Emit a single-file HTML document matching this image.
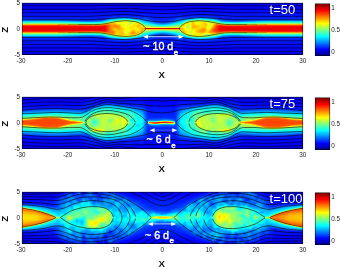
<!DOCTYPE html>
<html><head><meta charset="utf-8"><title>Current sheet evolution</title>
<style>
html,body{margin:0;padding:0;background:#fff}
body{width:340px;height:267px;position:relative;overflow:hidden;font-family:"Liberation Sans",sans-serif}
.r{position:absolute;left:22px;width:281px;height:1px}
.cb{position:absolute;left:315px;width:15px;height:52px;background:linear-gradient(180deg,#800000 0%,#ff0000 12.5%,#ffff00 37.5%,#00ffff 62.5%,#0000ff 87.5%,#000080 100%)}
svg{position:absolute;left:0;top:0}
.fl{fill:none;stroke:#000;stroke-width:1;stroke-opacity:.6}
.fl2{stroke-opacity:.4}
.fl3{stroke-opacity:.2}
.tk{font-size:6.3px;fill:#222}
.ax{font-size:9.6px;font-weight:bold;fill:#111}
.tl{font-size:13px;fill:#fff}
.an{font-size:10.7px;fill:#fff;stroke:#fff;stroke-width:.4}
.sub{font-size:8px}
.fr{fill:none;stroke:#000;stroke-width:.8;stroke-opacity:.65}
.ar{stroke:#fff;stroke-width:.8;fill:none}
.ah{fill:#fff}
</style></head><body>

<div class="r" style="top:3px;background:linear-gradient(90deg,#0000e6 0.5px,#0000e6 280.5px)"></div>
<div class="r" style="top:4px;background:linear-gradient(90deg,#0000eb 0.5px,#0000eb 280.5px)"></div>
<div class="r" style="top:5px;background:linear-gradient(90deg,#0000f0 0.5px,#0000f0 280.5px)"></div>
<div class="r" style="top:6px;background:linear-gradient(90deg,#0000f4 0.5px,#0000f4 280.5px)"></div>
<div class="r" style="top:7px;background:linear-gradient(90deg,#0000f8 0.5px,#0000f8 280.5px)"></div>
<div class="r" style="top:8px;background:linear-gradient(90deg,#0000fd 0.5px,#0000fd 280.5px)"></div>
<div class="r" style="top:9px;background:linear-gradient(90deg,#0002ff 0.5px,#0002ff 280.5px)"></div>
<div class="r" style="top:10px;background:linear-gradient(90deg,#0005ff 0.5px,#0005ff 280.5px)"></div>
<div class="r" style="top:11px;background:linear-gradient(90deg,#0009ff 0.5px,#0009ff 280.5px)"></div>
<div class="r" style="top:12px;background:linear-gradient(90deg,#000cff 0.5px,#000cff 280.5px)"></div>
<div class="r" style="top:13px;background:linear-gradient(90deg,#000fff 0.5px,#000fff 280.5px)"></div>
<div class="r" style="top:14px;background:linear-gradient(90deg,#0012ff 0.5px,#0012ff 118.5px,#001aff 122.5px,#0012ff 131.5px,#0013ff 151.5px,#001aff 158.5px,#0012ff 162.5px,#0012ff 280.5px)"></div>
<div class="r" style="top:15px;background:linear-gradient(90deg,#0015ff 0.5px,#0015ff 118.5px,#0021ff 122.5px,#0015ff 132.5px,#0016ff 151.5px,#0021ff 158.5px,#0015ff 162.5px,#0015ff 280.5px)"></div>
<div class="r" style="top:16px;background:linear-gradient(90deg,#0018ff 0.5px,#0018ff 86.5px,#002fff 101.5px,#0019ff 118.5px,#002aff 122.5px,#001aff 129.5px,#0018ff 140.5px,#001aff 151.5px,#002aff 158.5px,#0019ff 162.5px,#002fff 179.5px,#0018ff 194.5px,#0018ff 280.5px)"></div>
<div class="r" style="top:17px;background:linear-gradient(90deg,#001aff 0.5px,#001aff 84.5px,#004cff 93.5px,#005fff 101.5px,#0057ff 106.5px,#002bff 117.5px,#0038ff 123.5px,#0021ff 128.5px,#001bff 133.5px,#001dff 150.5px,#0038ff 157.5px,#0028ff 162.5px,#0057ff 174.5px,#005fff 179.5px,#004cff 187.5px,#001aff 196.5px,#001aff 280.5px)"></div>
<div class="r" style="top:18px;background:linear-gradient(90deg,#0026ff 0.5px,#001dff 80.5px,#0022ff 82.5px,#0037ff 85.5px,#006fff 89.5px,#00a3ff 95.5px,#00baff 99.5px,#00c1ff 102.5px,#00b5ff 106.5px,#006aff 113.5px,#004aff 118.5px,#004cff 123.5px,#002aff 128.5px,#001eff 133.5px,#001fff 148.5px,#002aff 152.5px,#004cff 157.5px,#004aff 162.5px,#006aff 167.5px,#00b5ff 174.5px,#00c1ff 178.5px,#00baff 181.5px,#00a3ff 185.5px,#006fff 191.5px,#0037ff 195.5px,#0022ff 198.5px,#001dff 200.5px,#0026ff 280.5px)"></div>
<div class="r" style="top:19px;background:linear-gradient(90deg,#0042ff 0.5px,#0041ff 35.5px,#0022ff 66.5px,#0030ff 79.5px,#0036ff 81.5px,#004aff 83.5px,#0070ff 85.5px,#00b7ff 88.5px,#00c6ff 89.5px,#00feff 97.5px,#07fff8 98.5px,#22ffdd 103.5px,#1bffe4 105.5px,#00feff 108.5px,#00cbff 113.5px,#0078ff 119.5px,#0069ff 123.5px,#0033ff 129.5px,#0022ff 135.5px,#0022ff 145.5px,#0033ff 151.5px,#0069ff 157.5px,#0078ff 161.5px,#00d6ff 168.5px,#00feff 172.5px,#09fff6 173.5px,#22ffdd 177.5px,#1cffe3 179.5px,#00feff 183.5px,#00cfff 190.5px,#00b7ff 192.5px,#005cff 196.5px,#003eff 198.5px,#002cff 203.5px,#0022ff 214.5px,#0041ff 245.5px,#0042ff 280.5px)"></div>
<div class="r" style="top:20px;background:linear-gradient(90deg,#007eff 0.5px,#007dff 36.5px,#0044ff 60.5px,#003dff 70.5px,#0052ff 77.5px,#006cff 81.5px,#008fff 83.5px,#00e6ff 86.5px,#00f8ff 87.5px,#04fffb 88.5px,#22ffdd 91.5px,#90ff6f 96.5px,#afff50 98.5px,#cbff34 101.5px,#d3ff2c 103.5px,#c9ff36 106.5px,#a2ff5d 109.5px,#4fffb0 112.5px,#0ffff0 114.5px,#00f7ff 115.5px,#00abff 120.5px,#0046ff 129.5px,#002cff 134.5px,#0025ff 140.5px,#002cff 146.5px,#0046ff 151.5px,#00abff 160.5px,#00f7ff 165.5px,#0ffff0 166.5px,#4fffb0 168.5px,#a2ff5d 171.5px,#c9ff36 174.5px,#d3ff2c 177.5px,#cbff34 179.5px,#afff50 182.5px,#90ff6f 184.5px,#22ffdd 189.5px,#04fffb 192.5px,#00f8ff 193.5px,#00e6ff 194.5px,#008fff 197.5px,#006cff 199.5px,#0052ff 203.5px,#003dff 210.5px,#0044ff 220.5px,#007dff 244.5px,#007eff 280.5px)"></div>
<div class="r" style="top:21px;background:linear-gradient(90deg,#00dbff 0.5px,#00d9ff 36.5px,#00c7ff 43.5px,#008bff 59.5px,#007bff 68.5px,#0086ff 73.5px,#00a1ff 78.5px,#00b4ff 80.5px,#00f7ff 83.5px,#0efff1 84.5px,#47ffb8 87.5px,#beff41 91.5px,#dbff24 93.5px,#ddff22 94.5px,#89ff76 95.5px,#92ff6d 96.5px,#bdff42 98.5px,#fbff04 102.5px,#f5ff0a 103.5px,#afff50 106.5px,#94ff6b 108.5px,#93ff6c 109.5px,#aaff55 111.5px,#afff50 112.5px,#d5ff2a 113.5px,#b6ff49 114.5px,#4dffb2 116.5px,#21ffde 117.5px,#04fffb 118.5px,#00ecff 119.5px,#0071ff 128.5px,#0051ff 131.5px,#0039ff 135.5px,#0031ff 141.5px,#003dff 146.5px,#005aff 150.5px,#00dcff 160.5px,#04fffb 162.5px,#21ffde 163.5px,#4dffb2 164.5px,#b6ff49 166.5px,#d5ff2a 167.5px,#c1ff3e 168.5px,#e1ff1e 169.5px,#f6ff09 170.5px,#f6ff09 171.5px,#caff35 173.5px,#bbff44 174.5px,#beff41 175.5px,#daff25 177.5px,#deff21 178.5px,#d1ff2e 181.5px,#b8ff47 183.5px,#8fff70 185.5px,#c9ff36 186.5px,#dbff24 187.5px,#beff41 189.5px,#47ffb8 193.5px,#0efff1 196.5px,#00f7ff 197.5px,#00b4ff 200.5px,#00a1ff 202.5px,#0086ff 207.5px,#007bff 212.5px,#008bff 221.5px,#00c7ff 237.5px,#00d9ff 244.5px,#00dbff 280.5px)"></div>
<div class="r" style="top:22px;background:linear-gradient(90deg,#33ffcc 0.5px,#31ffce 36.5px,#22ffdd 45.5px,#00ffff 57.5px,#00e4ff 68.5px,#00e9ff 71.5px,#01fffe 76.5px,#1cffe3 80.5px,#49ffb6 83.5px,#60ff9f 84.5px,#84ff7b 85.5px,#edff12 87.5px,#fff600 88.5px,#ffd200 89.5px,#f7ff08 90.5px,#fffb00 92.5px,#d5ff2a 95.5px,#fdff02 98.5px,#f8ff07 100.5px,#fff700 103.5px,#f6ff09 104.5px,#c9ff36 106.5px,#bcff43 107.5px,#bcff43 108.5px,#f2ff0d 111.5px,#f4ff0b 112.5px,#d5ff2a 115.5px,#d6ff29 116.5px,#b0ff4f 117.5px,#37ffc8 119.5px,#0efff1 120.5px,#00fbff 121.5px,#00dbff 124.5px,#0090ff 129.5px,#006cff 132.5px,#0050ff 136.5px,#0047ff 140.5px,#0050ff 144.5px,#006cff 148.5px,#0090ff 151.5px,#00dbff 156.5px,#00fbff 159.5px,#0efff1 160.5px,#37ffc8 161.5px,#b0ff4f 163.5px,#d6ff29 164.5px,#c2ff3d 165.5px,#c9ff36 166.5px,#d8ff27 167.5px,#f9ff06 168.5px,#ffdf00 169.5px,#ffc600 170.5px,#ffc800 171.5px,#fffa00 173.5px,#f1ff0e 174.5px,#edff12 175.5px,#fffb00 178.5px,#ffdc00 182.5px,#ffe200 183.5px,#fff700 184.5px,#cfff30 186.5px,#c0ff3f 187.5px,#a4ff5b 190.5px,#e2ff1d 191.5px,#fff600 192.5px,#edff12 193.5px,#84ff7b 195.5px,#60ff9f 196.5px,#49ffb6 197.5px,#1cffe3 200.5px,#01fffe 204.5px,#00e9ff 209.5px,#00e4ff 212.5px,#00ffff 223.5px,#22ffdd 235.5px,#31ffce 244.5px,#33ffcc 280.5px)"></div>
<div class="r" style="top:23px;background:linear-gradient(90deg,#8dff72 0.5px,#8cff73 35.5px,#4fffb0 60.5px,#44ffbb 70.5px,#58ffa7 77.5px,#71ff8e 80.5px,#85ff7a 81.5px,#a5ff5a 82.5px,#fffa00 84.5px,#ffea00 85.5px,#ffcf00 86.5px,#ffc500 87.5px,#ffc500 89.5px,#ffb500 91.5px,#ffb700 92.5px,#fffc00 95.5px,#fff100 98.5px,#ffff00 99.5px,#f0ff0f 100.5px,#ebff14 101.5px,#f9ff06 103.5px,#f3ff0c 104.5px,#bfff40 107.5px,#c3ff3c 108.5px,#f5ff0a 110.5px,#fff700 111.5px,#ffe800 115.5px,#fff500 116.5px,#e9ff16 117.5px,#f7ff08 118.5px,#62ff9d 120.5px,#33ffcc 121.5px,#1effe1 122.5px,#04fffb 125.5px,#00acff 131.5px,#008bff 134.5px,#0077ff 137.5px,#0070ff 140.5px,#0077ff 143.5px,#008bff 146.5px,#00acff 149.5px,#04fffb 155.5px,#1effe1 158.5px,#33ffcc 159.5px,#62ff9d 160.5px,#adff52 161.5px,#ffde00 162.5px,#e5ff1a 163.5px,#f0ff0f 167.5px,#fff600 168.5px,#ffd700 169.5px,#ffc400 170.5px,#ffc600 171.5px,#ffff00 174.5px,#feff01 176.5px,#ffeb00 179.5px,#ffc800 182.5px,#ffc600 183.5px,#ffd500 184.5px,#ffef00 185.5px,#f5ff0a 186.5px,#e5ff1a 187.5px,#e2ff1d 188.5px,#ebff14 190.5px,#f9ff06 191.5px,#ffdb00 193.5px,#ffd800 194.5px,#ffff00 196.5px,#a5ff5a 198.5px,#85ff7a 199.5px,#71ff8e 200.5px,#58ffa7 203.5px,#44ffbb 210.5px,#4fffb0 220.5px,#8cff73 245.5px,#8dff72 280.5px)"></div>
<div class="r" style="top:24px;background:linear-gradient(90deg,#ffba00 0.5px,#ffbb00 35.5px,#ffce00 42.5px,#fffd00 52.5px,#d4ff2b 63.5px,#c5ff3a 70.5px,#d2ff2d 74.5px,#f2ff0d 78.5px,#fffb00 79.5px,#ff9f00 82.5px,#ff8500 84.5px,#ff7700 86.5px,#ffa500 89.5px,#ffa800 90.5px,#ff9b00 92.5px,#ffa400 93.5px,#ffce00 95.5px,#ffd500 97.5px,#ffdf00 98.5px,#fff600 99.5px,#efff10 100.5px,#e0ff1f 101.5px,#f0ff0f 104.5px,#d4ff2b 107.5px,#daff25 108.5px,#fff600 110.5px,#ffea00 111.5px,#ffef00 113.5px,#ffe700 114.5px,#ffc800 116.5px,#ffd100 117.5px,#feff01 118.5px,#bcff43 119.5px,#b9ff46 120.5px,#83ff7c 121.5px,#57ffa8 122.5px,#48ffb7 123.5px,#3effc1 125.5px,#00fdff 130.5px,#00c6ff 135.5px,#00b4ff 138.5px,#00b1ff 140.5px,#00b4ff 142.5px,#00c6ff 145.5px,#00fdff 150.5px,#3effc1 155.5px,#48ffb7 157.5px,#57ffa8 158.5px,#83ff7c 159.5px,#b9ff46 160.5px,#fcff03 161.5px,#ffed00 162.5px,#ffed00 163.5px,#fcff03 164.5px,#e5ff1a 165.5px,#d8ff27 166.5px,#e1ff1e 167.5px,#feff01 168.5px,#ffdd00 169.5px,#ffc700 170.5px,#ffc400 171.5px,#ffed00 174.5px,#fff100 175.5px,#ffe100 180.5px,#ffc200 183.5px,#ffca00 184.5px,#feff01 186.5px,#e9ff16 187.5px,#e6ff19 188.5px,#f1ff0e 189.5px,#fff600 190.5px,#ff8b00 193.5px,#ff7700 194.5px,#ff7c00 195.5px,#ffa000 198.5px,#fffb00 201.5px,#f2ff0d 202.5px,#d2ff2d 206.5px,#c5ff3a 210.5px,#d4ff2b 217.5px,#fffd00 228.5px,#ffce00 238.5px,#ffbb00 245.5px,#ffba00 280.5px)"></div>
<div class="r" style="top:25px;background:linear-gradient(90deg,#ff3a00 0.5px,#ff3c00 36.5px,#ff7100 70.5px,#ff5c00 78.5px,#ff2700 82.5px,#ff2a00 83.5px,#ff3900 84.5px,#ff9900 89.5px,#ff9e00 90.5px,#ff8b00 92.5px,#ff8a00 93.5px,#ff9400 94.5px,#ffb900 97.5px,#f8ff07 100.5px,#e4ff1b 101.5px,#dfff20 102.5px,#efff10 104.5px,#f1ff0e 107.5px,#f9ff06 108.5px,#ffe100 111.5px,#ffea00 113.5px,#ffe100 114.5px,#ffbe00 116.5px,#ffc000 117.5px,#ffd200 118.5px,#fff500 119.5px,#ccff33 120.5px,#beff41 121.5px,#97ff68 122.5px,#7dff82 123.5px,#75ff8a 125.5px,#1affe5 135.5px,#07fff8 140.5px,#1affe5 145.5px,#75ff8a 155.5px,#7dff82 157.5px,#97ff68 158.5px,#beff41 159.5px,#f4ff0b 160.5px,#ffde00 161.5px,#ffe500 162.5px,#ffff00 163.5px,#c9ff36 165.5px,#bdff42 166.5px,#ccff33 167.5px,#f1ff0e 168.5px,#ffe400 169.5px,#ffc600 170.5px,#ffba00 171.5px,#ffbd00 172.5px,#ffd500 174.5px,#ffe400 179.5px,#ffdd00 181.5px,#ffcb00 183.5px,#ffd200 184.5px,#ffe900 185.5px,#f7ff08 186.5px,#e4ff1b 187.5px,#e8ff17 188.5px,#fffe00 189.5px,#ff7500 193.5px,#ff5a00 194.5px,#ff2a00 197.5px,#ff2700 198.5px,#ff5c00 202.5px,#ff7100 210.5px,#ff3c00 244.5px,#ff3a00 280.5px)"></div>
<div class="r" style="top:26px;background:linear-gradient(90deg,#ff0200 0.5px,#ff0a00 70.5px,#ff0100 81.5px,#ff1400 83.5px,#ff7e00 88.5px,#ff9b00 90.5px,#ff8700 94.5px,#ff9500 96.5px,#ffa600 97.5px,#fff600 100.5px,#f5ff0a 101.5px,#edff12 103.5px,#fcff03 105.5px,#ffe000 110.5px,#ffe900 113.5px,#ffbe00 116.5px,#ffc000 117.5px,#ffd900 119.5px,#ffee00 120.5px,#d8ff27 121.5px,#d2ff2d 122.5px,#acff53 123.5px,#70ff8f 135.5px,#64ff9b 140.5px,#70ff8f 145.5px,#acff53 157.5px,#d1ff2e 158.5px,#e1ff1e 159.5px,#ffe400 160.5px,#ffe400 161.5px,#fffb00 162.5px,#baff45 165.5px,#afff50 166.5px,#c1ff3e 167.5px,#ebff14 168.5px,#ffe400 169.5px,#ffc300 170.5px,#ffb300 171.5px,#ffb200 172.5px,#ffdd00 178.5px,#ffdf00 179.5px,#ffce00 182.5px,#ffcf00 183.5px,#ffe000 184.5px,#fffd00 185.5px,#e5ff1a 186.5px,#d9ff26 187.5px,#ebff14 188.5px,#ffed00 189.5px,#ffa300 191.5px,#ff4700 194.5px,#ff1100 197.5px,#ff0000 199.5px,#ff0a00 210.5px,#ff0200 280.5px)"></div>
<div class="r" style="top:27px;background:linear-gradient(90deg,#f10000 0.5px,#f00000 81.5px,#f80000 82.5px,#ff0800 83.5px,#ff7900 88.5px,#ff9e00 90.5px,#ffa500 92.5px,#ff8e00 95.5px,#ff9100 96.5px,#ffa000 97.5px,#ffe300 100.5px,#fffd00 102.5px,#fcff03 103.5px,#ffe500 109.5px,#ffee00 113.5px,#ffd000 116.5px,#ffd700 118.5px,#ffcd00 120.5px,#ffe500 121.5px,#ebff14 122.5px,#e7ff18 158.5px,#ffea00 159.5px,#ffd600 160.5px,#ffea00 161.5px,#fdff02 162.5px,#c3ff3c 165.5px,#bcff43 166.5px,#ceff31 167.5px,#f5ff0a 168.5px,#ffdf00 169.5px,#ffc200 170.5px,#ffb800 171.5px,#ffd900 178.5px,#ffbd00 182.5px,#ffca00 183.5px,#ffe800 184.5px,#f2ff0d 185.5px,#d9ff26 186.5px,#d9ff26 187.5px,#f8ff07 188.5px,#ffab00 190.5px,#ff5300 193.5px,#ff1400 196.5px,#ff0400 197.5px,#f70000 198.5px,#f00000 199.5px,#f10000 280.5px)"></div>
<div class="r" style="top:28px;background:linear-gradient(90deg,#ec0000 0.5px,#ec0000 80.5px,#f50000 82.5px,#ff0600 83.5px,#ff7900 88.5px,#ffb100 91.5px,#ffb900 92.5px,#ffb600 93.5px,#ffa000 95.5px,#ff9d00 96.5px,#ffa500 97.5px,#ffed00 102.5px,#fffa00 104.5px,#ffe800 110.5px,#fff200 113.5px,#ffe200 118.5px,#ffb700 120.5px,#ffa900 121.5px,#ff6d00 122.5px,#ff1d00 123.5px,#ec0000 124.5px,#d80000 125.5px,#d80000 129.5px,#d80000 155.5px,#ec0000 156.5px,#ff1f00 157.5px,#ff7500 158.5px,#ffb900 159.5px,#ffc700 160.5px,#fff800 162.5px,#f5ff0a 163.5px,#d9ff26 166.5px,#e4ff1b 167.5px,#ffff00 168.5px,#ffe000 169.5px,#ffcd00 170.5px,#ffca00 171.5px,#ffd500 173.5px,#ffd000 177.5px,#ffa600 181.5px,#ffa700 182.5px,#ffbd00 183.5px,#ffe500 184.5px,#f3ff0c 185.5px,#e1ff1e 186.5px,#ecff13 187.5px,#ffeb00 188.5px,#ff8d00 190.5px,#ff6f00 191.5px,#ff2100 195.5px,#ff0200 197.5px,#f40000 198.5px,#ec0000 200.5px,#ec0000 280.5px)"></div>
<div class="r" style="top:29px;background:linear-gradient(90deg,#ef0000 0.5px,#ef0000 81.5px,#f60000 82.5px,#ff0600 83.5px,#ff6500 87.5px,#ffc200 92.5px,#ffc600 93.5px,#ffaf00 96.5px,#ffb100 97.5px,#ffcd00 100.5px,#fffa00 103.5px,#ffff00 104.5px,#fff400 108.5px,#ffdd00 111.5px,#fff300 114.5px,#ffef00 117.5px,#ffdc00 118.5px,#ffa600 120.5px,#ffad00 121.5px,#ffd000 122.5px,#ffd300 123.5px,#ffbe00 125.5px,#ffbe00 155.5px,#ffd200 157.5px,#ffd400 158.5px,#ffbb00 159.5px,#ffb900 160.5px,#fffa00 163.5px,#eeff11 166.5px,#efff10 167.5px,#faff05 168.5px,#ffe600 170.5px,#ffe400 173.5px,#ff9000 181.5px,#ff9400 182.5px,#ffae00 183.5px,#fff800 185.5px,#feff01 186.5px,#ffed00 187.5px,#ff7300 190.5px,#ff5b00 191.5px,#ff0400 197.5px,#f60000 198.5px,#ef0000 199.5px,#ef0000 280.5px)"></div>
<div class="r" style="top:30px;background:linear-gradient(90deg,#fd0000 0.5px,#ff0100 82.5px,#ff0e00 83.5px,#ff6500 87.5px,#ff9100 90.5px,#ffc900 93.5px,#ffcb00 94.5px,#ffbe00 97.5px,#ffc200 99.5px,#ffcc00 100.5px,#fff800 102.5px,#f5ff0a 103.5px,#f1ff0e 104.5px,#fff800 107.5px,#ffc500 111.5px,#ffcb00 112.5px,#ffe900 114.5px,#ffeb00 116.5px,#ffe000 117.5px,#ffae00 119.5px,#ffa800 120.5px,#fff200 121.5px,#d3ff2c 122.5px,#b3ff4c 123.5px,#adff52 124.5px,#7fff80 135.5px,#75ff8a 140.5px,#7fff80 145.5px,#adff52 156.5px,#b3ff4c 157.5px,#d4ff2b 158.5px,#fff700 159.5px,#ffb600 160.5px,#ffbd00 161.5px,#ffea00 163.5px,#fffe00 165.5px,#e9ff16 167.5px,#e7ff18 168.5px,#faff05 170.5px,#ffe900 173.5px,#ffc000 175.5px,#ff9900 178.5px,#ff8800 181.5px,#ff8f00 182.5px,#ffa800 183.5px,#ffcc00 184.5px,#ffe200 185.5px,#ffdd00 186.5px,#ff6700 190.5px,#ff0200 198.5px,#fd0000 280.5px)"></div>
<div class="r" style="top:31px;background:linear-gradient(90deg,#ff2300 0.5px,#ff2500 37.5px,#ff5800 70.5px,#ff4400 78.5px,#ff1c00 81.5px,#ff1700 82.5px,#ff2200 83.5px,#ff6600 87.5px,#ff7b00 90.5px,#ff8b00 91.5px,#ffc100 93.5px,#ffcf00 94.5px,#ffc200 99.5px,#ffc800 100.5px,#fffa00 102.5px,#edff12 103.5px,#e7ff18 104.5px,#fffe00 106.5px,#ffdc00 108.5px,#ffb000 110.5px,#ffa600 111.5px,#ffb100 112.5px,#ffd600 114.5px,#ffda00 115.5px,#ffcd00 117.5px,#ffb200 119.5px,#ffe600 120.5px,#fff500 121.5px,#a1ff5e 122.5px,#87ff78 123.5px,#7fff80 125.5px,#2cffd3 135.5px,#1affe5 140.5px,#2cffd3 145.5px,#7fff80 155.5px,#87ff78 157.5px,#a1ff5e 158.5px,#ffef00 159.5px,#ffe700 160.5px,#ffb800 161.5px,#fff500 165.5px,#f5ff0a 166.5px,#d7ff28 168.5px,#daff25 169.5px,#fffc00 172.5px,#ffbe00 175.5px,#ff9900 178.5px,#ff9400 179.5px,#ff9600 181.5px,#ff9f00 182.5px,#ffd100 184.5px,#ffd900 185.5px,#ffc800 186.5px,#ff8000 189.5px,#ff1800 198.5px,#ff1c00 199.5px,#ff4400 202.5px,#ff5800 210.5px,#ff2500 243.5px,#ff2300 280.5px)"></div>
<div class="r" style="top:32px;background:linear-gradient(90deg,#ff9900 0.5px,#ff9c00 37.5px,#ffb300 46.5px,#fffd00 62.5px,#efff10 70.5px,#fcff03 74.5px,#ffe100 78.5px,#ff8100 82.5px,#ff6600 85.5px,#ff6600 86.5px,#ff7000 88.5px,#ff6f00 90.5px,#ff7b00 91.5px,#ffba00 93.5px,#ffd000 94.5px,#ffd300 95.5px,#ffbf00 99.5px,#ffc200 100.5px,#ffd400 101.5px,#fff000 102.5px,#f4ff0b 103.5px,#ecff13 104.5px,#f6ff09 105.5px,#fff300 106.5px,#ff9700 110.5px,#ff9200 111.5px,#ffc300 114.5px,#ffc600 117.5px,#ffd500 118.5px,#fffa00 119.5px,#c5ff3a 120.5px,#64ff9b 122.5px,#53ffac 123.5px,#49ffb6 125.5px,#00ffff 131.5px,#00f4ff 132.5px,#00ceff 136.5px,#00c1ff 140.5px,#00ceff 144.5px,#00ffff 149.5px,#49ffb6 155.5px,#53ffac 157.5px,#64ff9b 158.5px,#c5ff3a 160.5px,#ffec00 161.5px,#ffcd00 162.5px,#ffcb00 163.5px,#ffef00 165.5px,#f6ff09 166.5px,#dfff20 167.5px,#d4ff2b 168.5px,#d9ff26 169.5px,#f7ff08 171.5px,#fffa00 172.5px,#ffd000 175.5px,#ffac00 179.5px,#ffb400 181.5px,#ffed00 184.5px,#ffea00 185.5px,#ffb700 187.5px,#ffa600 188.5px,#ff8500 192.5px,#ff6900 194.5px,#ff6600 195.5px,#ff8400 198.5px,#ffe100 202.5px,#fcff03 206.5px,#efff10 210.5px,#fffd00 218.5px,#ffb300 234.5px,#ff9c00 243.5px,#ff9900 280.5px)"></div>
<div class="r" style="top:33px;background:linear-gradient(90deg,#abff54 0.5px,#a9ff56 35.5px,#65ff9a 59.5px,#56ffa9 70.5px,#62ff9d 75.5px,#7aff85 79.5px,#89ff76 80.5px,#a3ff5c 81.5px,#f6ff09 83.5px,#ffee00 84.5px,#ffcc00 85.5px,#ffb900 86.5px,#ff8800 89.5px,#ff7f00 90.5px,#ff8600 91.5px,#ffbe00 93.5px,#ffd200 94.5px,#ffd400 95.5px,#ffbf00 98.5px,#ffc200 100.5px,#ffce00 101.5px,#fffa00 103.5px,#faff05 104.5px,#fffc00 105.5px,#ffa700 109.5px,#ff9a00 110.5px,#ff9800 111.5px,#ffb100 113.5px,#ffbe00 115.5px,#ffd700 116.5px,#fffc00 117.5px,#d8ff27 118.5px,#bdff42 119.5px,#78ff87 120.5px,#41ffbe 121.5px,#29ffd6 122.5px,#1bffe4 124.5px,#01fffe 126.5px,#00f2ff 127.5px,#00b9ff 131.5px,#0097ff 134.5px,#0082ff 137.5px,#007bff 140.5px,#0082ff 143.5px,#0097ff 146.5px,#00b9ff 149.5px,#01fffe 154.5px,#1bffe4 156.5px,#29ffd6 158.5px,#41ffbe 159.5px,#78ff87 160.5px,#bdff42 161.5px,#eaff15 162.5px,#ffff00 163.5px,#fff500 164.5px,#fff500 165.5px,#dfff20 167.5px,#daff25 168.5px,#fffa00 171.5px,#ffe500 176.5px,#ffcd00 179.5px,#ffdb00 181.5px,#ffef00 182.5px,#f5ff0a 183.5px,#e4ff1b 184.5px,#ebff14 185.5px,#fff900 186.5px,#ffe100 187.5px,#ffd300 188.5px,#ffc500 191.5px,#ffc800 194.5px,#ffd300 195.5px,#fff500 196.5px,#f0ff0f 197.5px,#a3ff5c 199.5px,#89ff76 200.5px,#7aff85 201.5px,#62ff9d 205.5px,#56ffa9 210.5px,#65ff9a 221.5px,#a9ff56 245.5px,#abff54 280.5px)"></div>
<div class="r" style="top:34px;background:linear-gradient(90deg,#41ffbe 0.5px,#40ffbf 36.5px,#32ffcd 45.5px,#02fffd 64.5px,#00ffff 71.5px,#1cffe3 78.5px,#2cffd3 80.5px,#48ffb7 82.5px,#77ff88 84.5px,#dcff23 86.5px,#fff200 87.5px,#fffd00 88.5px,#ffdd00 90.5px,#ffd700 91.5px,#ffde00 94.5px,#ffc000 97.5px,#ffbd00 98.5px,#ffd200 101.5px,#fff800 104.5px,#fff400 105.5px,#ffc900 108.5px,#ffbf00 110.5px,#ffc600 112.5px,#fff300 115.5px,#ffcf00 116.5px,#c3ff3c 117.5px,#95ff6a 118.5px,#4effb1 119.5px,#1bffe4 120.5px,#05fffa 121.5px,#00f9ff 122.5px,#00e5ff 124.5px,#009aff 129.5px,#006bff 133.5px,#0057ff 136.5px,#004eff 140.5px,#0057ff 144.5px,#006bff 147.5px,#009aff 151.5px,#00e5ff 156.5px,#05fffa 159.5px,#1bffe4 160.5px,#4effb1 161.5px,#95ff6a 162.5px,#c3ff3c 163.5px,#fffd00 164.5px,#c5ff3a 165.5px,#c4ff3b 166.5px,#c6ff39 167.5px,#fffa00 170.5px,#ffea00 171.5px,#ffe500 172.5px,#fff400 176.5px,#ffe700 179.5px,#fffb00 181.5px,#b8ff47 184.5px,#bbff44 185.5px,#d7ff28 187.5px,#cfff30 192.5px,#fff200 193.5px,#dcff23 194.5px,#77ff88 196.5px,#48ffb7 198.5px,#2cffd3 200.5px,#1cffe3 202.5px,#00ffff 209.5px,#02fffd 216.5px,#32ffcd 235.5px,#40ffbf 244.5px,#41ffbe 280.5px)"></div>
<div class="r" style="top:35px;background:linear-gradient(90deg,#00f0ff 0.5px,#00eeff 36.5px,#00d9ff 44.5px,#009bff 60.5px,#008bff 68.5px,#0093ff 72.5px,#00b6ff 78.5px,#00cbff 80.5px,#00f3ff 82.5px,#0afff5 83.5px,#43ffbc 86.5px,#c7ff38 90.5px,#e0ff1f 92.5px,#d6ff29 93.5px,#fff900 96.5px,#ffe300 98.5px,#fffd00 103.5px,#f4ff0b 105.5px,#faff05 107.5px,#d6ff29 112.5px,#ffe400 113.5px,#cdff32 114.5px,#a7ff58 115.5px,#3affc5 117.5px,#13ffec 118.5px,#00f7ff 119.5px,#0079ff 128.5px,#0057ff 131.5px,#003dff 135.5px,#0034ff 140.5px,#003dff 145.5px,#0057ff 149.5px,#0079ff 152.5px,#00f7ff 161.5px,#13ffec 162.5px,#3affc5 163.5px,#a7ff58 165.5px,#cdff32 166.5px,#c7ff38 167.5px,#95ff6a 168.5px,#deff21 170.5px,#f9ff06 171.5px,#fff700 172.5px,#fff400 174.5px,#fffe00 176.5px,#f4ff0b 179.5px,#d3ff2c 181.5px,#74ff8b 184.5px,#6cff93 185.5px,#73ff8c 187.5px,#e0ff1f 188.5px,#c7ff38 190.5px,#43ffbc 194.5px,#0afff5 197.5px,#00f3ff 198.5px,#00cbff 200.5px,#00b6ff 202.5px,#0093ff 208.5px,#008bff 212.5px,#009bff 220.5px,#00d9ff 236.5px,#00eeff 244.5px,#00f0ff 280.5px)"></div>
<div class="r" style="top:36px;background:linear-gradient(90deg,#008dff 0.5px,#008bff 36.5px,#004fff 60.5px,#0046ff 69.5px,#0052ff 74.5px,#006fff 80.5px,#008bff 82.5px,#00f6ff 86.5px,#06fff9 87.5px,#29ffd6 90.5px,#a1ff5e 95.5px,#daff25 100.5px,#fff300 101.5px,#ffff00 103.5px,#e9ff16 106.5px,#aeff51 110.5px,#98ff67 111.5px,#78ff87 112.5px,#0afff5 115.5px,#00f3ff 116.5px,#00b6ff 120.5px,#004cff 129.5px,#002eff 134.5px,#0027ff 140.5px,#002eff 146.5px,#004cff 151.5px,#00b6ff 160.5px,#00f3ff 164.5px,#0afff5 165.5px,#98ff67 169.5px,#bfff40 171.5px,#d8ff27 173.5px,#ffe500 174.5px,#fcff03 178.5px,#f2ff0d 179.5px,#daff25 180.5px,#a1ff5e 185.5px,#29ffd6 190.5px,#06fff9 193.5px,#00f6ff 194.5px,#008bff 198.5px,#006fff 200.5px,#0052ff 206.5px,#0046ff 211.5px,#004fff 220.5px,#008bff 244.5px,#008dff 280.5px)"></div>
<div class="r" style="top:37px;background:linear-gradient(90deg,#004cff 0.5px,#004bff 35.5px,#0026ff 66.5px,#0031ff 77.5px,#0038ff 80.5px,#0047ff 82.5px,#007eff 85.5px,#00c9ff 88.5px,#00d6ff 89.5px,#02fffd 95.5px,#3effc1 101.5px,#47ffb8 103.5px,#3effc1 105.5px,#00fdff 110.5px,#00cdff 114.5px,#0085ff 119.5px,#006fff 123.5px,#0036ff 129.5px,#0023ff 135.5px,#0023ff 145.5px,#0036ff 151.5px,#006fff 157.5px,#0085ff 161.5px,#00e6ff 168.5px,#00fdff 170.5px,#0afff5 171.5px,#3effc1 175.5px,#47ffb8 177.5px,#3effc1 179.5px,#02fffd 185.5px,#00d6ff 191.5px,#00c9ff 192.5px,#007eff 195.5px,#0047ff 198.5px,#0038ff 200.5px,#002cff 206.5px,#0028ff 218.5px,#004cff 246.5px,#004cff 280.5px)"></div>
<div class="r" style="top:38px;background:linear-gradient(90deg,#002aff 0.5px,#002aff 35.5px,#001dff 56.5px,#0020ff 80.5px,#0034ff 84.5px,#007eff 89.5px,#00aeff 94.5px,#00c6ff 98.5px,#00d1ff 102.5px,#00ccff 105.5px,#00b9ff 108.5px,#0070ff 114.5px,#0053ff 118.5px,#0051ff 123.5px,#002dff 128.5px,#001fff 133.5px,#0022ff 149.5px,#002dff 152.5px,#0051ff 157.5px,#0053ff 162.5px,#0070ff 166.5px,#00b9ff 172.5px,#00ccff 175.5px,#00d1ff 178.5px,#00c6ff 182.5px,#00aeff 186.5px,#007eff 191.5px,#0034ff 196.5px,#0020ff 200.5px,#001dff 224.5px,#002aff 245.5px,#002aff 280.5px)"></div>
<div class="r" style="top:39px;background:linear-gradient(90deg,#001aff 0.5px,#001aff 83.5px,#0052ff 92.5px,#006eff 102.5px,#002dff 118.5px,#003bff 123.5px,#0023ff 128.5px,#001bff 133.5px,#001eff 150.5px,#003bff 157.5px,#002dff 162.5px,#006eff 178.5px,#0052ff 188.5px,#001aff 197.5px,#001aff 280.5px)"></div>
<div class="r" style="top:40px;background:linear-gradient(90deg,#0018ff 0.5px,#0018ff 86.5px,#0027ff 91.5px,#0037ff 101.5px,#001bff 118.5px,#002cff 123.5px,#001cff 128.5px,#0018ff 133.5px,#0019ff 150.5px,#002cff 157.5px,#001bff 162.5px,#0037ff 179.5px,#0027ff 189.5px,#0018ff 194.5px,#0018ff 280.5px)"></div>
<div class="r" style="top:41px;background:linear-gradient(90deg,#0016ff 0.5px,#0016ff 89.5px,#001dff 101.5px,#0016ff 118.5px,#0023ff 122.5px,#0016ff 132.5px,#0016ff 151.5px,#0023ff 158.5px,#0016ff 162.5px,#001dff 179.5px,#0016ff 191.5px,#0016ff 280.5px)"></div>
<div class="r" style="top:42px;background:linear-gradient(90deg,#0013ff 0.5px,#0013ff 118.5px,#001bff 122.5px,#0013ff 131.5px,#0013ff 151.5px,#001bff 158.5px,#0013ff 162.5px,#0013ff 280.5px)"></div>
<div class="r" style="top:43px;background:linear-gradient(90deg,#0010ff 0.5px,#0010ff 280.5px)"></div>
<div class="r" style="top:44px;background:linear-gradient(90deg,#000dff 0.5px,#000dff 280.5px)"></div>
<div class="r" style="top:45px;background:linear-gradient(90deg,#000aff 0.5px,#000aff 280.5px)"></div>
<div class="r" style="top:46px;background:linear-gradient(90deg,#0006ff 0.5px,#0006ff 280.5px)"></div>
<div class="r" style="top:47px;background:linear-gradient(90deg,#0002ff 0.5px,#0002ff 280.5px)"></div>
<div class="r" style="top:48px;background:linear-gradient(90deg,#0000fd 0.5px,#0000fd 280.5px)"></div>
<div class="r" style="top:49px;background:linear-gradient(90deg,#0000f9 0.5px,#0000f9 280.5px)"></div>
<div class="r" style="top:50px;background:linear-gradient(90deg,#0000f5 0.5px,#0000f5 280.5px)"></div>
<div class="r" style="top:51px;background:linear-gradient(90deg,#0000f0 0.5px,#0000f0 280.5px)"></div>
<div class="r" style="top:52px;background:linear-gradient(90deg,#0000ec 0.5px,#0000ec 280.5px)"></div>
<div class="r" style="top:53px;background:linear-gradient(90deg,#0000e7 0.5px,#0000e7 280.5px)"></div>
<div class="r" style="top:54px;background:linear-gradient(90deg,#0000e2 0.5px,#0000e2 280.5px)"></div>
<div class="r" style="top:97px;background:linear-gradient(90deg,#0000e6 0.5px,#0000e6 56.5px,#0000ff 65.5px,#0000ff 103.5px,#0000fb 119.5px,#0000e6 126.5px,#0000e6 151.5px,#0000fb 159.5px,#0000ff 212.5px,#0000e6 222.5px,#0000e6 280.5px)"></div>
<div class="r" style="top:98px;background:linear-gradient(90deg,#0000eb 0.5px,#0000eb 56.5px,#0001ff 63.5px,#0001ff 119.5px,#0000eb 127.5px,#0000eb 152.5px,#0001ff 159.5px,#0001ff 215.5px,#0000eb 222.5px,#0000eb 280.5px)"></div>
<div class="r" style="top:99px;background:linear-gradient(90deg,#0000f0 0.5px,#0000f0 56.5px,#0002ff 62.5px,#0009ff 66.5px,#0009ff 104.5px,#0001ff 121.5px,#0000f0 127.5px,#0000f0 152.5px,#0001ff 157.5px,#0009ff 174.5px,#0009ff 212.5px,#0002ff 216.5px,#0000f0 222.5px,#0000f0 280.5px)"></div>
<div class="r" style="top:100px;background:linear-gradient(90deg,#0000f4 0.5px,#0000f4 55.5px,#0000ff 60.5px,#000dff 65.5px,#000eff 102.5px,#000aff 119.5px,#0000fd 123.5px,#0000f4 126.5px,#0000f4 151.5px,#0002ff 156.5px,#000aff 159.5px,#000eff 176.5px,#000dff 213.5px,#0000ff 218.5px,#0000f4 223.5px,#0000f4 280.5px)"></div>
<div class="r" style="top:101px;background:linear-gradient(90deg,#0000f8 0.5px,#0000fc 58.5px,#0012ff 65.5px,#0012ff 102.5px,#000eff 119.5px,#0000fd 124.5px,#0000fd 154.5px,#000eff 159.5px,#0012ff 176.5px,#0012ff 213.5px,#0000fc 220.5px,#0000f8 280.5px)"></div>
<div class="r" style="top:102px;background:linear-gradient(90deg,#0000fd 0.5px,#0000fe 57.5px,#0016ff 65.5px,#0016ff 102.5px,#0012ff 119.5px,#0000ff 125.5px,#0000ff 153.5px,#0012ff 159.5px,#0016ff 176.5px,#0016ff 213.5px,#0000fe 221.5px,#0000fd 280.5px)"></div>
<div class="r" style="top:103px;background:linear-gradient(90deg,#0002ff 0.5px,#0002ff 56.5px,#001aff 65.5px,#001aff 81.5px,#002cff 84.5px,#002fff 86.5px,#001aff 91.5px,#0016ff 119.5px,#0002ff 126.5px,#0002ff 152.5px,#0016ff 159.5px,#001aff 187.5px,#002fff 192.5px,#002cff 194.5px,#001aff 197.5px,#001aff 213.5px,#0002ff 222.5px,#0002ff 280.5px)"></div>
<div class="r" style="top:104px;background:linear-gradient(90deg,#0005ff 0.5px,#0005ff 56.5px,#001dff 65.5px,#001dff 77.5px,#005aff 82.5px,#0068ff 86.5px,#005dff 89.5px,#0031ff 95.5px,#001dff 99.5px,#001aff 119.5px,#0006ff 126.5px,#0006ff 152.5px,#001aff 159.5px,#001dff 179.5px,#0031ff 183.5px,#005dff 189.5px,#0068ff 192.5px,#005aff 196.5px,#001dff 201.5px,#001dff 213.5px,#0005ff 222.5px,#0005ff 280.5px)"></div>
<div class="r" style="top:105px;background:linear-gradient(90deg,#0009ff 0.5px,#0009ff 56.5px,#001fff 64.5px,#0021ff 74.5px,#0077ff 79.5px,#0096ff 83.5px,#009cff 86.5px,#008dff 90.5px,#003eff 102.5px,#0020ff 109.5px,#001dff 119.5px,#0009ff 126.5px,#0009ff 152.5px,#001dff 159.5px,#0022ff 170.5px,#0049ff 178.5px,#0092ff 189.5px,#009cff 192.5px,#0096ff 195.5px,#0077ff 199.5px,#0021ff 204.5px,#001fff 214.5px,#0009ff 222.5px,#0009ff 280.5px)"></div>
<div class="r" style="top:106px;background:linear-gradient(90deg,#000cff 0.5px,#000cff 56.5px,#0023ff 64.5px,#0024ff 71.5px,#0033ff 72.5px,#007aff 75.5px,#00a3ff 78.5px,#00c4ff 82.5px,#00ceff 86.5px,#00baff 91.5px,#004dff 107.5px,#0028ff 116.5px,#000cff 126.5px,#000cff 152.5px,#0043ff 169.5px,#0065ff 175.5px,#00c0ff 188.5px,#00ceff 192.5px,#00c4ff 196.5px,#00a3ff 200.5px,#007aff 203.5px,#0033ff 206.5px,#0024ff 207.5px,#0023ff 214.5px,#000cff 222.5px,#000cff 280.5px)"></div>
<div class="r" style="top:107px;background:linear-gradient(90deg,#000fff 0.5px,#000fff 56.5px,#0026ff 64.5px,#0027ff 69.5px,#0083ff 72.5px,#00c3ff 76.5px,#00e3ff 79.5px,#02fffd 86.5px,#01fffe 88.5px,#00f2ff 91.5px,#00e6ff 92.5px,#00b1ff 100.5px,#006dff 108.5px,#003aff 119.5px,#0015ff 124.5px,#0010ff 152.5px,#001aff 155.5px,#003aff 159.5px,#006dff 170.5px,#00b1ff 178.5px,#00feff 189.5px,#0cfff3 192.5px,#00ffff 195.5px,#00daff 200.5px,#00b4ff 203.5px,#0083ff 206.5px,#0027ff 209.5px,#0026ff 214.5px,#000fff 222.5px,#000fff 280.5px)"></div>
<div class="r" style="top:108px;background:linear-gradient(90deg,#0012ff 0.5px,#0012ff 13.5px,#0027ff 24.5px,#002dff 34.5px,#0012ff 56.5px,#0029ff 62.5px,#002aff 66.5px,#0035ff 67.5px,#004bff 68.5px,#00a4ff 71.5px,#00ddff 74.5px,#00e1ff 75.5px,#00f0ff 76.5px,#00eeff 77.5px,#00fbff 78.5px,#0bfff4 79.5px,#21ffde 84.5px,#17ffe8 87.5px,#02fffd 89.5px,#00ffff 90.5px,#1affe5 92.5px,#1cffe3 93.5px,#18ffe7 94.5px,#00feff 96.5px,#00e2ff 99.5px,#00e6ff 100.5px,#00ceff 103.5px,#0076ff 112.5px,#0053ff 119.5px,#0016ff 125.5px,#0013ff 152.5px,#001cff 154.5px,#0053ff 159.5px,#007eff 167.5px,#00fbff 180.5px,#13ffec 184.5px,#0bfff4 188.5px,#1cffe3 190.5px,#08fff7 193.5px,#18ffe7 196.5px,#00feff 199.5px,#06fff9 201.5px,#00ffff 202.5px,#00f3ff 203.5px,#00b9ff 206.5px,#008aff 208.5px,#004bff 210.5px,#0035ff 211.5px,#002aff 212.5px,#0029ff 216.5px,#0012ff 222.5px,#002dff 244.5px,#0027ff 254.5px,#0012ff 265.5px,#0012ff 280.5px)"></div>
<div class="r" style="top:109px;background:linear-gradient(90deg,#0015ff 0.5px,#003dff 14.5px,#0052ff 31.5px,#0051ff 38.5px,#0038ff 54.5px,#0036ff 64.5px,#0069ff 67.5px,#00daff 71.5px,#00f6ff 73.5px,#0afff5 74.5px,#00f8ff 76.5px,#00fcff 77.5px,#2cffd3 79.5px,#2affd5 81.5px,#37ffc8 83.5px,#29ffd6 87.5px,#05fffa 90.5px,#21ffde 93.5px,#1fffe0 95.5px,#0afff5 98.5px,#1cffe3 100.5px,#1bffe4 101.5px,#00ffff 103.5px,#00e5ff 106.5px,#008fff 113.5px,#006dff 119.5px,#001aff 125.5px,#0016ff 152.5px,#0024ff 154.5px,#006dff 159.5px,#0080ff 163.5px,#0099ff 166.5px,#02fffd 174.5px,#0dfff2 175.5px,#0afff5 176.5px,#28ffd7 178.5px,#2dffd2 179.5px,#1affe5 182.5px,#0efff1 187.5px,#2effd1 190.5px,#17ffe8 193.5px,#24ffdb 196.5px,#12ffed 199.5px,#1fffe0 203.5px,#08fff7 205.5px,#00f1ff 206.5px,#00c2ff 208.5px,#0069ff 211.5px,#0036ff 214.5px,#0038ff 224.5px,#0051ff 240.5px,#0052ff 247.5px,#003fff 263.5px,#0017ff 277.5px,#0015ff 280.5px)"></div>
<div class="r" style="top:110px;background:linear-gradient(90deg,#003cff 0.5px,#0061ff 14.5px,#0077ff 33.5px,#005aff 56.5px,#004cff 61.5px,#0057ff 63.5px,#0071ff 65.5px,#009eff 67.5px,#00ddff 69.5px,#08fff7 71.5px,#00ffff 72.5px,#1affe5 74.5px,#19ffe6 75.5px,#0efff1 76.5px,#19ffe6 77.5px,#3affc5 78.5px,#4effb1 79.5px,#40ffbf 81.5px,#4cffb3 83.5px,#3bffc4 85.5px,#3effc1 87.5px,#24ffdb 89.5px,#21ffde 90.5px,#28ffd7 92.5px,#24ffdb 94.5px,#31ffce 96.5px,#26ffd9 98.5px,#2dffd2 100.5px,#23ffdc 101.5px,#0afff5 102.5px,#00f8ff 103.5px,#02fffd 104.5px,#13ffec 105.5px,#16ffe9 106.5px,#0efff1 107.5px,#00fdff 108.5px,#00caff 111.5px,#00a4ff 114.5px,#0080ff 119.5px,#002bff 124.5px,#0018ff 126.5px,#0018ff 152.5px,#002bff 154.5px,#0080ff 159.5px,#00aeff 165.5px,#00f7ff 170.5px,#17ffe8 171.5px,#1effe1 175.5px,#3fffc0 178.5px,#3dffc2 179.5px,#13ffec 182.5px,#1bffe4 184.5px,#15ffea 187.5px,#3fffc0 190.5px,#21ffde 194.5px,#33ffcc 197.5px,#21ffde 200.5px,#2dffd2 203.5px,#1bffe4 207.5px,#00f5ff 208.5px,#009eff 211.5px,#0071ff 213.5px,#0057ff 215.5px,#004cff 217.5px,#005aff 222.5px,#0077ff 245.5px,#0061ff 264.5px,#003aff 280.5px)"></div>
<div class="r" style="top:111px;background:linear-gradient(90deg,#0064ff 0.5px,#0088ff 15.5px,#00a2ff 34.5px,#0071ff 60.5px,#0078ff 62.5px,#008eff 64.5px,#00b6ff 66.5px,#00f2ff 68.5px,#19ffe6 69.5px,#21ffde 70.5px,#1dffe2 72.5px,#2bffd4 74.5px,#28ffd7 76.5px,#5effa1 79.5px,#55ffaa 81.5px,#5effa1 83.5px,#44ffbb 85.5px,#4dffb2 87.5px,#44ffbb 89.5px,#4affb5 91.5px,#32ffcd 93.5px,#31ffce 94.5px,#49ffb6 96.5px,#3affc5 100.5px,#13ffec 102.5px,#08fff7 103.5px,#24ffdb 105.5px,#28ffd7 106.5px,#0cfff3 110.5px,#00faff 111.5px,#00eaff 112.5px,#00cdff 113.5px,#00c0ff 114.5px,#0092ff 119.5px,#0030ff 124.5px,#001bff 126.5px,#001aff 151.5px,#0022ff 153.5px,#0092ff 159.5px,#00c0ff 164.5px,#03fffc 168.5px,#34ffcb 172.5px,#36ffc9 176.5px,#4cffb3 178.5px,#49ffb6 179.5px,#22ffdd 181.5px,#19ffe6 182.5px,#28ffd7 184.5px,#20ffdf 186.5px,#23ffdc 187.5px,#4dffb2 190.5px,#30ffcf 194.5px,#41ffbe 198.5px,#31ffce 200.5px,#35ffca 203.5px,#24ffdb 209.5px,#00f2ff 210.5px,#009fff 213.5px,#0081ff 215.5px,#0073ff 217.5px,#0072ff 219.5px,#007eff 222.5px,#009dff 239.5px,#00a2ff 245.5px,#0088ff 263.5px,#0063ff 280.5px)"></div>
<div class="r" style="top:112px;background:linear-gradient(90deg,#008fff 0.5px,#00adff 13.5px,#00cbff 34.5px,#00a5ff 56.5px,#0098ff 60.5px,#00acff 63.5px,#00cfff 65.5px,#00eaff 66.5px,#0afff5 67.5px,#3dffc2 72.5px,#47ffb8 74.5px,#46ffb9 76.5px,#61ff9e 78.5px,#65ff9a 81.5px,#72ff8d 83.5px,#4effb1 85.5px,#6aff95 90.5px,#66ff99 91.5px,#4bffb4 93.5px,#59ffa6 96.5px,#4fffb0 100.5px,#30ffcf 102.5px,#29ffd6 103.5px,#37ffc8 106.5px,#33ffcc 107.5px,#05fffa 112.5px,#00fdff 113.5px,#00eeff 114.5px,#00ceff 115.5px,#00a5ff 119.5px,#0093ff 120.5px,#004aff 123.5px,#0025ff 125.5px,#001cff 127.5px,#001dff 152.5px,#0035ff 154.5px,#00a5ff 159.5px,#00ceff 163.5px,#00f2ff 165.5px,#0cfff3 166.5px,#0afff5 168.5px,#13ffec 169.5px,#53ffac 173.5px,#51ffae 174.5px,#3effc1 176.5px,#52ffad 179.5px,#31ffce 181.5px,#2bffd4 182.5px,#3affc5 184.5px,#38ffc7 187.5px,#55ffaa 190.5px,#40ffbf 194.5px,#50ffaf 197.5px,#45ffba 200.5px,#47ffb8 207.5px,#4fffb0 209.5px,#44ffbb 210.5px,#0cfff3 211.5px,#00eaff 212.5px,#00bbff 214.5px,#00a2ff 216.5px,#0098ff 218.5px,#00a5ff 222.5px,#00cbff 244.5px,#00afff 264.5px,#008eff 280.5px)"></div>
<div class="r" style="top:113px;background:linear-gradient(90deg,#00bdff 0.5px,#00edff 25.5px,#00f5ff 33.5px,#00efff 39.5px,#00c1ff 60.5px,#00ceff 62.5px,#00eaff 64.5px,#04fffb 65.5px,#2cffd3 69.5px,#77ff88 73.5px,#7cff83 74.5px,#6fff90 76.5px,#7fff80 78.5px,#7dff82 80.5px,#a9ff56 83.5px,#87ff78 85.5px,#80ff7f 86.5px,#89ff76 88.5px,#6bff94 92.5px,#58ffa7 97.5px,#66ff99 99.5px,#64ff9b 100.5px,#3affc5 104.5px,#34ffcb 105.5px,#41ffbe 107.5px,#16ffe9 111.5px,#00f9ff 114.5px,#00fbff 115.5px,#00ebff 116.5px,#00cdff 117.5px,#00b7ff 119.5px,#00a3ff 120.5px,#0039ff 124.5px,#001fff 126.5px,#001eff 127.5px,#001fff 152.5px,#0039ff 154.5px,#00a3ff 158.5px,#00b7ff 159.5px,#00ecff 163.5px,#0ffff0 164.5px,#1bffe4 165.5px,#11ffee 168.5px,#15ffea 169.5px,#23ffdc 170.5px,#67ff98 173.5px,#65ff9a 174.5px,#47ffb8 176.5px,#47ffb8 177.5px,#57ffa8 179.5px,#44ffbb 182.5px,#5bffa4 186.5px,#50ffaf 188.5px,#56ffa9 189.5px,#6aff95 190.5px,#71ff8e 191.5px,#7eff81 197.5px,#70ff8f 200.5px,#78ff87 202.5px,#70ff8f 207.5px,#75ff8a 209.5px,#67ff98 210.5px,#05fffa 213.5px,#00eaff 214.5px,#00ceff 216.5px,#00c1ff 218.5px,#00efff 239.5px,#00f5ff 245.5px,#00efff 252.5px,#00bcff 280.5px)"></div>
<div class="r" style="top:114px;background:linear-gradient(90deg,#00e8ff 0.5px,#00feff 11.5px,#1affe5 25.5px,#1fffe0 32.5px,#1bffe4 38.5px,#01fffe 51.5px,#00ecff 60.5px,#00f9ff 62.5px,#06fff9 63.5px,#1cffe3 64.5px,#1effe1 67.5px,#2bffd4 68.5px,#90ff6f 72.5px,#b3ff4c 74.5px,#ceff31 75.5px,#d0ff2f 76.5px,#b9ff46 81.5px,#bfff40 91.5px,#b1ff4e 93.5px,#97ff68 94.5px,#61ff9e 95.5px,#56ffa9 96.5px,#74ff8b 99.5px,#54ffab 103.5px,#2fffd0 105.5px,#44ffbb 107.5px,#41ffbe 108.5px,#20ffdf 111.5px,#1bffe4 113.5px,#0bfff4 114.5px,#00f2ff 115.5px,#00e5ff 116.5px,#00f2ff 117.5px,#00d6ff 118.5px,#00b2ff 120.5px,#003eff 124.5px,#0021ff 126.5px,#0020ff 151.5px,#0021ff 152.5px,#003eff 154.5px,#00b2ff 158.5px,#00f9ff 162.5px,#00fdff 163.5px,#1dffe2 165.5px,#1effe1 169.5px,#2bffd4 170.5px,#64ff9b 172.5px,#76ff89 173.5px,#72ff8d 174.5px,#59ffa6 176.5px,#63ff9c 180.5px,#60ff9f 183.5px,#71ff8e 184.5px,#9fff60 185.5px,#9cff63 191.5px,#bfff40 196.5px,#c3ff3c 200.5px,#deff21 203.5px,#dfff20 204.5px,#d9ff26 205.5px,#a1ff5e 206.5px,#72ff8d 210.5px,#3dffc2 212.5px,#06fff9 215.5px,#00f9ff 216.5px,#00ecff 218.5px,#01fffe 227.5px,#1bffe4 240.5px,#1fffe0 246.5px,#1affe5 253.5px,#00feff 267.5px,#00e7ff 280.5px)"></div>
<div class="r" style="top:115px;background:linear-gradient(90deg,#12ffed 0.5px,#41ffbe 22.5px,#48ffb7 29.5px,#43ffbc 38.5px,#2fffd0 46.5px,#25ffda 56.5px,#16ffe9 60.5px,#1bffe4 61.5px,#39ffc6 63.5px,#1fffe0 67.5px,#2effd1 68.5px,#61ff9e 70.5px,#c0ff3f 72.5px,#d1ff2e 73.5px,#d3ff2c 74.5px,#beff41 80.5px,#beff41 95.5px,#b6ff49 96.5px,#8bff74 98.5px,#77ff88 100.5px,#71ff8e 102.5px,#65ff9a 103.5px,#35ffca 105.5px,#46ffb9 107.5px,#43ffbc 109.5px,#2dffd2 111.5px,#28ffd7 113.5px,#07fff8 115.5px,#00f7ff 118.5px,#00e5ff 119.5px,#005dff 123.5px,#002eff 125.5px,#0023ff 126.5px,#0021ff 133.5px,#0023ff 152.5px,#0042ff 154.5px,#00e3ff 159.5px,#08fff7 161.5px,#04fffb 163.5px,#17ffe8 165.5px,#1dffe2 167.5px,#3cffc3 170.5px,#74ff8b 173.5px,#78ff87 174.5px,#6eff91 177.5px,#75ff8a 180.5px,#95ff6a 181.5px,#acff53 183.5px,#abff54 186.5px,#9aff65 191.5px,#c2ff3d 196.5px,#c0ff3f 200.5px,#e0ff1f 205.5px,#d4ff2b 207.5px,#bcff43 208.5px,#66ff99 210.5px,#39ffc6 212.5px,#2affd5 213.5px,#33ffcc 215.5px,#23ffdc 216.5px,#17ffe8 218.5px,#25ffda 222.5px,#2fffd0 232.5px,#43ffbc 240.5px,#48ffb7 248.5px,#42ffbd 255.5px,#11ffee 280.5px)"></div>
<div class="r" style="top:116px;background:linear-gradient(90deg,#3cffc3 0.5px,#60ff9f 16.5px,#75ff8a 17.5px,#77ff88 19.5px,#b3ff4c 23.5px,#c1ff3e 26.5px,#b9ff46 29.5px,#a6ff59 32.5px,#88ff77 35.5px,#75ff8a 36.5px,#6fff90 40.5px,#61ff9e 42.5px,#56ffa9 46.5px,#50ffaf 56.5px,#44ffbb 59.5px,#4dffb2 61.5px,#40ffbf 62.5px,#43ffbc 63.5px,#2effd1 67.5px,#33ffcc 68.5px,#87ff78 69.5px,#9dff62 70.5px,#aeff51 74.5px,#c2ff3d 82.5px,#bbff44 90.5px,#c0ff3f 95.5px,#b9ff46 98.5px,#a7ff58 100.5px,#84ff7b 101.5px,#83ff7c 102.5px,#48ffb7 105.5px,#4affb5 109.5px,#36ffc9 111.5px,#2cffd3 113.5px,#04fffb 116.5px,#09fff6 118.5px,#00f6ff 119.5px,#0063ff 123.5px,#0046ff 124.5px,#0030ff 125.5px,#0024ff 126.5px,#0024ff 151.5px,#0024ff 152.5px,#0030ff 153.5px,#0046ff 154.5px,#0087ff 156.5px,#00d8ff 158.5px,#00f3ff 159.5px,#00ffff 160.5px,#0ffff0 162.5px,#14ffeb 166.5px,#42ffbd 169.5px,#7bff84 175.5px,#7dff82 178.5px,#aaff55 179.5px,#b7ff48 180.5px,#acff53 186.5px,#96ff69 190.5px,#9dff62 192.5px,#bdff42 195.5px,#c4ff3b 197.5px,#b7ff48 200.5px,#c1ff3e 205.5px,#a1ff5e 210.5px,#8eff71 211.5px,#3affc5 212.5px,#2fffd0 213.5px,#2fffd0 214.5px,#3dffc2 216.5px,#3bffc4 218.5px,#50ffaf 222.5px,#5effa1 235.5px,#61ff9e 236.5px,#75ff8a 237.5px,#6cff93 241.5px,#70ff8f 242.5px,#88ff77 243.5px,#a6ff59 246.5px,#b9ff46 249.5px,#c1ff3e 252.5px,#b3ff4c 255.5px,#84ff7b 258.5px,#7aff85 259.5px,#77ff88 261.5px,#60ff9f 262.5px,#3affc5 280.5px)"></div>
<div class="r" style="top:117px;background:linear-gradient(90deg,#5cffa3 0.5px,#6eff91 5.5px,#75ff8a 10.5px,#80ff7f 12.5px,#c9ff36 15.5px,#fffc00 18.5px,#ffbe00 22.5px,#ffab00 25.5px,#ffae00 28.5px,#ffbf00 32.5px,#ffd600 35.5px,#ffea00 36.5px,#f4ff0b 37.5px,#9dff62 39.5px,#82ff7d 40.5px,#94ff6b 42.5px,#89ff76 43.5px,#6cff93 50.5px,#77ff88 58.5px,#74ff8b 59.5px,#4effb1 61.5px,#4dffb2 62.5px,#4fffb0 66.5px,#67ff98 67.5px,#92ff6d 68.5px,#92ff6d 73.5px,#c2ff3d 81.5px,#c2ff3d 84.5px,#b5ff4a 88.5px,#caff35 100.5px,#c7ff38 101.5px,#7eff81 103.5px,#65ff9a 104.5px,#5bffa4 107.5px,#4bffb4 108.5px,#28ffd7 113.5px,#0bfff4 115.5px,#0bfff4 119.5px,#00f2ff 120.5px,#00b9ff 121.5px,#0069ff 123.5px,#0049ff 124.5px,#0032ff 125.5px,#0029ff 126.5px,#0030ff 143.5px,#0027ff 152.5px,#0032ff 153.5px,#0049ff 154.5px,#008fff 156.5px,#00e5ff 158.5px,#00f3ff 159.5px,#00fcff 161.5px,#0afff5 162.5px,#14ffeb 163.5px,#19ffe6 166.5px,#3bffc4 168.5px,#54ffab 171.5px,#56ffa9 173.5px,#80ff7f 176.5px,#b5ff4a 177.5px,#c6ff39 178.5px,#b6ff49 181.5px,#afff50 186.5px,#92ff6d 190.5px,#9aff65 192.5px,#beff41 195.5px,#c9ff36 197.5px,#b7ff48 201.5px,#b4ff4b 204.5px,#99ff66 209.5px,#98ff67 212.5px,#89ff76 213.5px,#46ffb9 214.5px,#46ffb9 215.5px,#4fffb0 218.5px,#57ffa8 219.5px,#6eff91 220.5px,#8cff73 224.5px,#8fff70 226.5px,#84ff7b 230.5px,#abff54 237.5px,#9fff60 239.5px,#f4ff0b 241.5px,#ffea00 242.5px,#ffd600 243.5px,#ffcc00 244.5px,#ffb500 248.5px,#ffab00 252.5px,#ffaf00 254.5px,#ffbe00 256.5px,#fffc00 260.5px,#c9ff36 263.5px,#94ff6b 265.5px,#85ff7a 266.5px,#6dff92 273.5px,#74ff8b 280.5px)"></div>
<div class="r" style="top:118px;background:linear-gradient(90deg,#7dff82 0.5px,#9eff61 3.5px,#93ff6c 5.5px,#b9ff46 8.5px,#ffff00 11.5px,#ffb700 14.5px,#ff8300 18.5px,#ff6600 22.5px,#ff5e00 26.5px,#ff6900 33.5px,#ff7a00 36.5px,#ffa400 38.5px,#ffed00 40.5px,#e7ff18 41.5px,#bfff40 42.5px,#a8ff57 43.5px,#b6ff49 45.5px,#68ff97 51.5px,#60ff9f 54.5px,#7bff84 57.5px,#77ff88 58.5px,#50ffaf 61.5px,#5fffa0 64.5px,#70ff8f 65.5px,#92ff6d 66.5px,#98ff67 67.5px,#78ff87 72.5px,#82ff7d 74.5px,#b2ff4d 78.5px,#c2ff3d 80.5px,#c0ff3f 84.5px,#a3ff5c 87.5px,#a1ff5e 88.5px,#c9ff36 94.5px,#ceff31 99.5px,#e4ff1b 102.5px,#79ff86 104.5px,#73ff8c 106.5px,#5fffa0 107.5px,#39ffc6 108.5px,#21ffde 109.5px,#24ffdb 112.5px,#0afff5 115.5px,#16ffe9 119.5px,#03fffc 120.5px,#00ddff 121.5px,#0096ff 122.5px,#006cff 123.5px,#0034ff 125.5px,#003bff 127.5px,#0036ff 134.5px,#0048ff 143.5px,#002fff 152.5px,#0034ff 153.5px,#004dff 154.5px,#00c2ff 157.5px,#00e1ff 158.5px,#00ffff 162.5px,#2fffd0 167.5px,#26ffd9 169.5px,#50ffaf 171.5px,#52ffad 173.5px,#5fffa0 174.5px,#78ff87 175.5px,#c5ff3a 176.5px,#ceff31 177.5px,#b9ff46 181.5px,#b3ff4c 186.5px,#a2ff5d 188.5px,#85ff7a 190.5px,#84ff7b 191.5px,#beff41 195.5px,#ccff33 197.5px,#cbff34 198.5px,#8eff71 208.5px,#9bff64 213.5px,#8cff73 214.5px,#63ff9c 215.5px,#57ffa8 216.5px,#52ffad 218.5px,#55ffaa 219.5px,#78ff87 221.5px,#a9ff56 226.5px,#abff54 228.5px,#8bff74 230.5px,#87ff78 231.5px,#95ff6a 233.5px,#bfff40 236.5px,#e7ff18 237.5px,#ffed00 238.5px,#ffa400 240.5px,#ff7a00 242.5px,#ff6900 245.5px,#ff5e00 252.5px,#ff6600 256.5px,#ff8300 260.5px,#ffb700 264.5px,#ffff00 267.5px,#b9ff46 270.5px,#7fff80 275.5px,#72ff8d 277.5px,#8bff74 280.5px)"></div>
<div class="r" style="top:119px;background:linear-gradient(90deg,#ffec00 0.5px,#ffde00 3.5px,#ffbb00 7.5px,#ff7800 12.5px,#ff5d00 15.5px,#ff4c00 21.5px,#ff4a00 30.5px,#ff4d00 35.5px,#ff5c00 38.5px,#ff6900 39.5px,#ff9300 41.5px,#ffad00 42.5px,#fff500 44.5px,#deff21 45.5px,#beff41 46.5px,#68ff97 52.5px,#76ff89 56.5px,#4cffb3 62.5px,#69ff96 64.5px,#98ff67 65.5px,#9fff60 66.5px,#62ff9d 71.5px,#5dffa2 72.5px,#6cff93 74.5px,#b1ff4e 78.5px,#c4ff3b 80.5px,#c5ff3a 82.5px,#bcff43 84.5px,#b0ff4f 85.5px,#83ff7c 87.5px,#83ff7c 88.5px,#aeff51 90.5px,#c4ff3b 92.5px,#d4ff2b 95.5px,#d4ff2b 99.5px,#eeff11 102.5px,#e7ff18 103.5px,#88ff77 105.5px,#78ff87 106.5px,#52ffad 107.5px,#17ffe8 108.5px,#00f3ff 109.5px,#00ffff 110.5px,#14ffeb 111.5px,#18ffe7 112.5px,#0cfff3 116.5px,#19ffe6 119.5px,#0bfff4 120.5px,#00e5ff 121.5px,#00b3ff 122.5px,#0072ff 123.5px,#004eff 124.5px,#0035ff 125.5px,#004eff 126.5px,#005dff 127.5px,#0055ff 134.5px,#0077ff 143.5px,#006fff 146.5px,#0050ff 151.5px,#0035ff 153.5px,#0050ff 154.5px,#00c0ff 157.5px,#00deff 158.5px,#00f0ff 159.5px,#00fbff 162.5px,#09fff6 163.5px,#28ffd7 165.5px,#2dffd2 167.5px,#00fcff 169.5px,#14ffeb 170.5px,#43ffbc 171.5px,#58ffa7 172.5px,#5bffa4 173.5px,#6eff91 174.5px,#c7ff38 175.5px,#d6ff29 176.5px,#baff45 181.5px,#b9ff46 185.5px,#b1ff4e 187.5px,#a2ff5d 188.5px,#6eff91 190.5px,#6cff93 191.5px,#afff50 194.5px,#cbff34 197.5px,#bcff43 201.5px,#7bff84 207.5px,#7fff80 209.5px,#9cff63 213.5px,#8dff72 215.5px,#69ff96 216.5px,#55ffaa 217.5px,#4effb1 218.5px,#50ffaf 219.5px,#66ff99 220.5px,#9dff62 224.5px,#acff53 226.5px,#b1ff4e 227.5px,#adff52 228.5px,#94ff6b 230.5px,#99ff66 231.5px,#b4ff4b 232.5px,#fff500 234.5px,#ffad00 236.5px,#ff9300 237.5px,#ff6900 239.5px,#ff5c00 240.5px,#ff4d00 243.5px,#ff4a00 250.5px,#ff4d00 258.5px,#ff5d00 263.5px,#ff7800 266.5px,#ffb100 270.5px,#ffd600 274.5px,#ffe900 277.5px,#ffec00 280.5px)"></div>
<div class="r" style="top:120px;background:linear-gradient(90deg,#ff7b00 0.5px,#ff4a00 14.5px,#ff4500 28.5px,#ff4b00 39.5px,#ff5600 41.5px,#ff6d00 43.5px,#ff8000 44.5px,#feff01 49.5px,#84ff7b 55.5px,#83ff7c 56.5px,#69ff96 58.5px,#63ff9c 60.5px,#44ffbb 62.5px,#4cffb3 63.5px,#a3ff5c 65.5px,#95ff6a 67.5px,#4affb5 71.5px,#43ffbc 72.5px,#48ffb7 73.5px,#57ffa8 74.5px,#aeff51 78.5px,#c4ff3b 80.5px,#c4ff3b 82.5px,#b9ff46 84.5px,#aaff55 85.5px,#70ff8f 87.5px,#70ff8f 88.5px,#adff52 90.5px,#c9ff36 92.5px,#d9ff26 95.5px,#d7ff28 99.5px,#f2ff0d 102.5px,#eaff15 103.5px,#d0ff2f 104.5px,#97ff68 105.5px,#77ff88 106.5px,#4affb5 107.5px,#11ffee 108.5px,#00ecff 109.5px,#00f8ff 110.5px,#10ffef 111.5px,#18ffe7 112.5px,#19ffe6 114.5px,#0cfff3 117.5px,#13ffec 119.5px,#04fffb 120.5px,#00e1ff 121.5px,#0052ff 124.5px,#0042ff 125.5px,#0074ff 126.5px,#0090ff 127.5px,#0089ff 132.5px,#008fff 135.5px,#00a8ff 139.5px,#00cfff 141.5px,#00e1ff 143.5px,#00cfff 145.5px,#00a5ff 147.5px,#007fff 151.5px,#0061ff 152.5px,#0038ff 153.5px,#0053ff 154.5px,#00e7ff 158.5px,#00ffff 159.5px,#05fffa 160.5px,#00ffff 162.5px,#0afff5 163.5px,#36ffc9 165.5px,#39ffc6 166.5px,#30ffcf 167.5px,#10ffef 168.5px,#00f4ff 169.5px,#0bfff4 170.5px,#3effc1 171.5px,#5effa1 172.5px,#6aff95 173.5px,#baff45 174.5px,#d8ff27 175.5px,#e1ff1e 176.5px,#baff45 181.5px,#b6ff49 187.5px,#a5ff5a 188.5px,#63ff9c 190.5px,#5fffa0 191.5px,#9aff65 193.5px,#adff52 194.5px,#c2ff3d 196.5px,#c8ff37 198.5px,#baff45 201.5px,#6aff95 206.5px,#64ff9b 207.5px,#71ff8e 209.5px,#98ff67 212.5px,#a3ff5c 214.5px,#93ff6c 215.5px,#97ff68 216.5px,#5dffa2 217.5px,#5effa1 219.5px,#72ff8d 220.5px,#80ff7f 222.5px,#aaff55 224.5px,#c1ff3e 226.5px,#feff01 229.5px,#ff8000 234.5px,#ff6d00 235.5px,#ff5600 237.5px,#ff4900 240.5px,#ff4a00 264.5px,#ff7700 276.5px,#ff7b00 280.5px)"></div>
<div class="r" style="top:121px;background:linear-gradient(90deg,#ff4f00 0.5px,#ff4300 24.5px,#ff4c00 43.5px,#ff5800 45.5px,#ff9200 50.5px,#fff800 57.5px,#f1ff0e 58.5px,#d5ff2a 59.5px,#a9ff56 60.5px,#53ffac 61.5px,#41ffbe 62.5px,#4bffb4 63.5px,#9eff61 64.5px,#a1ff5e 65.5px,#92ff6d 67.5px,#38ffc7 71.5px,#30ffcf 72.5px,#37ffc8 73.5px,#4affb5 74.5px,#aaff55 78.5px,#c2ff3d 80.5px,#c3ff3c 82.5px,#b9ff46 84.5px,#acff53 85.5px,#7eff81 87.5px,#7fff80 88.5px,#b4ff4b 90.5px,#ceff31 92.5px,#dcff23 95.5px,#d6ff29 99.5px,#f3ff0c 102.5px,#e8ff17 103.5px,#bbff44 105.5px,#7aff85 106.5px,#30ffcf 108.5px,#16ffe9 109.5px,#19ffe6 115.5px,#09fff6 119.5px,#00f8ff 120.5px,#00dcff 121.5px,#0059ff 124.5px,#0086ff 125.5px,#42ffbd 126.5px,#9fff60 127.5px,#4dffb2 131.5px,#44ffbb 133.5px,#4fffb0 134.5px,#85ff7a 136.5px,#fffb00 139.5px,#ffb700 141.5px,#ffa500 142.5px,#ff9f00 143.5px,#ffa600 144.5px,#ffba00 145.5px,#f8ff07 147.5px,#60ff9f 150.5px,#34ffcb 151.5px,#00d2ff 152.5px,#005aff 153.5px,#0054ff 154.5px,#00f0ff 158.5px,#0bfff4 159.5px,#13ffec 160.5px,#15ffea 163.5px,#40ffbf 165.5px,#37ffc8 167.5px,#1dffe2 169.5px,#2affd5 170.5px,#66ff99 172.5px,#79ff86 173.5px,#d1ff2e 174.5px,#ecff13 176.5px,#e7ff18 177.5px,#c9ff36 179.5px,#baff45 181.5px,#bbff44 187.5px,#adff52 188.5px,#75ff8a 190.5px,#71ff8e 191.5px,#9dff62 193.5px,#b5ff4a 195.5px,#c0ff3f 197.5px,#bdff42 200.5px,#a9ff56 202.5px,#67ff98 205.5px,#57ffa8 206.5px,#51ffae 207.5px,#58ffa7 208.5px,#9bff64 212.5px,#aaff55 214.5px,#9bff64 215.5px,#a0ff5f 216.5px,#72ff8d 217.5px,#a9ff56 218.5px,#d5ff2a 219.5px,#f1ff0e 220.5px,#fff800 221.5px,#ff9200 228.5px,#ff5800 233.5px,#ff4c00 235.5px,#ff4300 254.5px,#ff4f00 280.5px)"></div>
<div class="r" style="top:122px;background:linear-gradient(90deg,#ff4700 0.5px,#ff4200 34.5px,#ff4a00 46.5px,#ff5f00 52.5px,#ff7900 56.5px,#ff8d00 58.5px,#ff9e00 59.5px,#ffbd00 60.5px,#f9ff06 61.5px,#83ff7c 62.5px,#53ffac 63.5px,#9eff61 64.5px,#9cff63 66.5px,#7dff82 68.5px,#33ffcc 71.5px,#2cffd3 72.5px,#34ffcb 73.5px,#49ffb6 74.5px,#7dff82 76.5px,#a8ff57 78.5px,#bfff40 80.5px,#c2ff3d 82.5px,#baff45 84.5px,#9cff63 87.5px,#9fff60 88.5px,#bfff40 90.5px,#d8ff27 93.5px,#dcff23 95.5px,#d3ff2c 99.5px,#ebff14 101.5px,#efff10 102.5px,#cfff30 104.5px,#81ff7e 106.5px,#3cffc3 109.5px,#1cffe3 112.5px,#13ffec 114.5px,#15ffea 117.5px,#00feff 119.5px,#00daff 121.5px,#005aff 124.5px,#00aaff 125.5px,#cbff34 126.5px,#ff7300 127.5px,#ff5600 128.5px,#ff4800 129.5px,#ff4100 133.5px,#ff0800 137.5px,#fd0000 138.5px,#ff0000 140.5px,#ff1100 143.5px,#ff1400 147.5px,#ff2300 148.5px,#ff3f00 149.5px,#ff9500 151.5px,#acff53 152.5px,#00a0ff 153.5px,#0054ff 154.5px,#00edff 158.5px,#07fff8 159.5px,#1bffe4 161.5px,#23ffdc 163.5px,#42ffbd 165.5px,#39ffc6 167.5px,#51ffae 171.5px,#65ff9a 172.5px,#a8ff57 173.5px,#d8ff27 174.5px,#f5ff0a 176.5px,#efff10 177.5px,#c1ff3e 180.5px,#b9ff46 182.5px,#c0ff3f 187.5px,#b7ff48 188.5px,#96ff69 190.5px,#91ff6e 191.5px,#b8ff47 196.5px,#b9ff46 200.5px,#a7ff58 202.5px,#61ff9e 205.5px,#4fffb0 206.5px,#4affb5 207.5px,#53ffac 208.5px,#92ff6d 211.5px,#adff52 213.5px,#b2ff4d 214.5px,#a2ff5d 215.5px,#a8ff57 216.5px,#f9ff06 217.5px,#ffbd00 218.5px,#ff9e00 219.5px,#ff8d00 220.5px,#ff7900 222.5px,#ff5f00 226.5px,#ff4a00 232.5px,#ff4200 245.5px,#ff4700 280.5px)"></div>
<div class="r" style="top:123px;background:linear-gradient(90deg,#ff4c00 0.5px,#ff4300 24.5px,#ff4a00 43.5px,#ff5a00 46.5px,#ff8b00 51.5px,#ffcc00 56.5px,#ffee00 58.5px,#f5ff0a 59.5px,#cbff34 60.5px,#74ff8b 61.5px,#43ffbc 62.5px,#54ffab 63.5px,#9bff64 64.5px,#9dff62 65.5px,#92ff6d 67.5px,#3bffc4 71.5px,#36ffc9 72.5px,#3effc1 73.5px,#95ff6a 77.5px,#baff45 80.5px,#beff41 82.5px,#aeff51 87.5px,#d6ff29 93.5px,#caff35 98.5px,#e8ff17 102.5px,#dcff23 103.5px,#b3ff4c 105.5px,#74ff8b 106.5px,#5fffa0 107.5px,#21ffde 111.5px,#00fcff 115.5px,#03fffc 118.5px,#00e7ff 120.5px,#00d5ff 121.5px,#00b2ff 122.5px,#005aff 124.5px,#0071ff 125.5px,#28ffd7 126.5px,#c0ff3f 127.5px,#feff01 128.5px,#ff9b00 130.5px,#ff7a00 131.5px,#ff6600 132.5px,#ff5f00 133.5px,#ff6400 134.5px,#ff7400 135.5px,#ff9000 136.5px,#ffdf00 138.5px,#f4ff0b 139.5px,#afff50 141.5px,#9bff64 142.5px,#93ff6c 143.5px,#98ff67 144.5px,#a8ff57 145.5px,#fffd00 148.5px,#ffe300 149.5px,#ffd500 150.5px,#ffd800 151.5px,#91ff6e 152.5px,#009aff 153.5px,#0054ff 154.5px,#00c5ff 157.5px,#00fbff 159.5px,#1effe1 163.5px,#39ffc6 165.5px,#35ffca 167.5px,#49ffb6 169.5px,#48ffb7 171.5px,#58ffa7 172.5px,#73ff8c 173.5px,#d9ff26 174.5px,#f8ff07 176.5px,#f2ff0d 177.5px,#cfff30 179.5px,#bbff44 181.5px,#c0ff3f 187.5px,#a3ff5c 191.5px,#b6ff49 197.5px,#b1ff4e 201.5px,#94ff6b 203.5px,#53ffac 206.5px,#4effb1 207.5px,#57ffa8 208.5px,#99ff66 211.5px,#b4ff4b 213.5px,#baff45 214.5px,#a9ff56 215.5px,#aeff51 216.5px,#87ff78 217.5px,#cbff34 218.5px,#f5ff0a 219.5px,#ffee00 220.5px,#ffcc00 222.5px,#ff8b00 227.5px,#ff5a00 232.5px,#ff4a00 235.5px,#ff4300 254.5px,#ff4c00 280.5px)"></div>
<div class="r" style="top:124px;background:linear-gradient(90deg,#ff6d00 0.5px,#ff4900 14.5px,#ff4900 39.5px,#ff5800 42.5px,#ff7100 44.5px,#fff600 50.5px,#f5ff0a 51.5px,#5affa5 59.5px,#45ffba 61.5px,#51ffae 63.5px,#89ff76 64.5px,#9eff61 65.5px,#96ff69 67.5px,#50ffaf 71.5px,#4cffb3 72.5px,#54ffab 73.5px,#9aff65 77.5px,#b7ff48 80.5px,#bbff44 82.5px,#b0ff4f 87.5px,#d1ff2e 93.5px,#c3ff3c 98.5px,#deff21 102.5px,#d3ff2c 103.5px,#bdff42 104.5px,#66ff99 105.5px,#47ffb8 107.5px,#2effd1 110.5px,#08fff7 113.5px,#00f7ff 114.5px,#00e5ff 115.5px,#00e2ff 116.5px,#00f9ff 118.5px,#00eaff 120.5px,#00d4ff 121.5px,#00b1ff 122.5px,#0053ff 124.5px,#003cff 125.5px,#006eff 126.5px,#0096ff 127.5px,#00f2ff 130.5px,#0bfff4 131.5px,#1bffe4 132.5px,#1fffe0 133.5px,#18ffe7 134.5px,#06fff9 135.5px,#00ecff 136.5px,#00b5ff 138.5px,#00a6ff 139.5px,#0098ff 142.5px,#00a1ff 147.5px,#00acff 148.5px,#00d3ff 150.5px,#00dfff 151.5px,#00b0ff 152.5px,#0053ff 153.5px,#0056ff 154.5px,#00c2ff 157.5px,#00f2ff 159.5px,#00feff 160.5px,#03fffc 162.5px,#33ffcc 165.5px,#32ffcd 166.5px,#45ffba 169.5px,#42ffbd 171.5px,#50ffaf 172.5px,#69ff96 173.5px,#cbff34 174.5px,#eaff15 175.5px,#f6ff09 176.5px,#f1ff0e 177.5px,#d0ff2f 179.5px,#bcff43 181.5px,#bfff40 187.5px,#a7ff58 192.5px,#b5ff4a 197.5px,#b1ff4e 201.5px,#9bff64 203.5px,#61ff9e 206.5px,#5dffa2 207.5px,#65ff9a 208.5px,#a3ff5c 211.5px,#bcff43 213.5px,#c0ff3f 214.5px,#afff50 215.5px,#b2ff4d 216.5px,#91ff6e 217.5px,#a1ff5e 218.5px,#a3ff5c 219.5px,#b1ff4e 220.5px,#a9ff56 223.5px,#f5ff0a 227.5px,#fff600 228.5px,#ff8600 233.5px,#ff6200 235.5px,#ff4900 239.5px,#ff4900 264.5px,#ff6a00 276.5px,#ff6e00 280.5px)"></div>
<div class="r" style="top:125px;background:linear-gradient(90deg,#ffcf00 0.5px,#ffb400 5.5px,#ff9b00 8.5px,#ff6b00 12.5px,#ff5600 15.5px,#ff4900 22.5px,#ff4b00 35.5px,#ff5500 38.5px,#ff6e00 40.5px,#ff9800 42.5px,#ffb500 43.5px,#feff01 45.5px,#b1ff4e 47.5px,#96ff69 48.5px,#8cff73 49.5px,#83ff7c 52.5px,#67ff98 54.5px,#76ff89 57.5px,#3affc5 61.5px,#43ffbc 63.5px,#3affc5 64.5px,#9bff64 65.5px,#a1ff5e 66.5px,#94ff6b 68.5px,#6bff94 71.5px,#68ff97 72.5px,#a2ff5d 77.5px,#b7ff48 80.5px,#b9ff46 82.5px,#abff54 86.5px,#ccff33 92.5px,#beff41 98.5px,#d4ff2b 102.5px,#c9ff36 103.5px,#a2ff5d 104.5px,#41ffbe 105.5px,#33ffcc 106.5px,#30ffcf 110.5px,#06fff9 113.5px,#00f1ff 114.5px,#00dbff 115.5px,#00d5ff 116.5px,#00f7ff 118.5px,#00feff 119.5px,#00f6ff 120.5px,#00dcff 121.5px,#00b2ff 122.5px,#0076ff 123.5px,#0050ff 124.5px,#0036ff 125.5px,#0061ff 127.5px,#0078ff 130.5px,#0082ff 133.5px,#005eff 142.5px,#0070ff 151.5px,#005aff 152.5px,#0036ff 153.5px,#0053ff 154.5px,#00beff 157.5px,#00eaff 159.5px,#00f3ff 160.5px,#00f4ff 162.5px,#06fff9 163.5px,#2affd5 165.5px,#45ffba 168.5px,#44ffbb 171.5px,#4cffb3 172.5px,#61ff9e 173.5px,#95ff6a 174.5px,#e1ff1e 175.5px,#efff10 176.5px,#ecff13 177.5px,#c4ff3b 180.5px,#bbff44 182.5px,#bfff40 186.5px,#a7ff58 192.5px,#b5ff4a 196.5px,#b3ff4c 201.5px,#a5ff5a 203.5px,#76ff89 206.5px,#71ff8e 207.5px,#77ff88 208.5px,#acff53 211.5px,#c2ff3d 213.5px,#b2ff4d 215.5px,#8dff72 217.5px,#8fff70 218.5px,#a9ff56 220.5px,#acff53 221.5px,#a6ff59 226.5px,#b8ff47 229.5px,#a4ff5b 230.5px,#b1ff4e 231.5px,#feff01 233.5px,#ffb500 235.5px,#ff9800 236.5px,#ff6e00 238.5px,#ff4f00 241.5px,#ff4900 245.5px,#ff4900 256.5px,#ff5600 263.5px,#ff6b00 266.5px,#ff9b00 270.5px,#ffbc00 274.5px,#ffcd00 277.5px,#ffd000 280.5px)"></div>
<div class="r" style="top:126px;background:linear-gradient(90deg,#90ff6f 0.5px,#99ff66 2.5px,#b5ff4a 5.5px,#daff25 8.5px,#fffa00 10.5px,#ffb300 13.5px,#ff8700 16.5px,#ff6100 21.5px,#ff5700 26.5px,#ff5f00 33.5px,#ff6d00 36.5px,#ff9000 38.5px,#ffad00 39.5px,#fff700 41.5px,#e0ff1f 42.5px,#b4ff4b 43.5px,#9cff63 44.5px,#84ff7b 49.5px,#8bff74 51.5px,#86ff79 52.5px,#67ff98 54.5px,#63ff9c 55.5px,#6fff90 57.5px,#68ff97 58.5px,#30ffcf 61.5px,#35ffca 63.5px,#26ffd9 64.5px,#34ffcb 65.5px,#a0ff5f 66.5px,#a3ff5c 67.5px,#84ff7b 71.5px,#84ff7b 72.5px,#a6ff59 76.5px,#baff45 80.5px,#b9ff46 82.5px,#a7ff58 86.5px,#c8ff37 92.5px,#b9ff46 97.5px,#cbff34 101.5px,#c9ff36 102.5px,#aaff55 103.5px,#49ffb6 104.5px,#26ffd9 105.5px,#1dffe2 106.5px,#2fffd0 108.5px,#36ffc9 110.5px,#2cffd3 111.5px,#07fff8 113.5px,#00e0ff 116.5px,#01fffe 119.5px,#00fbff 120.5px,#00e2ff 121.5px,#009bff 122.5px,#004dff 124.5px,#0034ff 125.5px,#0034ff 126.5px,#0046ff 129.5px,#004fff 133.5px,#003bff 142.5px,#0046ff 151.5px,#0034ff 153.5px,#004dff 154.5px,#009dff 156.5px,#00d3ff 158.5px,#00e5ff 159.5px,#00e7ff 161.5px,#01fffe 163.5px,#24ffdb 166.5px,#47ffb8 168.5px,#43ffbc 171.5px,#46ffb9 172.5px,#55ffaa 173.5px,#77ff88 174.5px,#e0ff1f 176.5px,#e3ff1c 177.5px,#beff41 181.5px,#bbff44 187.5px,#a7ff58 191.5px,#b6ff49 196.5px,#b4ff4b 202.5px,#85ff7a 207.5px,#89ff76 208.5px,#b4ff4b 211.5px,#c6ff39 213.5px,#b7ff48 214.5px,#92ff6d 215.5px,#7eff81 216.5px,#6cff93 217.5px,#68ff97 218.5px,#a5ff5a 221.5px,#b4ff4b 223.5px,#a5ff5a 225.5px,#a2ff5d 229.5px,#7fff80 231.5px,#83ff7c 232.5px,#95ff6a 233.5px,#9aff65 234.5px,#b4ff4b 235.5px,#e0ff1f 236.5px,#fff700 237.5px,#ffad00 239.5px,#ff9000 240.5px,#ff6d00 242.5px,#ff5f00 245.5px,#ff5700 252.5px,#ff6100 257.5px,#ff8700 262.5px,#ffb300 265.5px,#fffa00 268.5px,#daff25 270.5px,#aaff55 274.5px,#a6ff59 277.5px,#c2ff3d 280.5px)"></div>
<div class="r" style="top:127px;background:linear-gradient(90deg,#6dff92 0.5px,#7aff85 11.5px,#d2ff2d 14.5px,#fcff03 16.5px,#ffb100 21.5px,#ff9f00 23.5px,#ff9600 25.5px,#ff9b00 29.5px,#ffb300 34.5px,#ffce00 36.5px,#ffeb00 37.5px,#ecff13 38.5px,#8fff70 40.5px,#72ff8d 41.5px,#85ff7a 44.5px,#7eff81 45.5px,#88ff77 52.5px,#82ff7d 56.5px,#6dff92 58.5px,#32ffcd 61.5px,#2bffd4 62.5px,#30ffcf 65.5px,#53ffac 66.5px,#98ff67 67.5px,#a5ff5a 68.5px,#9bff64 72.5px,#b3ff4c 76.5px,#beff41 81.5px,#a4ff5b 87.5px,#c3ff3c 92.5px,#b5ff4a 97.5px,#bfff40 101.5px,#9dff62 102.5px,#63ff9c 103.5px,#16ffe9 105.5px,#0afff5 106.5px,#30ffcf 109.5px,#33ffcc 110.5px,#29ffd6 111.5px,#05fffa 113.5px,#00f6ff 116.5px,#00ffff 119.5px,#00f9ff 120.5px,#00beff 121.5px,#006aff 123.5px,#004aff 124.5px,#0032ff 125.5px,#0029ff 126.5px,#0033ff 133.5px,#002aff 142.5px,#002cff 152.5px,#0032ff 153.5px,#004aff 154.5px,#006aff 155.5px,#00bbff 157.5px,#00d4ff 158.5px,#00e0ff 159.5px,#00deff 161.5px,#00f0ff 162.5px,#05fffa 163.5px,#19ffe6 166.5px,#45ffba 168.5px,#45ffba 169.5px,#31ffce 171.5px,#33ffcc 172.5px,#42ffbd 173.5px,#85ff7a 175.5px,#95ff6a 176.5px,#c9ff36 177.5px,#d0ff2f 178.5px,#beff41 181.5px,#b6ff49 187.5px,#a5ff5a 191.5px,#b6ff49 196.5px,#b8ff47 202.5px,#95ff6a 207.5px,#a0ff5f 209.5px,#c1ff3e 212.5px,#b5ff4a 213.5px,#82ff7d 214.5px,#64ff9b 216.5px,#4cffb3 217.5px,#45ffba 218.5px,#58ffa7 219.5px,#9dff62 221.5px,#94ff6b 222.5px,#95ff6a 227.5px,#7dff82 232.5px,#7eff81 233.5px,#95ff6a 234.5px,#82ff7d 237.5px,#8fff70 238.5px,#ecff13 240.5px,#ffeb00 241.5px,#ffce00 242.5px,#ffb300 244.5px,#ff9b00 249.5px,#ff9600 253.5px,#ff9f00 255.5px,#ffb100 257.5px,#fcff03 262.5px,#d2ff2d 264.5px,#82ff7d 267.5px,#77ff88 268.5px,#72ff8d 271.5px,#85ff7a 280.5px)"></div>
<div class="r" style="top:128px;background:linear-gradient(90deg,#44ffbb 0.5px,#69ff96 17.5px,#c8ff37 22.5px,#ddff22 24.5px,#e2ff1d 26.5px,#d5ff2a 30.5px,#b6ff49 34.5px,#aaff55 35.5px,#92ff6d 36.5px,#6eff91 37.5px,#57ffa8 44.5px,#60ff9f 45.5px,#59ffa6 56.5px,#48ffb7 60.5px,#34ffcb 62.5px,#36ffc9 64.5px,#48ffb7 66.5px,#77ff88 68.5px,#a6ff59 69.5px,#c4ff3b 74.5px,#c9ff36 77.5px,#c4ff3b 81.5px,#a2ff5d 87.5px,#bdff42 92.5px,#b2ff4d 96.5px,#b8ff47 99.5px,#a7ff58 100.5px,#72ff8d 101.5px,#58ffa7 103.5px,#12ffed 105.5px,#00fdff 106.5px,#04fffb 107.5px,#20ffdf 109.5px,#19ffe6 111.5px,#00ffff 113.5px,#04fffb 119.5px,#0064ff 123.5px,#0030ff 125.5px,#0024ff 126.5px,#0024ff 143.5px,#0025ff 152.5px,#0030ff 153.5px,#0046ff 154.5px,#00cfff 158.5px,#00daff 159.5px,#00d4ff 160.5px,#00d9ff 161.5px,#08fff7 163.5px,#13ffec 164.5px,#18ffe7 166.5px,#40ffbf 168.5px,#3fffc0 169.5px,#19ffe6 171.5px,#19ffe6 172.5px,#2cffd3 173.5px,#72ff8d 175.5px,#7fff80 176.5px,#72ff8d 177.5px,#71ff8e 178.5px,#b8ff47 179.5px,#bfff40 180.5px,#a2ff5d 191.5px,#c6ff39 203.5px,#acff53 207.5px,#b5ff4a 210.5px,#b1ff4e 211.5px,#7bff84 212.5px,#6eff91 213.5px,#65ff9a 215.5px,#3cffc3 217.5px,#53ffac 218.5px,#5dffa2 220.5px,#56ffa9 221.5px,#60ff9f 233.5px,#5bffa4 234.5px,#69ff96 237.5px,#69ff96 240.5px,#6eff91 241.5px,#92ff6d 242.5px,#aaff55 243.5px,#b6ff49 244.5px,#daff25 249.5px,#e2ff1d 253.5px,#c8ff37 256.5px,#7eff81 260.5px,#6fff90 261.5px,#61ff9e 263.5px,#58ffa7 265.5px,#60ff9f 266.5px,#43ffbc 280.5px)"></div>
<div class="r" style="top:129px;background:linear-gradient(90deg,#1bffe4 0.5px,#49ffb6 22.5px,#51ffae 29.5px,#4bffb4 38.5px,#37ffc8 46.5px,#2effd1 56.5px,#1fffe0 60.5px,#2effd1 62.5px,#3effc1 63.5px,#37ffc8 65.5px,#42ffbd 66.5px,#54ffab 67.5px,#9cff63 69.5px,#f1ff0e 72.5px,#fcff03 73.5px,#fffe00 75.5px,#a2ff5d 86.5px,#a2ff5d 88.5px,#b6ff49 92.5px,#a9ff56 97.5px,#93ff6c 98.5px,#6cff93 99.5px,#50ffaf 103.5px,#1dffe2 105.5px,#0efff1 106.5px,#1bffe4 108.5px,#00fbff 113.5px,#0afff5 117.5px,#00f6ff 118.5px,#00e6ff 119.5px,#0042ff 124.5px,#0023ff 126.5px,#0022ff 143.5px,#0023ff 152.5px,#002eff 153.5px,#005eff 155.5px,#00c4ff 158.5px,#00e5ff 160.5px,#00dcff 161.5px,#01fffe 163.5px,#0efff1 164.5px,#14ffeb 166.5px,#36ffc9 168.5px,#38ffc7 169.5px,#1cffe3 171.5px,#19ffe6 172.5px,#25ffda 173.5px,#60ff9f 175.5px,#70ff8f 176.5px,#58ffa7 178.5px,#57ffa8 179.5px,#73ff8c 180.5px,#a6ff59 181.5px,#b4ff4b 182.5px,#9eff61 192.5px,#c2ff3d 198.5px,#f0ff0f 202.5px,#fbff04 204.5px,#d2ff2d 208.5px,#beff41 209.5px,#8bff74 210.5px,#5bffa4 212.5px,#4dffb2 213.5px,#4effb1 215.5px,#34ffcb 216.5px,#23ffdc 217.5px,#1fffe0 218.5px,#2effd1 222.5px,#37ffc8 232.5px,#4bffb4 240.5px,#51ffae 249.5px,#49ffb6 256.5px,#1affe5 280.5px)"></div>
<div class="r" style="top:130px;background:linear-gradient(90deg,#00f0ff 0.5px,#00ffff 7.5px,#21ffde 24.5px,#27ffd8 32.5px,#23ffdc 38.5px,#00feff 57.5px,#00f5ff 59.5px,#00f9ff 61.5px,#04fffb 62.5px,#29ffd6 64.5px,#23ffdc 65.5px,#34ffcb 66.5px,#50ffaf 67.5px,#ccff33 70.5px,#e1ff1e 71.5px,#f3ff0c 73.5px,#ffe200 74.5px,#ffda00 76.5px,#fff800 78.5px,#f6ff09 79.5px,#b2ff4d 84.5px,#9fff60 86.5px,#9dff62 88.5px,#afff50 92.5px,#aaff55 93.5px,#a0ff5f 94.5px,#70ff8f 95.5px,#55ffaa 96.5px,#5fffa0 99.5px,#50ffaf 102.5px,#24ffdb 105.5px,#1fffe0 106.5px,#26ffd9 108.5px,#01fffe 111.5px,#00ffff 116.5px,#00e4ff 118.5px,#00b5ff 120.5px,#003eff 124.5px,#0021ff 126.5px,#0020ff 127.5px,#0021ff 152.5px,#003eff 154.5px,#00b5ff 158.5px,#00ccff 159.5px,#01fffe 165.5px,#2effd1 169.5px,#23ffdc 172.5px,#28ffd7 173.5px,#64ff9b 176.5px,#65ff9a 179.5px,#7dff82 181.5px,#88ff77 183.5px,#a3ff5c 184.5px,#98ff67 191.5px,#9dff62 193.5px,#cdff32 198.5px,#fffb00 201.5px,#ffd800 203.5px,#ffd600 204.5px,#ffe300 205.5px,#f9ff06 206.5px,#ccff33 207.5px,#a8ff57 209.5px,#41ffbe 212.5px,#2cffd3 213.5px,#24ffdb 214.5px,#04fffb 216.5px,#00f9ff 217.5px,#00f5ff 219.5px,#00feff 221.5px,#23ffdc 240.5px,#27ffd8 246.5px,#21ffde 254.5px,#00ffff 271.5px,#00efff 280.5px)"></div>
<div class="r" style="top:131px;background:linear-gradient(90deg,#00c6ff 0.5px,#00f6ff 25.5px,#00fdff 33.5px,#00f8ff 39.5px,#00caff 60.5px,#00d7ff 62.5px,#00f6ff 64.5px,#1affe5 66.5px,#95ff6a 70.5px,#a5ff5a 71.5px,#c6ff39 75.5px,#c1ff3e 76.5px,#a5ff5a 78.5px,#a9ff56 79.5px,#c0ff3f 80.5px,#8bff74 86.5px,#84ff7b 88.5px,#73ff8c 89.5px,#6fff90 90.5px,#62ff9d 91.5px,#44ffbb 96.5px,#52ffad 101.5px,#4dffb2 102.5px,#29ffd6 104.5px,#20ffdf 105.5px,#23ffdc 108.5px,#01fffe 111.5px,#07fff8 114.5px,#00f7ff 115.5px,#00d1ff 117.5px,#00bbff 119.5px,#00a6ff 120.5px,#0052ff 123.5px,#0029ff 125.5px,#001eff 127.5px,#0020ff 152.5px,#003aff 154.5px,#00a6ff 158.5px,#00bbff 159.5px,#00d1ff 161.5px,#00d4ff 162.5px,#00e4ff 163.5px,#00e5ff 164.5px,#00feff 166.5px,#1cffe3 168.5px,#23ffdc 169.5px,#1effe1 172.5px,#25ffda 173.5px,#45ffba 175.5px,#76ff89 180.5px,#80ff7f 182.5px,#79ff86 183.5px,#38ffc7 186.5px,#2bffd4 187.5px,#35ffca 188.5px,#8bff74 190.5px,#7fff80 191.5px,#82ff7d 192.5px,#b9ff46 200.5px,#aaff55 202.5px,#b2ff4d 204.5px,#8dff72 208.5px,#61ff9e 210.5px,#1effe1 212.5px,#1bffe4 213.5px,#00f6ff 214.5px,#00d7ff 216.5px,#00caff 218.5px,#00f8ff 239.5px,#00fdff 245.5px,#00f6ff 253.5px,#00c5ff 280.5px)"></div>
<div class="r" style="top:132px;background:linear-gradient(90deg,#0098ff 0.5px,#00b5ff 13.5px,#00d4ff 34.5px,#00adff 56.5px,#00a0ff 60.5px,#00b6ff 63.5px,#00dbff 65.5px,#00f7ff 66.5px,#15ffea 67.5px,#4fffb0 70.5px,#51ffae 73.5px,#81ff7e 76.5px,#82ff7d 77.5px,#6eff91 79.5px,#7dff82 82.5px,#2dffd2 85.5px,#26ffd9 86.5px,#29ffd6 87.5px,#56ffa9 90.5px,#5affa5 91.5px,#59ffa6 94.5px,#3cffc3 97.5px,#3bffc4 98.5px,#3cffc3 99.5px,#4fffb0 101.5px,#4affb5 102.5px,#23ffdc 104.5px,#17ffe8 108.5px,#01fffe 111.5px,#00f6ff 113.5px,#00d3ff 115.5px,#00a8ff 119.5px,#0036ff 124.5px,#001eff 126.5px,#001cff 127.5px,#001eff 152.5px,#0036ff 154.5px,#00a8ff 159.5px,#00daff 164.5px,#00f8ff 166.5px,#0afff5 167.5px,#19ffe6 169.5px,#13ffec 172.5px,#18ffe7 173.5px,#31ffce 176.5px,#64ff9b 179.5px,#70ff8f 182.5px,#67ff98 183.5px,#24ffdb 186.5px,#1effe1 187.5px,#29ffd6 188.5px,#5cffa3 190.5px,#62ff9d 191.5px,#41ffbe 193.5px,#40ffbf 194.5px,#5affa5 196.5px,#69ff96 199.5px,#64ff9b 202.5px,#6dff92 204.5px,#45ffba 209.5px,#02fffd 212.5px,#00dbff 213.5px,#00b6ff 215.5px,#00a0ff 218.5px,#00adff 222.5px,#00d4ff 244.5px,#00cdff 251.5px,#0097ff 280.5px)"></div>
<div class="r" style="top:133px;background:linear-gradient(90deg,#006cff 0.5px,#0090ff 15.5px,#00aaff 34.5px,#0079ff 60.5px,#0081ff 62.5px,#0097ff 64.5px,#00c1ff 66.5px,#05fffa 68.5px,#1effe1 69.5px,#28ffd7 70.5px,#21ffde 73.5px,#5bffa4 76.5px,#66ff99 77.5px,#61ff9e 80.5px,#69ff96 82.5px,#5cffa3 83.5px,#2effd1 85.5px,#23ffdc 86.5px,#27ffd8 87.5px,#4bffb4 90.5px,#44ffbb 92.5px,#59ffa6 94.5px,#59ffa6 95.5px,#38ffc7 97.5px,#30ffcf 98.5px,#2dffd2 99.5px,#3effc1 101.5px,#3effc1 102.5px,#1bffe4 104.5px,#13ffec 105.5px,#07fff8 110.5px,#00f6ff 111.5px,#00baff 115.5px,#0096ff 119.5px,#0031ff 124.5px,#001bff 126.5px,#001aff 151.5px,#0023ff 153.5px,#0044ff 155.5px,#0096ff 159.5px,#00c6ff 164.5px,#00f6ff 167.5px,#0ffff0 168.5px,#0cfff3 173.5px,#23ffdc 176.5px,#4fffb0 179.5px,#54ffab 183.5px,#30ffcf 185.5px,#1fffe0 187.5px,#26ffd9 188.5px,#46ffb9 190.5px,#44ffbb 191.5px,#29ffd6 193.5px,#59ffa6 199.5px,#5affa5 200.5px,#3fffc0 202.5px,#45ffba 204.5px,#35ffca 207.5px,#0cfff3 210.5px,#00dfff 211.5px,#00c1ff 212.5px,#0097ff 214.5px,#0081ff 216.5px,#0079ff 218.5px,#00aaff 244.5px,#0090ff 263.5px,#006bff 280.5px)"></div>
<div class="r" style="top:134px;background:linear-gradient(90deg,#0044ff 0.5px,#0066ff 13.5px,#0080ff 33.5px,#007cff 39.5px,#0053ff 61.5px,#0060ff 63.5px,#007aff 65.5px,#00a9ff 67.5px,#00e8ff 69.5px,#0ffff0 70.5px,#19ffe6 71.5px,#13ffec 73.5px,#4affb5 77.5px,#51ffae 79.5px,#46ffb9 82.5px,#26ffd9 85.5px,#23ffdc 86.5px,#38ffc7 89.5px,#26ffd9 92.5px,#45ffba 94.5px,#4affb5 95.5px,#2affd5 97.5px,#23ffdc 98.5px,#20ffdf 100.5px,#30ffcf 102.5px,#06fff9 105.5px,#0bfff4 108.5px,#00f2ff 109.5px,#00b5ff 113.5px,#0083ff 119.5px,#002cff 124.5px,#0019ff 126.5px,#0019ff 152.5px,#002cff 154.5px,#0083ff 159.5px,#00b5ff 165.5px,#00f5ff 169.5px,#09fff6 170.5px,#04fffb 172.5px,#37ffc8 178.5px,#2effd1 181.5px,#43ffbc 183.5px,#27ffd8 187.5px,#29ffd6 190.5px,#1cffe3 192.5px,#1effe1 193.5px,#4cffb3 199.5px,#48ffb7 200.5px,#27ffd8 202.5px,#25ffda 206.5px,#21ffde 207.5px,#0efff1 208.5px,#00e8ff 209.5px,#00a9ff 211.5px,#007aff 213.5px,#0060ff 215.5px,#0053ff 217.5px,#007cff 239.5px,#0080ff 245.5px,#0068ff 264.5px,#0042ff 280.5px)"></div>
<div class="r" style="top:135px;background:linear-gradient(90deg,#001bff 0.5px,#0044ff 14.5px,#005aff 32.5px,#0058ff 38.5px,#0036ff 63.5px,#004cff 65.5px,#0073ff 67.5px,#00e5ff 71.5px,#08fff7 72.5px,#22ffdd 75.5px,#31ffce 79.5px,#16ffe9 85.5px,#23ffdc 89.5px,#09fff6 91.5px,#05fffa 92.5px,#25ffda 94.5px,#2cffd3 95.5px,#11ffee 98.5px,#15ffea 100.5px,#24ffdb 102.5px,#1cffe3 103.5px,#07fff8 104.5px,#00e2ff 107.5px,#0095ff 113.5px,#0066ff 120.5px,#0025ff 124.5px,#0016ff 126.5px,#0016ff 152.5px,#0025ff 154.5px,#0070ff 159.5px,#0095ff 165.5px,#00e2ff 171.5px,#00faff 174.5px,#17ffe8 175.5px,#27ffd8 177.5px,#26ffd9 178.5px,#0efff1 180.5px,#0ffff0 181.5px,#28ffd7 183.5px,#2dffd2 186.5px,#23ffdc 188.5px,#02fffd 191.5px,#1cffe3 194.5px,#20ffdf 196.5px,#35ffca 198.5px,#34ffcb 199.5px,#0bfff4 202.5px,#12ffed 205.5px,#00feff 206.5px,#005dff 212.5px,#0036ff 215.5px,#0058ff 240.5px,#0059ff 247.5px,#0044ff 264.5px,#0019ff 280.5px)"></div>
<div class="r" style="top:136px;background:linear-gradient(90deg,#0013ff 0.5px,#0013ff 10.5px,#002bff 21.5px,#0034ff 31.5px,#0032ff 39.5px,#0018ff 56.5px,#002cff 62.5px,#002dff 66.5px,#0057ff 68.5px,#00afff 71.5px,#03fffc 75.5px,#1bffe4 76.5px,#0efff1 79.5px,#16ffe9 82.5px,#00fcff 86.5px,#00f7ff 87.5px,#0bfff4 89.5px,#03fffc 90.5px,#00efff 92.5px,#00faff 93.5px,#0ffff0 95.5px,#00fcff 99.5px,#00c6ff 105.5px,#0085ff 111.5px,#0058ff 119.5px,#001eff 124.5px,#0013ff 126.5px,#0013ff 152.5px,#001eff 154.5px,#0058ff 159.5px,#007dff 166.5px,#00d0ff 174.5px,#00fbff 180.5px,#03fffc 182.5px,#21ffde 185.5px,#23ffdc 186.5px,#17ffe8 188.5px,#06fff9 189.5px,#00f0ff 190.5px,#00e6ff 191.5px,#00edff 192.5px,#00ffff 193.5px,#0bfff4 194.5px,#09fff6 196.5px,#16ffe9 198.5px,#06fff9 200.5px,#00eaff 202.5px,#00f1ff 203.5px,#00e9ff 204.5px,#00afff 207.5px,#0057ff 210.5px,#002dff 212.5px,#002cff 216.5px,#0018ff 222.5px,#0032ff 239.5px,#0034ff 247.5px,#002bff 257.5px,#0013ff 268.5px,#0013ff 280.5px)"></div>
<div class="r" style="top:137px;background:linear-gradient(90deg,#0010ff 0.5px,#0010ff 56.5px,#0027ff 64.5px,#0028ff 68.5px,#0034ff 69.5px,#0078ff 71.5px,#008eff 72.5px,#00cfff 76.5px,#00f0ff 79.5px,#00fbff 83.5px,#09fff6 84.5px,#00faff 85.5px,#00e7ff 86.5px,#00ddff 87.5px,#00e8ff 88.5px,#00ffff 89.5px,#00fbff 90.5px,#00e2ff 93.5px,#00e3ff 94.5px,#00bbff 100.5px,#006dff 109.5px,#003fff 119.5px,#0012ff 125.5px,#0010ff 152.5px,#001dff 155.5px,#003fff 159.5px,#006dff 169.5px,#00b4ff 177.5px,#00f6ff 186.5px,#01fffe 189.5px,#00e4ff 190.5px,#00d7ff 191.5px,#00d9ff 192.5px,#00ffff 195.5px,#00faff 197.5px,#00dbff 201.5px,#008eff 206.5px,#0078ff 207.5px,#0034ff 209.5px,#0028ff 210.5px,#0027ff 214.5px,#0010ff 222.5px,#0010ff 280.5px)"></div>
<div class="r" style="top:138px;background:linear-gradient(90deg,#000dff 0.5px,#000dff 56.5px,#0023ff 64.5px,#0025ff 71.5px,#0076ff 74.5px,#00a2ff 77.5px,#00ceff 82.5px,#00d8ff 86.5px,#00c4ff 91.5px,#004aff 109.5px,#0012ff 124.5px,#000dff 152.5px,#004aff 169.5px,#00c4ff 187.5px,#00d8ff 192.5px,#00ceff 196.5px,#00a2ff 201.5px,#0076ff 204.5px,#0025ff 207.5px,#0023ff 214.5px,#000dff 222.5px,#000dff 280.5px)"></div>
<div class="r" style="top:139px;background:linear-gradient(90deg,#000aff 0.5px,#000aff 56.5px,#0020ff 64.5px,#0021ff 73.5px,#0026ff 74.5px,#0067ff 77.5px,#0082ff 79.5px,#00a0ff 83.5px,#00a6ff 86.5px,#0097ff 90.5px,#0042ff 103.5px,#0020ff 111.5px,#001eff 119.5px,#000aff 126.5px,#000aff 152.5px,#001eff 159.5px,#0026ff 169.5px,#004dff 177.5px,#0097ff 188.5px,#00a6ff 192.5px,#00a0ff 195.5px,#0082ff 199.5px,#0067ff 201.5px,#0026ff 204.5px,#0021ff 205.5px,#0020ff 214.5px,#000aff 222.5px,#000aff 280.5px)"></div>
<div class="r" style="top:140px;background:linear-gradient(90deg,#0006ff 0.5px,#0006ff 56.5px,#001eff 65.5px,#001eff 76.5px,#0021ff 77.5px,#0044ff 79.5px,#0066ff 82.5px,#0073ff 86.5px,#0069ff 89.5px,#003cff 95.5px,#001eff 101.5px,#001aff 119.5px,#0006ff 126.5px,#0006ff 152.5px,#001aff 159.5px,#001eff 177.5px,#003cff 183.5px,#0069ff 189.5px,#0073ff 192.5px,#0066ff 196.5px,#0044ff 199.5px,#0021ff 201.5px,#001eff 202.5px,#001eff 213.5px,#0006ff 222.5px,#0006ff 280.5px)"></div>
<div class="r" style="top:141px;background:linear-gradient(90deg,#0002ff 0.5px,#0002ff 56.5px,#001aff 65.5px,#001aff 80.5px,#0033ff 83.5px,#003bff 86.5px,#001aff 92.5px,#0017ff 119.5px,#0003ff 126.5px,#0003ff 152.5px,#0017ff 159.5px,#001aff 186.5px,#003bff 192.5px,#0033ff 195.5px,#001aff 198.5px,#001aff 213.5px,#0002ff 222.5px,#0002ff 280.5px)"></div>
<div class="r" style="top:142px;background:linear-gradient(90deg,#0000fd 0.5px,#0000ff 57.5px,#0017ff 65.5px,#0017ff 102.5px,#0013ff 119.5px,#0000fe 126.5px,#0000ff 153.5px,#0013ff 159.5px,#0017ff 176.5px,#0017ff 213.5px,#0000ff 221.5px,#0000fd 280.5px)"></div>
<div class="r" style="top:143px;background:linear-gradient(90deg,#0000f9 0.5px,#0000fd 58.5px,#0013ff 65.5px,#0013ff 102.5px,#000fff 119.5px,#0000fe 124.5px,#0000fe 154.5px,#000fff 159.5px,#0013ff 176.5px,#0013ff 213.5px,#0000fd 220.5px,#0000f9 280.5px)"></div>
<div class="r" style="top:144px;background:linear-gradient(90deg,#0000f5 0.5px,#0000f5 55.5px,#0000fc 59.5px,#000eff 65.5px,#000fff 102.5px,#000bff 119.5px,#0000fe 123.5px,#0000f5 126.5px,#0000f5 151.5px,#0003ff 156.5px,#000bff 159.5px,#000fff 176.5px,#000eff 213.5px,#0000fc 219.5px,#0000f5 223.5px,#0000f5 280.5px)"></div>
<div class="r" style="top:145px;background:linear-gradient(90deg,#0000f0 0.5px,#0000f1 56.5px,#0003ff 62.5px,#000aff 66.5px,#000aff 104.5px,#0002ff 121.5px,#0000f0 127.5px,#0000f1 152.5px,#0002ff 157.5px,#000aff 174.5px,#000aff 212.5px,#0003ff 216.5px,#0000f1 222.5px,#0000f0 280.5px)"></div>
<div class="r" style="top:146px;background:linear-gradient(90deg,#0000ec 0.5px,#0000ec 56.5px,#0002ff 63.5px,#0000ff 120.5px,#0000ec 127.5px,#0000ec 152.5px,#0000ff 158.5px,#0002ff 215.5px,#0000ec 222.5px,#0000ec 280.5px)"></div>
<div class="r" style="top:147px;background:linear-gradient(90deg,#0000e7 0.5px,#0000e7 56.5px,#0001ff 65.5px,#0000ff 107.5px,#0000fc 119.5px,#0000e7 126.5px,#0000e7 151.5px,#0000fc 159.5px,#0001ff 213.5px,#0000e7 222.5px,#0000e7 280.5px)"></div>
<div class="r" style="top:148px;background:linear-gradient(90deg,#0000e2 0.5px,#0000e2 56.5px,#0000fb 65.5px,#0000fb 103.5px,#0000f7 119.5px,#0000e2 126.5px,#0000e2 151.5px,#0000f7 159.5px,#0000fb 212.5px,#0000e2 222.5px,#0000e2 280.5px)"></div>
<div class="r" style="top:192px;background:linear-gradient(90deg,#0000e6 0.5px,#0000e6 29.5px,#0000fc 44.5px,#001dff 48.5px,#0035ff 49.5px,#0015ff 50.5px,#0000fe 51.5px,#0015ff 54.5px,#0036ff 55.5px,#0068ff 56.5px,#006fff 57.5px,#003dff 58.5px,#0000fd 59.5px,#0000e6 60.5px,#0000ea 62.5px,#0007ff 63.5px,#001fff 64.5px,#002eff 65.5px,#0073ff 67.5px,#0083ff 68.5px,#006fff 69.5px,#0042ff 70.5px,#001eff 71.5px,#0001ff 73.5px,#0000f0 74.5px,#0002ff 75.5px,#002eff 76.5px,#0043ff 77.5px,#0021ff 79.5px,#0024ff 80.5px,#0035ff 81.5px,#003cff 82.5px,#005eff 84.5px,#0050ff 85.5px,#0027ff 86.5px,#0010ff 87.5px,#001eff 88.5px,#003aff 89.5px,#001eff 90.5px,#0000fd 98.5px,#0000f7 100.5px,#0000f7 180.5px,#0000ff 183.5px,#0024ff 192.5px,#0000fd 194.5px,#0007ff 195.5px,#0044ff 197.5px,#0049ff 198.5px,#003cff 199.5px,#003eff 202.5px,#005eff 204.5px,#0015ff 206.5px,#0005ff 208.5px,#001bff 211.5px,#000eff 215.5px,#0015ff 216.5px,#0055ff 219.5px,#0062ff 220.5px,#0059ff 222.5px,#0063ff 223.5px,#0064ff 225.5px,#007aff 226.5px,#0084ff 227.5px,#0049ff 230.5px,#0057ff 232.5px,#0019ff 233.5px,#0002ff 236.5px,#0000f5 238.5px,#0000e7 251.5px,#0000e6 280.5px)"></div>
<div class="r" style="top:193px;background:linear-gradient(90deg,#0000eb 0.5px,#0000eb 29.5px,#0000fe 41.5px,#001eff 45.5px,#0039ff 46.5px,#0052ff 48.5px,#0043ff 49.5px,#0021ff 50.5px,#0012ff 51.5px,#0036ff 53.5px,#0031ff 54.5px,#003fff 55.5px,#0064ff 56.5px,#0071ff 57.5px,#004eff 58.5px,#001bff 59.5px,#0003ff 60.5px,#001bff 62.5px,#0040ff 64.5px,#0042ff 65.5px,#0084ff 68.5px,#0073ff 69.5px,#004bff 70.5px,#002eff 71.5px,#0000fc 74.5px,#0006ff 75.5px,#0021ff 76.5px,#0029ff 77.5px,#0020ff 79.5px,#0039ff 82.5px,#005eff 84.5px,#005cff 85.5px,#0038ff 87.5px,#003eff 88.5px,#0063ff 90.5px,#006eff 91.5px,#005aff 92.5px,#0023ff 93.5px,#0000fe 102.5px,#0000ff 179.5px,#0025ff 188.5px,#0007ff 189.5px,#002fff 190.5px,#003cff 191.5px,#0014ff 194.5px,#0016ff 195.5px,#004bff 197.5px,#0054ff 198.5px,#0045ff 200.5px,#0046ff 202.5px,#005cff 204.5px,#003bff 206.5px,#002aff 208.5px,#002dff 210.5px,#001dff 212.5px,#0015ff 215.5px,#0020ff 216.5px,#004dff 218.5px,#005bff 219.5px,#0058ff 221.5px,#006bff 223.5px,#0067ff 225.5px,#007eff 227.5px,#005eff 230.5px,#0053ff 234.5px,#0023ff 235.5px,#0000fb 240.5px,#0000eb 252.5px,#0000eb 280.5px)"></div>
<div class="r" style="top:194px;background:linear-gradient(90deg,#0000f0 0.5px,#0000f0 29.5px,#0000fd 38.5px,#0026ff 43.5px,#0036ff 44.5px,#004fff 45.5px,#0063ff 47.5px,#0063ff 48.5px,#0051ff 49.5px,#0034ff 50.5px,#002bff 51.5px,#0051ff 53.5px,#0045ff 55.5px,#0068ff 57.5px,#0058ff 58.5px,#0030ff 59.5px,#0022ff 60.5px,#005fff 64.5px,#0060ff 66.5px,#007eff 68.5px,#006fff 69.5px,#0050ff 70.5px,#003cff 71.5px,#0039ff 72.5px,#0015ff 74.5px,#0013ff 75.5px,#0013ff 77.5px,#0044ff 80.5px,#0047ff 82.5px,#0056ff 84.5px,#0053ff 88.5px,#0074ff 91.5px,#0053ff 93.5px,#0042ff 95.5px,#0027ff 96.5px,#0002ff 105.5px,#0001ff 175.5px,#002aff 185.5px,#0003ff 187.5px,#0001ff 188.5px,#003aff 190.5px,#0037ff 193.5px,#0023ff 195.5px,#0057ff 197.5px,#0067ff 198.5px,#005bff 201.5px,#0047ff 203.5px,#0050ff 205.5px,#003eff 208.5px,#004bff 210.5px,#001bff 214.5px,#001cff 215.5px,#0054ff 218.5px,#0054ff 219.5px,#0047ff 220.5px,#004bff 221.5px,#0067ff 223.5px,#0075ff 227.5px,#006cff 228.5px,#0071ff 230.5px,#0060ff 232.5px,#0059ff 234.5px,#0023ff 236.5px,#0023ff 238.5px,#0002ff 242.5px,#0000f0 252.5px,#0000f0 280.5px)"></div>
<div class="r" style="top:195px;background:linear-gradient(90deg,#0000f4 0.5px,#0000f4 28.5px,#0000ff 35.5px,#0022ff 40.5px,#0017ff 41.5px,#0018ff 42.5px,#0028ff 43.5px,#005bff 45.5px,#0074ff 47.5px,#0070ff 48.5px,#0049ff 50.5px,#0040ff 51.5px,#0052ff 53.5px,#0043ff 55.5px,#0045ff 56.5px,#0055ff 57.5px,#0052ff 58.5px,#0031ff 59.5px,#0025ff 60.5px,#0050ff 63.5px,#0068ff 64.5px,#007eff 68.5px,#0075ff 69.5px,#005eff 70.5px,#0051ff 71.5px,#0052ff 72.5px,#002fff 74.5px,#0014ff 77.5px,#0023ff 78.5px,#0057ff 80.5px,#005bff 82.5px,#0048ff 85.5px,#007bff 91.5px,#0064ff 93.5px,#0061ff 95.5px,#0031ff 98.5px,#0029ff 99.5px,#0005ff 108.5px,#0005ff 173.5px,#0026ff 181.5px,#003dff 184.5px,#003dff 185.5px,#0024ff 187.5px,#0022ff 188.5px,#003fff 190.5px,#003dff 191.5px,#004bff 193.5px,#0046ff 195.5px,#0070ff 197.5px,#0085ff 199.5px,#0081ff 200.5px,#0040ff 203.5px,#004aff 205.5px,#0044ff 208.5px,#0064ff 210.5px,#0062ff 211.5px,#003aff 213.5px,#002fff 214.5px,#0032ff 215.5px,#0054ff 218.5px,#003bff 220.5px,#0041ff 221.5px,#0058ff 222.5px,#0062ff 223.5px,#0062ff 225.5px,#006bff 226.5px,#0065ff 228.5px,#0073ff 230.5px,#0052ff 234.5px,#001eff 236.5px,#002eff 238.5px,#002eff 239.5px,#001fff 240.5px,#0002ff 245.5px,#0000f4 252.5px,#0000f4 280.5px)"></div>
<div class="r" style="top:196px;background:linear-gradient(90deg,#0000f8 0.5px,#0000f9 28.5px,#0001ff 32.5px,#0012ff 36.5px,#0036ff 40.5px,#002aff 42.5px,#0032ff 43.5px,#006cff 46.5px,#0077ff 47.5px,#006eff 49.5px,#004bff 52.5px,#0054ff 54.5px,#0042ff 56.5px,#0052ff 58.5px,#003dff 59.5px,#0034ff 60.5px,#003fff 61.5px,#0041ff 63.5px,#0068ff 65.5px,#0068ff 67.5px,#0076ff 68.5px,#0077ff 69.5px,#006bff 70.5px,#0065ff 72.5px,#0040ff 74.5px,#0027ff 77.5px,#0027ff 78.5px,#005dff 81.5px,#005cff 82.5px,#0043ff 84.5px,#0040ff 85.5px,#006bff 87.5px,#0077ff 88.5px,#0080ff 90.5px,#0080ff 91.5px,#006dff 93.5px,#0069ff 96.5px,#0055ff 98.5px,#0041ff 99.5px,#002aff 102.5px,#000aff 110.5px,#000aff 171.5px,#002cff 179.5px,#0034ff 180.5px,#0056ff 181.5px,#004bff 182.5px,#0055ff 184.5px,#004dff 186.5px,#0058ff 189.5px,#004bff 191.5px,#006cff 193.5px,#0097ff 199.5px,#0091ff 200.5px,#0055ff 202.5px,#0042ff 203.5px,#0052ff 208.5px,#0070ff 210.5px,#0075ff 211.5px,#004eff 214.5px,#0053ff 218.5px,#003eff 220.5px,#0042ff 221.5px,#0057ff 222.5px,#0060ff 223.5px,#005aff 225.5px,#0076ff 231.5px,#006eff 232.5px,#0034ff 235.5px,#0028ff 236.5px,#0037ff 238.5px,#0035ff 239.5px,#0012ff 243.5px,#0016ff 244.5px,#0000ff 249.5px,#0000f8 253.5px,#0000f8 280.5px)"></div>
<div class="r" style="top:197px;background:linear-gradient(90deg,#0000fd 0.5px,#0001ff 30.5px,#0014ff 35.5px,#002aff 38.5px,#0049ff 40.5px,#0042ff 42.5px,#004bff 44.5px,#0077ff 47.5px,#0083ff 49.5px,#0082ff 50.5px,#005fff 52.5px,#0059ff 53.5px,#005fff 54.5px,#0053ff 56.5px,#0059ff 58.5px,#0054ff 60.5px,#005cff 61.5px,#004bff 63.5px,#0062ff 65.5px,#004aff 67.5px,#0073ff 72.5px,#0040ff 75.5px,#0033ff 79.5px,#0055ff 81.5px,#0049ff 85.5px,#007eff 88.5px,#0089ff 90.5px,#0073ff 93.5px,#0071ff 97.5px,#004aff 100.5px,#004aff 101.5px,#0059ff 102.5px,#0037ff 103.5px,#002eff 104.5px,#000fff 111.5px,#000eff 169.5px,#0031ff 177.5px,#003dff 178.5px,#0056ff 179.5px,#0066ff 180.5px,#006dff 181.5px,#005eff 182.5px,#005cff 185.5px,#0067ff 186.5px,#0081ff 187.5px,#008fff 188.5px,#007dff 189.5px,#0060ff 190.5px,#0059ff 191.5px,#006eff 192.5px,#008eff 193.5px,#009dff 194.5px,#0091ff 197.5px,#0099ff 199.5px,#008eff 200.5px,#0064ff 202.5px,#0051ff 204.5px,#0072ff 210.5px,#0065ff 213.5px,#0064ff 218.5px,#004bff 220.5px,#0046ff 221.5px,#005aff 223.5px,#005aff 226.5px,#007eff 231.5px,#0074ff 232.5px,#0058ff 233.5px,#0048ff 234.5px,#0047ff 238.5px,#0026ff 241.5px,#0007ff 248.5px,#0000ff 251.5px,#0000fd 280.5px)"></div>
<div class="r" style="top:198px;background:linear-gradient(90deg,#0002ff 0.5px,#0005ff 30.5px,#001cff 35.5px,#0050ff 40.5px,#0067ff 45.5px,#0084ff 47.5px,#0099ff 50.5px,#0063ff 53.5px,#005eff 54.5px,#0057ff 58.5px,#005dff 59.5px,#0081ff 61.5px,#007fff 62.5px,#0070ff 63.5px,#0076ff 65.5px,#0041ff 67.5px,#0038ff 68.5px,#003fff 69.5px,#0072ff 71.5px,#007cff 72.5px,#0072ff 73.5px,#0048ff 75.5px,#003fff 76.5px,#0044ff 77.5px,#003cff 79.5px,#0062ff 81.5px,#0069ff 84.5px,#0062ff 86.5px,#009bff 89.5px,#00a6ff 90.5px,#009eff 91.5px,#0078ff 93.5px,#0070ff 94.5px,#0077ff 97.5px,#0056ff 99.5px,#005bff 100.5px,#0088ff 102.5px,#0080ff 103.5px,#003dff 105.5px,#0033ff 106.5px,#0013ff 113.5px,#0012ff 167.5px,#0036ff 175.5px,#0043ff 176.5px,#007aff 178.5px,#008aff 179.5px,#0084ff 181.5px,#005dff 183.5px,#005eff 184.5px,#0063ff 185.5px,#0075ff 186.5px,#0094ff 187.5px,#00a2ff 188.5px,#006bff 190.5px,#0065ff 191.5px,#007bff 192.5px,#009dff 193.5px,#00abff 194.5px,#009bff 199.5px,#007eff 201.5px,#0065ff 204.5px,#0068ff 205.5px,#007eff 207.5px,#0068ff 210.5px,#0059ff 211.5px,#0058ff 212.5px,#0092ff 217.5px,#0090ff 218.5px,#004fff 221.5px,#0040ff 226.5px,#005eff 228.5px,#0074ff 231.5px,#0068ff 232.5px,#0050ff 233.5px,#0047ff 234.5px,#0065ff 236.5px,#006aff 237.5px,#002aff 242.5px,#000eff 247.5px,#0002ff 252.5px,#0002ff 280.5px)"></div>
<div class="r" style="top:199px;background:linear-gradient(90deg,#0005ff 0.5px,#000aff 30.5px,#002eff 36.5px,#0079ff 43.5px,#0079ff 45.5px,#0088ff 46.5px,#0098ff 50.5px,#0091ff 51.5px,#0059ff 54.5px,#004cff 57.5px,#0050ff 58.5px,#0063ff 59.5px,#00a1ff 61.5px,#00a3ff 62.5px,#0088ff 63.5px,#007cff 64.5px,#0086ff 65.5px,#0052ff 68.5px,#0051ff 69.5px,#0071ff 71.5px,#0064ff 74.5px,#004fff 75.5px,#0043ff 76.5px,#0057ff 78.5px,#004fff 79.5px,#005bff 80.5px,#0078ff 81.5px,#0090ff 83.5px,#008eff 84.5px,#007cff 85.5px,#0074ff 86.5px,#00b9ff 89.5px,#00c6ff 90.5px,#00baff 91.5px,#007bff 93.5px,#006dff 94.5px,#0073ff 97.5px,#0063ff 99.5px,#0093ff 102.5px,#0098ff 103.5px,#0086ff 104.5px,#002cff 106.5px,#0040ff 107.5px,#0035ff 108.5px,#0016ff 115.5px,#0015ff 165.5px,#0038ff 173.5px,#0047ff 174.5px,#00a0ff 178.5px,#00acff 179.5px,#00aaff 180.5px,#009bff 181.5px,#0058ff 183.5px,#0065ff 185.5px,#008aff 187.5px,#0094ff 188.5px,#007cff 190.5px,#007eff 191.5px,#00a4ff 194.5px,#00afff 196.5px,#00a6ff 198.5px,#0073ff 201.5px,#0066ff 203.5px,#0065ff 204.5px,#0097ff 207.5px,#008aff 208.5px,#004cff 211.5px,#0051ff 212.5px,#0082ff 214.5px,#00acff 217.5px,#00adff 218.5px,#0098ff 219.5px,#0041ff 222.5px,#002dff 223.5px,#0027ff 224.5px,#002cff 226.5px,#005cff 228.5px,#0070ff 231.5px,#004eff 233.5px,#0049ff 234.5px,#006eff 236.5px,#0074ff 237.5px,#0039ff 242.5px,#0015ff 247.5px,#0008ff 251.5px,#0005ff 280.5px)"></div>
<div class="r" style="top:200px;background:linear-gradient(90deg,#0009ff 0.5px,#000bff 29.5px,#001eff 33.5px,#0038ff 36.5px,#0053ff 38.5px,#0079ff 44.5px,#008dff 46.5px,#0074ff 48.5px,#0079ff 49.5px,#0091ff 50.5px,#009cff 51.5px,#0095ff 52.5px,#0049ff 56.5px,#004aff 57.5px,#0056ff 58.5px,#00bcff 61.5px,#00bbff 62.5px,#0097ff 63.5px,#0085ff 64.5px,#0099ff 65.5px,#00a2ff 66.5px,#0082ff 68.5px,#0071ff 70.5px,#0054ff 72.5px,#0061ff 74.5px,#004eff 76.5px,#0073ff 78.5px,#0065ff 79.5px,#0067ff 80.5px,#00a0ff 82.5px,#00aeff 83.5px,#00a8ff 84.5px,#008eff 85.5px,#0083ff 86.5px,#00a9ff 88.5px,#00b9ff 90.5px,#00b0ff 91.5px,#007fff 93.5px,#0079ff 94.5px,#0078ff 98.5px,#008fff 100.5px,#008fff 101.5px,#009fff 103.5px,#0094ff 104.5px,#006bff 106.5px,#0035ff 108.5px,#0040ff 109.5px,#0019ff 117.5px,#0019ff 163.5px,#003aff 171.5px,#0046ff 172.5px,#002fff 173.5px,#0091ff 175.5px,#009eff 177.5px,#00b5ff 178.5px,#00c2ff 179.5px,#00bcff 180.5px,#00a7ff 181.5px,#007eff 182.5px,#0060ff 183.5px,#007eff 187.5px,#0076ff 189.5px,#008bff 191.5px,#0096ff 194.5px,#00b1ff 197.5px,#00afff 198.5px,#0096ff 199.5px,#0071ff 200.5px,#005bff 201.5px,#004aff 203.5px,#004fff 204.5px,#0067ff 205.5px,#00a7ff 207.5px,#009eff 208.5px,#005bff 210.5px,#004dff 211.5px,#005aff 212.5px,#0095ff 214.5px,#00a0ff 217.5px,#009fff 218.5px,#0091ff 219.5px,#002bff 223.5px,#0036ff 226.5px,#0044ff 227.5px,#0074ff 229.5px,#0082ff 231.5px,#005eff 233.5px,#0058ff 234.5px,#006bff 236.5px,#005aff 239.5px,#005fff 241.5px,#003fff 243.5px,#002cff 245.5px,#000cff 251.5px,#0009ff 280.5px)"></div>
<div class="r" style="top:201px;background:linear-gradient(90deg,#000dff 0.5px,#0011ff 30.5px,#0021ff 33.5px,#005aff 38.5px,#0070ff 43.5px,#008fff 45.5px,#0092ff 46.5px,#006bff 48.5px,#006fff 49.5px,#00a1ff 51.5px,#00a9ff 52.5px,#00a8ff 53.5px,#009bff 54.5px,#006eff 56.5px,#006fff 57.5px,#0078ff 58.5px,#00d7ff 61.5px,#00d3ff 62.5px,#00b4ff 63.5px,#00a6ff 64.5px,#00d2ff 66.5px,#00c4ff 67.5px,#0060ff 71.5px,#0054ff 72.5px,#0068ff 74.5px,#005fff 76.5px,#0082ff 78.5px,#0070ff 79.5px,#006eff 80.5px,#00a6ff 82.5px,#00b6ff 83.5px,#00b8ff 84.5px,#008fff 86.5px,#009bff 88.5px,#0092ff 92.5px,#009fff 95.5px,#0097ff 97.5px,#00a7ff 99.5px,#00a7ff 100.5px,#0095ff 101.5px,#008fff 102.5px,#009bff 103.5px,#009bff 104.5px,#0086ff 107.5px,#006dff 108.5px,#0045ff 109.5px,#004eff 110.5px,#0039ff 112.5px,#001cff 119.5px,#001dff 162.5px,#0049ff 171.5px,#0042ff 172.5px,#0053ff 173.5px,#008fff 175.5px,#009aff 176.5px,#00c1ff 178.5px,#00c3ff 179.5px,#00aaff 181.5px,#0083ff 183.5px,#0087ff 186.5px,#0067ff 188.5px,#0062ff 189.5px,#0087ff 191.5px,#0095ff 195.5px,#00b4ff 197.5px,#00b3ff 198.5px,#0079ff 200.5px,#0065ff 201.5px,#004dff 203.5px,#004fff 204.5px,#0063ff 205.5px,#00a3ff 207.5px,#00a5ff 208.5px,#0063ff 210.5px,#005aff 211.5px,#00a4ff 214.5px,#0088ff 217.5px,#007fff 219.5px,#004eff 222.5px,#0044ff 223.5px,#005bff 225.5px,#0051ff 227.5px,#0079ff 229.5px,#0081ff 230.5px,#007fff 231.5px,#0069ff 233.5px,#0070ff 236.5px,#0062ff 239.5px,#0068ff 241.5px,#0030ff 245.5px,#000dff 252.5px,#000dff 280.5px)"></div>
<div class="r" style="top:202px;background:linear-gradient(90deg,#0011ff 0.5px,#0014ff 30.5px,#0025ff 33.5px,#0067ff 39.5px,#006dff 42.5px,#007bff 43.5px,#00a5ff 45.5px,#00a1ff 46.5px,#007eff 48.5px,#0078ff 49.5px,#00b3ff 53.5px,#00b4ff 54.5px,#009aff 56.5px,#00acff 58.5px,#00c0ff 59.5px,#00e0ff 60.5px,#00f1ff 61.5px,#00ccff 64.5px,#00eeff 66.5px,#00dfff 67.5px,#007dff 70.5px,#006cff 71.5px,#006dff 72.5px,#0081ff 74.5px,#007aff 76.5px,#0086ff 78.5px,#0077ff 79.5px,#007aff 80.5px,#00a8ff 82.5px,#00b5ff 84.5px,#008fff 86.5px,#0094ff 88.5px,#0080ff 90.5px,#0085ff 91.5px,#0094ff 92.5px,#00c6ff 94.5px,#00cdff 95.5px,#00b6ff 97.5px,#00afff 100.5px,#0089ff 102.5px,#0096ff 106.5px,#0091ff 107.5px,#0061ff 110.5px,#003fff 113.5px,#001fff 121.5px,#001fff 160.5px,#0043ff 168.5px,#0069ff 170.5px,#006dff 171.5px,#0067ff 173.5px,#008bff 176.5px,#00baff 178.5px,#00aaff 180.5px,#00b0ff 182.5px,#009fff 185.5px,#0096ff 186.5px,#005fff 188.5px,#0057ff 189.5px,#007aff 191.5px,#0094ff 195.5px,#00b3ff 197.5px,#009bff 201.5px,#0078ff 203.5px,#006fff 204.5px,#0075ff 205.5px,#0093ff 207.5px,#0092ff 208.5px,#006cff 210.5px,#006fff 211.5px,#009dff 213.5px,#00a5ff 214.5px,#007bff 217.5px,#0086ff 219.5px,#0068ff 221.5px,#0062ff 222.5px,#0061ff 223.5px,#007cff 225.5px,#0068ff 227.5px,#0071ff 229.5px,#0060ff 232.5px,#0083ff 237.5px,#005bff 242.5px,#0032ff 245.5px,#0010ff 252.5px,#0011ff 280.5px)"></div>
<div class="r" style="top:203px;background:linear-gradient(90deg,#0018ff 0.5px,#0012ff 21.5px,#0018ff 30.5px,#003eff 35.5px,#0075ff 39.5px,#007dff 40.5px,#0077ff 42.5px,#00abff 44.5px,#00b7ff 45.5px,#00a9ff 47.5px,#008cff 49.5px,#009eff 52.5px,#00b4ff 54.5px,#00b9ff 56.5px,#00cfff 58.5px,#00fbff 60.5px,#00faff 61.5px,#00e3ff 63.5px,#00f2ff 66.5px,#00e8ff 67.5px,#0090ff 70.5px,#0081ff 71.5px,#0084ff 72.5px,#009dff 74.5px,#0094ff 77.5px,#007dff 79.5px,#0083ff 80.5px,#00a7ff 82.5px,#00acff 83.5px,#0091ff 86.5px,#0097ff 88.5px,#008aff 91.5px,#0099ff 92.5px,#00d7ff 94.5px,#00ddff 95.5px,#008bff 102.5px,#0084ff 105.5px,#008dff 107.5px,#0082ff 109.5px,#008aff 111.5px,#0071ff 113.5px,#0048ff 114.5px,#0023ff 122.5px,#0024ff 159.5px,#0042ff 166.5px,#004eff 167.5px,#0083ff 168.5px,#009bff 169.5px,#009eff 170.5px,#0088ff 171.5px,#0089ff 173.5px,#0078ff 175.5px,#007dff 176.5px,#00afff 178.5px,#00b2ff 179.5px,#00a5ff 180.5px,#00a4ff 181.5px,#00cbff 183.5px,#00c3ff 184.5px,#0098ff 186.5px,#0058ff 188.5px,#004bff 189.5px,#0055ff 190.5px,#007dff 192.5px,#008aff 194.5px,#00b4ff 196.5px,#00b8ff 197.5px,#00aaff 198.5px,#00a7ff 199.5px,#00c7ff 201.5px,#00c1ff 202.5px,#0096ff 205.5px,#008dff 207.5px,#0076ff 209.5px,#0076ff 210.5px,#009fff 212.5px,#00a5ff 213.5px,#0081ff 216.5px,#007dff 217.5px,#009bff 219.5px,#0081ff 221.5px,#007cff 223.5px,#0095ff 225.5px,#008fff 226.5px,#0066ff 228.5px,#0061ff 230.5px,#0056ff 231.5px,#005aff 232.5px,#0081ff 234.5px,#009fff 237.5px,#008cff 239.5px,#0033ff 245.5px,#0013ff 252.5px,#0017ff 280.5px)"></div>
<div class="r" style="top:204px;background:linear-gradient(90deg,#0062ff 0.5px,#004eff 6.5px,#0017ff 16.5px,#0017ff 29.5px,#003eff 35.5px,#005cff 37.5px,#0084ff 39.5px,#008eff 40.5px,#0085ff 42.5px,#00baff 44.5px,#00bcff 45.5px,#0098ff 49.5px,#00a0ff 50.5px,#00b3ff 51.5px,#00b6ff 53.5px,#00d1ff 56.5px,#00d7ff 58.5px,#02fffd 60.5px,#00e4ff 62.5px,#00f0ff 64.5px,#00ecff 67.5px,#00ddff 68.5px,#00a4ff 70.5px,#0092ff 71.5px,#0090ff 72.5px,#00abff 74.5px,#00a1ff 77.5px,#0087ff 79.5px,#00a2ff 83.5px,#008dff 88.5px,#0090ff 90.5px,#00a4ff 92.5px,#00ccff 94.5px,#00d2ff 95.5px,#00c1ff 97.5px,#009aff 99.5px,#008fff 100.5px,#0093ff 102.5px,#0074ff 105.5px,#0088ff 108.5px,#0086ff 112.5px,#006fff 114.5px,#0054ff 115.5px,#0046ff 116.5px,#0025ff 124.5px,#0025ff 157.5px,#004aff 165.5px,#008fff 166.5px,#00bcff 168.5px,#00c9ff 169.5px,#00b8ff 170.5px,#009bff 171.5px,#0098ff 172.5px,#00a0ff 173.5px,#0082ff 176.5px,#00b7ff 178.5px,#00c2ff 179.5px,#0098ff 181.5px,#00aeff 182.5px,#00cfff 183.5px,#00d1ff 184.5px,#0054ff 188.5px,#0044ff 189.5px,#0050ff 190.5px,#0081ff 192.5px,#0098ff 194.5px,#00c6ff 196.5px,#00bdff 197.5px,#00a7ff 198.5px,#00a5ff 199.5px,#00ddff 202.5px,#00e5ff 203.5px,#00d4ff 204.5px,#00a3ff 206.5px,#007dff 209.5px,#008aff 210.5px,#00bcff 212.5px,#00b9ff 213.5px,#0094ff 215.5px,#008bff 216.5px,#008dff 217.5px,#00b2ff 219.5px,#009aff 221.5px,#0097ff 222.5px,#00a4ff 225.5px,#0096ff 226.5px,#0066ff 228.5px,#0063ff 230.5px,#0059ff 231.5px,#0064ff 232.5px,#009cff 234.5px,#00a8ff 235.5px,#00acff 237.5px,#009eff 239.5px,#003bff 244.5px,#0016ff 252.5px,#0015ff 264.5px,#004bff 274.5px,#0061ff 280.5px)"></div>
<div class="r" style="top:205px;background:linear-gradient(90deg,#00a4ff 0.5px,#007dff 11.5px,#0046ff 19.5px,#0018ff 24.5px,#0018ff 27.5px,#001dff 30.5px,#0042ff 35.5px,#0088ff 39.5px,#0091ff 40.5px,#0090ff 42.5px,#00c8ff 44.5px,#00c1ff 45.5px,#00a9ff 46.5px,#009eff 47.5px,#009eff 49.5px,#00ddff 52.5px,#00e9ff 56.5px,#00d1ff 58.5px,#00f0ff 60.5px,#00e4ff 62.5px,#00ffff 64.5px,#09fff6 67.5px,#00faff 68.5px,#00c1ff 70.5px,#00acff 72.5px,#00c2ff 74.5px,#00c8ff 76.5px,#00a0ff 79.5px,#0091ff 83.5px,#0096ff 86.5px,#0085ff 88.5px,#0091ff 90.5px,#00afff 92.5px,#00b4ff 93.5px,#00cdff 95.5px,#00cdff 96.5px,#00a0ff 98.5px,#008bff 100.5px,#009cff 102.5px,#0099ff 103.5px,#0075ff 105.5px,#0073ff 106.5px,#008fff 108.5px,#0083ff 110.5px,#0087ff 114.5px,#004eff 117.5px,#0027ff 125.5px,#0029ff 156.5px,#0048ff 163.5px,#0055ff 164.5px,#00adff 165.5px,#00c0ff 166.5px,#00c7ff 169.5px,#00c0ff 170.5px,#00aaff 171.5px,#00a3ff 172.5px,#00a9ff 173.5px,#0091ff 176.5px,#00a3ff 177.5px,#00c2ff 178.5px,#00d1ff 179.5px,#0096ff 181.5px,#009cff 182.5px,#00b6ff 183.5px,#00beff 184.5px,#0088ff 187.5px,#0067ff 188.5px,#0056ff 189.5px,#0084ff 192.5px,#00cbff 195.5px,#00d8ff 196.5px,#00b7ff 198.5px,#00baff 199.5px,#00dfff 201.5px,#00fdff 202.5px,#16ffe9 203.5px,#0cfff3 204.5px,#00e6ff 205.5px,#00c9ff 206.5px,#00b0ff 208.5px,#00adff 209.5px,#00bbff 210.5px,#00e7ff 212.5px,#00e2ff 213.5px,#00b7ff 215.5px,#00aeff 216.5px,#00b0ff 217.5px,#00ccff 219.5px,#00c7ff 220.5px,#00b9ff 221.5px,#00b7ff 222.5px,#00c2ff 223.5px,#00c3ff 224.5px,#00b3ff 225.5px,#007dff 227.5px,#0073ff 228.5px,#0078ff 230.5px,#006eff 231.5px,#0075ff 232.5px,#00a0ff 234.5px,#00adff 235.5px,#00a7ff 238.5px,#009dff 239.5px,#005cff 242.5px,#0040ff 244.5px,#0019ff 252.5px,#001bff 257.5px,#0049ff 262.5px,#0079ff 269.5px,#00a2ff 280.5px)"></div>
<div class="r" style="top:206px;background:linear-gradient(90deg,#00ebff 0.5px,#00d8ff 1.5px,#0083ff 19.5px,#003dff 26.5px,#0021ff 30.5px,#0049ff 35.5px,#0082ff 39.5px,#009aff 42.5px,#00ccff 44.5px,#00b0ff 47.5px,#00aaff 49.5px,#00bbff 50.5px,#00f9ff 52.5px,#07fff8 53.5px,#00ffff 55.5px,#05fffa 56.5px,#00e2ff 58.5px,#00e4ff 59.5px,#00f9ff 61.5px,#00fcff 63.5px,#33ffcc 67.5px,#2affd5 68.5px,#01fffe 70.5px,#00e6ff 72.5px,#00e5ff 73.5px,#00f7ff 75.5px,#009cff 83.5px,#0094ff 85.5px,#009aff 90.5px,#00b8ff 92.5px,#00c4ff 94.5px,#00d3ff 95.5px,#00d2ff 96.5px,#0089ff 98.5px,#00a0ff 103.5px,#00a1ff 104.5px,#0086ff 106.5px,#00a5ff 108.5px,#00a5ff 109.5px,#0090ff 112.5px,#0099ff 114.5px,#006fff 116.5px,#004aff 117.5px,#0058ff 118.5px,#004aff 119.5px,#0029ff 127.5px,#0029ff 153.5px,#0047ff 161.5px,#004eff 162.5px,#0060ff 163.5px,#00baff 164.5px,#00d9ff 165.5px,#00d9ff 166.5px,#00c0ff 168.5px,#00b3ff 173.5px,#009cff 176.5px,#00aaff 177.5px,#00d7ff 179.5px,#00c8ff 180.5px,#00a5ff 181.5px,#0094ff 182.5px,#00b1ff 186.5px,#00a7ff 187.5px,#007dff 189.5px,#0083ff 192.5px,#00e0ff 195.5px,#00ecff 196.5px,#00f2ff 198.5px,#00ffff 199.5px,#0ffff0 201.5px,#37ffc8 203.5px,#30ffcf 204.5px,#03fffc 207.5px,#00feff 208.5px,#0dfff2 210.5px,#26ffd9 212.5px,#1bffe4 213.5px,#00f9ff 214.5px,#00dbff 215.5px,#00d7ff 216.5px,#00eaff 219.5px,#00e7ff 221.5px,#00f3ff 223.5px,#00edff 224.5px,#00acff 226.5px,#0095ff 227.5px,#0091ff 228.5px,#0098ff 229.5px,#0088ff 231.5px,#0089ff 232.5px,#009dff 235.5px,#00a4ff 238.5px,#0098ff 239.5px,#006eff 241.5px,#0043ff 245.5px,#0023ff 250.5px,#0023ff 251.5px,#0040ff 255.5px,#0080ff 261.5px,#00daff 280.5px)"></div>
<div class="r" style="top:207px;background:linear-gradient(90deg,#d4ff2b 0.5px,#0cfff3 5.5px,#00eeff 6.5px,#0099ff 21.5px,#004bff 31.5px,#004eff 33.5px,#005bff 35.5px,#00a2ff 42.5px,#00c5ff 44.5px,#00ccff 47.5px,#00b5ff 49.5px,#00bfff 50.5px,#00fdff 52.5px,#1effe1 53.5px,#2affd5 54.5px,#29ffd6 56.5px,#0efff1 58.5px,#0bfff4 59.5px,#37ffc8 61.5px,#1bffe4 62.5px,#62ff9d 66.5px,#62ff9d 67.5px,#2cffd3 71.5px,#2affd5 72.5px,#3fffc0 73.5px,#5fffa0 74.5px,#6eff91 75.5px,#59ffa6 77.5px,#2dffd2 79.5px,#20ffdf 80.5px,#00f0ff 81.5px,#00b8ff 84.5px,#0099ff 87.5px,#00afff 89.5px,#00abff 91.5px,#00c6ff 93.5px,#00d0ff 95.5px,#00c7ff 96.5px,#009cff 97.5px,#007fff 98.5px,#0099ff 100.5px,#008cff 102.5px,#00abff 104.5px,#00afff 105.5px,#00a7ff 106.5px,#00bdff 109.5px,#00b7ff 110.5px,#0098ff 112.5px,#009eff 114.5px,#0069ff 117.5px,#0048ff 118.5px,#0062ff 119.5px,#0051ff 120.5px,#0049ff 121.5px,#002cff 128.5px,#002cff 151.5px,#003eff 157.5px,#004bff 160.5px,#0056ff 161.5px,#00cbff 164.5px,#00e0ff 165.5px,#00dcff 167.5px,#00c1ff 169.5px,#00caff 171.5px,#00a3ff 176.5px,#00d8ff 179.5px,#00d4ff 180.5px,#0092ff 182.5px,#008cff 183.5px,#00bfff 186.5px,#00baff 187.5px,#009eff 189.5px,#00a0ff 190.5px,#0092ff 192.5px,#00a4ff 193.5px,#00faff 195.5px,#19ffe6 197.5px,#54ffab 200.5px,#5effa1 201.5px,#8bff74 203.5px,#8dff72 205.5px,#81ff7e 207.5px,#8bff74 209.5px,#81ff7e 212.5px,#67ff98 213.5px,#0afff5 215.5px,#00fdff 216.5px,#00f5ff 217.5px,#00ddff 218.5px,#00d9ff 219.5px,#26ffd9 220.5px,#12ffed 221.5px,#19ffe6 224.5px,#09fff6 225.5px,#00f0ff 226.5px,#00d3ff 227.5px,#00c2ff 228.5px,#009aff 231.5px,#0098ff 235.5px,#00a7ff 238.5px,#007fff 241.5px,#0079ff 243.5px,#004dff 246.5px,#0047ff 248.5px,#0052ff 251.5px,#0081ff 256.5px,#00f4ff 275.5px,#1cffe3 276.5px,#beff41 280.5px)"></div>
<div class="r" style="top:208px;background:linear-gradient(90deg,#ff9000 0.5px,#ffc300 3.5px,#f6ff09 5.5px,#16ffe9 10.5px,#00f9ff 11.5px,#0076ff 31.5px,#0072ff 33.5px,#008eff 39.5px,#00c2ff 43.5px,#00c4ff 45.5px,#00dfff 47.5px,#00bdff 49.5px,#00c4ff 50.5px,#07fff8 52.5px,#2cffd3 53.5px,#44ffbb 54.5px,#47ffb8 55.5px,#5dffa2 56.5px,#0efff1 57.5px,#1dffe2 58.5px,#20ffdf 59.5px,#46ffb9 61.5px,#3effc1 64.5px,#5bffa4 66.5px,#53ffac 69.5px,#2effd1 71.5px,#28ffd7 72.5px,#5bffa4 74.5px,#6bff94 75.5px,#6aff95 77.5px,#4dffb2 79.5px,#53ffac 80.5px,#7cff83 82.5px,#69ff96 83.5px,#00ecff 84.5px,#00c8ff 85.5px,#00b5ff 86.5px,#00adff 87.5px,#00aeff 88.5px,#00bfff 89.5px,#00c0ff 90.5px,#00b2ff 91.5px,#00c6ff 93.5px,#00c5ff 94.5px,#00b1ff 96.5px,#0098ff 97.5px,#0092ff 98.5px,#009fff 99.5px,#008dff 102.5px,#0094ff 103.5px,#00b9ff 105.5px,#00c1ff 106.5px,#00c0ff 110.5px,#00a1ff 112.5px,#009fff 114.5px,#008fff 115.5px,#0087ff 117.5px,#005dff 119.5px,#0039ff 120.5px,#0059ff 121.5px,#004dff 122.5px,#002fff 129.5px,#002dff 149.5px,#0034ff 151.5px,#004bff 154.5px,#0046ff 157.5px,#0050ff 159.5px,#008fff 162.5px,#00c6ff 164.5px,#00e5ff 166.5px,#00e9ff 167.5px,#00c4ff 169.5px,#00c1ff 170.5px,#00ccff 171.5px,#00bcff 173.5px,#00baff 176.5px,#00cfff 178.5px,#00d2ff 180.5px,#009bff 182.5px,#0095ff 183.5px,#00bcff 186.5px,#00aeff 189.5px,#00bbff 191.5px,#00b3ff 192.5px,#00bbff 193.5px,#00e4ff 194.5px,#0ffff0 195.5px,#28ffd7 196.5px,#87ff78 198.5px,#88ff77 199.5px,#6eff91 200.5px,#62ff9d 201.5px,#89ff76 203.5px,#90ff6f 205.5px,#8bff74 207.5px,#95ff6a 208.5px,#86ff79 210.5px,#83ff7c 212.5px,#67ff98 213.5px,#36ffc9 214.5px,#10ffef 215.5px,#00feff 217.5px,#00f2ff 218.5px,#05fffa 219.5px,#20ffdf 220.5px,#45ffba 223.5px,#3dffc2 224.5px,#4fffb0 225.5px,#13ffec 227.5px,#00fdff 228.5px,#00eeff 229.5px,#00b7ff 231.5px,#00acff 232.5px,#00b4ff 233.5px,#00a3ff 235.5px,#00b3ff 237.5px,#00b2ff 238.5px,#0099ff 241.5px,#009aff 243.5px,#007bff 245.5px,#006bff 247.5px,#0071ff 249.5px,#00fcff 270.5px,#deff21 275.5px,#fff800 276.5px,#ffb400 278.5px,#ff8200 280.5px)"></div>
<div class="r" style="top:209px;background:linear-gradient(90deg,#ff7500 0.5px,#ff7b00 3.5px,#ff9400 6.5px,#ffb800 8.5px,#ffd600 9.5px,#ffff00 10.5px,#09fff6 15.5px,#00feff 16.5px,#00a0ff 29.5px,#0093ff 33.5px,#009aff 36.5px,#0095ff 38.5px,#00cbff 43.5px,#00ccff 45.5px,#00eeff 47.5px,#00f2ff 48.5px,#00e1ff 49.5px,#00dcff 50.5px,#00f5ff 51.5px,#24ffdb 52.5px,#13ffec 53.5px,#2fffd0 54.5px,#26ffd9 57.5px,#36ffc9 59.5px,#5affa5 61.5px,#5cffa3 62.5px,#46ffb9 64.5px,#51ffae 66.5px,#4cffb3 69.5px,#2dffd2 71.5px,#26ffd9 72.5px,#30ffcf 73.5px,#6dff92 76.5px,#73ff8c 77.5px,#61ff9e 79.5px,#8aff75 82.5px,#79ff86 84.5px,#52ffad 85.5px,#00deff 86.5px,#00d2ff 89.5px,#00beff 91.5px,#00c3ff 93.5px,#00b7ff 95.5px,#009aff 97.5px,#00b1ff 99.5px,#009eff 101.5px,#0096ff 103.5px,#009cff 104.5px,#00cfff 106.5px,#00d7ff 107.5px,#0099ff 115.5px,#009cff 117.5px,#006bff 120.5px,#0040ff 121.5px,#0062ff 122.5px,#0051ff 123.5px,#004bff 124.5px,#002fff 134.5px,#002fff 147.5px,#0044ff 151.5px,#005fff 154.5px,#0056ff 158.5px,#008bff 160.5px,#0091ff 162.5px,#00a1ff 163.5px,#00d6ff 165.5px,#00e5ff 166.5px,#00e3ff 167.5px,#00c0ff 169.5px,#00bdff 170.5px,#00c7ff 173.5px,#00e4ff 175.5px,#00c6ff 180.5px,#00aaff 182.5px,#00a7ff 183.5px,#00b7ff 189.5px,#00d4ff 191.5px,#00d6ff 193.5px,#00eaff 194.5px,#21ffde 195.5px,#78ff87 196.5px,#94ff6b 197.5px,#93ff6c 198.5px,#57ffa8 200.5px,#56ffa9 201.5px,#71ff8e 202.5px,#81ff7e 203.5px,#6dff92 206.5px,#88ff77 208.5px,#75ff8a 210.5px,#76ff89 212.5px,#5bffa4 213.5px,#33ffcc 214.5px,#19ffe6 215.5px,#02fffd 218.5px,#2affd5 220.5px,#3cffc3 222.5px,#5cffa3 224.5px,#5fffa0 225.5px,#4bffb4 226.5px,#2affd5 227.5px,#52ffad 228.5px,#2dffd2 229.5px,#15ffea 230.5px,#00edff 231.5px,#00d9ff 232.5px,#00d8ff 233.5px,#00b9ff 235.5px,#00c5ff 237.5px,#00afff 240.5px,#00b1ff 243.5px,#0098ff 245.5px,#008cff 247.5px,#009cff 251.5px,#00faff 264.5px,#02fffd 265.5px,#1cffe3 266.5px,#e5ff1a 270.5px,#ffee00 271.5px,#ffa500 273.5px,#ff7400 275.5px,#ff6200 277.5px,#ff5800 280.5px)"></div>
<div class="r" style="top:210px;background:linear-gradient(90deg,#ff8700 0.5px,#ff7c00 6.5px,#ff8300 9.5px,#ffa300 12.5px,#ffb700 13.5px,#ffdd00 14.5px,#f1ff0e 15.5px,#0cfff3 19.5px,#00faff 21.5px,#00aeff 31.5px,#00a1ff 37.5px,#00a2ff 38.5px,#00bcff 40.5px,#00d5ff 45.5px,#04fffb 47.5px,#1cffe3 48.5px,#20ffdf 49.5px,#00f7ff 50.5px,#36ffc9 52.5px,#46ffb9 53.5px,#31ffce 55.5px,#30ffcf 56.5px,#38ffc7 57.5px,#5dffa2 59.5px,#75ff8a 62.5px,#5cffa3 64.5px,#49ffb6 69.5px,#22ffdd 73.5px,#2cffd3 74.5px,#59ffa6 76.5px,#63ff9c 77.5px,#60ff9f 79.5px,#80ff7f 81.5px,#6cff93 84.5px,#6eff91 85.5px,#7eff81 86.5px,#18ffe7 87.5px,#00ffff 88.5px,#00eeff 89.5px,#00d1ff 90.5px,#00c5ff 91.5px,#00bfff 93.5px,#00c6ff 95.5px,#00a3ff 97.5px,#00a4ff 98.5px,#00b0ff 99.5px,#0096ff 103.5px,#0098ff 104.5px,#00d2ff 106.5px,#00e0ff 107.5px,#00b5ff 110.5px,#00b7ff 112.5px,#00a5ff 114.5px,#00b2ff 117.5px,#00a8ff 118.5px,#00a9ff 120.5px,#008fff 121.5px,#0066ff 122.5px,#006bff 123.5px,#0059ff 125.5px,#0050ff 131.5px,#003fff 134.5px,#0032ff 142.5px,#0039ff 147.5px,#005aff 150.5px,#0077ff 154.5px,#0069ff 158.5px,#0091ff 159.5px,#00a5ff 160.5px,#009dff 162.5px,#00a6ff 163.5px,#00d7ff 165.5px,#00dcff 166.5px,#00bdff 169.5px,#00beff 172.5px,#00cdff 173.5px,#00edff 174.5px,#01fffe 175.5px,#00fbff 176.5px,#00d8ff 178.5px,#00d2ff 179.5px,#00b3ff 181.5px,#009eff 184.5px,#009eff 185.5px,#00b0ff 187.5px,#00b7ff 189.5px,#00faff 192.5px,#00f8ff 193.5px,#29ffd6 194.5px,#61ff9e 195.5px,#a1ff5e 197.5px,#9fff60 198.5px,#5fffa0 200.5px,#79ff86 203.5px,#53ffac 206.5px,#70ff8f 208.5px,#78ff87 211.5px,#74ff8b 212.5px,#3fffc0 214.5px,#31ffce 215.5px,#23ffdc 218.5px,#46ffb9 222.5px,#67ff98 224.5px,#6cff93 225.5px,#46ffb9 227.5px,#43ffbc 229.5px,#2cffd3 230.5px,#3cffc3 231.5px,#0bfff4 232.5px,#07fff8 233.5px,#00f5ff 234.5px,#00daff 235.5px,#00cbff 236.5px,#00caff 237.5px,#00b6ff 239.5px,#00bcff 243.5px,#009fff 246.5px,#00a8ff 249.5px,#00feff 260.5px,#07fff8 261.5px,#1fffe0 262.5px,#d1ff2e 265.5px,#fff900 266.5px,#ffa600 268.5px,#ff8700 269.5px,#ff7500 270.5px,#ff6400 272.5px,#ff5e00 274.5px,#ff6700 280.5px)"></div>
<div class="r" style="top:211px;background:linear-gradient(90deg,#ffa100 0.5px,#ff8500 10.5px,#ff8300 14.5px,#ff9100 16.5px,#ffa800 17.5px,#ffd700 18.5px,#efff10 19.5px,#19ffe6 22.5px,#00ffff 24.5px,#00c6ff 31.5px,#00afff 36.5px,#00b7ff 38.5px,#00cdff 40.5px,#00caff 43.5px,#00faff 46.5px,#29ffd6 47.5px,#20ffdf 48.5px,#3effc1 49.5px,#40ffbf 51.5px,#60ff9f 53.5px,#4affb5 56.5px,#4fffb0 57.5px,#6dff92 59.5px,#73ff8c 61.5px,#7eff81 62.5px,#7dff82 63.5px,#58ffa7 66.5px,#44ffbb 71.5px,#20ffdf 73.5px,#21ffde 74.5px,#4dffb2 77.5px,#75ff8a 81.5px,#5cffa3 83.5px,#64ff9b 84.5px,#90ff6f 86.5px,#99ff66 87.5px,#22ffdd 88.5px,#00f7ff 89.5px,#00d7ff 90.5px,#00c5ff 91.5px,#00cbff 93.5px,#00dfff 95.5px,#00b3ff 97.5px,#00b5ff 100.5px,#009fff 102.5px,#00a8ff 104.5px,#00daff 106.5px,#00e8ff 107.5px,#00e3ff 108.5px,#00b7ff 110.5px,#00b1ff 114.5px,#00b4ff 115.5px,#00dfff 120.5px,#00c9ff 121.5px,#0087ff 123.5px,#0076ff 124.5px,#0073ff 131.5px,#0059ff 134.5px,#0045ff 140.5px,#0043ff 143.5px,#0050ff 147.5px,#0059ff 148.5px,#007dff 150.5px,#0095ff 154.5px,#008cff 156.5px,#007eff 157.5px,#00c7ff 160.5px,#00c2ff 163.5px,#00deff 165.5px,#00bcff 170.5px,#00c1ff 171.5px,#00dfff 173.5px,#06fff9 174.5px,#1fffe0 175.5px,#1cffe3 176.5px,#08fff7 177.5px,#00efff 178.5px,#0091ff 184.5px,#0093ff 185.5px,#00b1ff 189.5px,#00c6ff 190.5px,#00f6ff 191.5px,#17ffe8 192.5px,#6dff92 194.5px,#a9ff56 196.5px,#beff41 197.5px,#b7ff48 198.5px,#98ff67 199.5px,#84ff7b 200.5px,#8cff73 202.5px,#59ffa6 206.5px,#5affa5 207.5px,#88ff77 211.5px,#89ff76 212.5px,#5fffa0 214.5px,#4dffb2 217.5px,#52ffad 219.5px,#47ffb8 221.5px,#82ff7d 225.5px,#51ffae 227.5px,#41ffbe 228.5px,#32ffcd 230.5px,#00f8ff 232.5px,#00d3ff 233.5px,#20ffdf 234.5px,#01fffe 235.5px,#00c9ff 237.5px,#00b6ff 238.5px,#00aeff 239.5px,#00c4ff 243.5px,#00b0ff 245.5px,#00b4ff 247.5px,#00faff 256.5px,#0cfff3 258.5px,#36ffc9 259.5px,#c7ff38 261.5px,#fff700 262.5px,#ffc300 263.5px,#ff9900 264.5px,#ff7800 265.5px,#ff6a00 266.5px,#ff6800 271.5px,#ff8100 280.5px)"></div>
<div class="r" style="top:212px;background:linear-gradient(90deg,#ffb800 0.5px,#ff9b00 11.5px,#ff7900 17.5px,#ff7a00 19.5px,#ff8d00 20.5px,#ffbe00 21.5px,#fffd00 22.5px,#14ffeb 25.5px,#00f9ff 28.5px,#00bcff 35.5px,#00d4ff 40.5px,#00cdff 42.5px,#00d7ff 43.5px,#08fff7 45.5px,#00fcff 46.5px,#0cfff3 47.5px,#46ffb9 49.5px,#53ffac 50.5px,#51ffae 51.5px,#63ff9c 53.5px,#54ffab 59.5px,#66ff99 61.5px,#86ff79 63.5px,#7fff80 64.5px,#5fffa0 66.5px,#4fffb0 69.5px,#4effb1 71.5px,#28ffd7 73.5px,#20ffdf 74.5px,#2affd5 76.5px,#64ff9b 78.5px,#7eff81 81.5px,#6fff90 83.5px,#79ff86 84.5px,#9fff60 86.5px,#9cff63 87.5px,#88ff77 88.5px,#00f5ff 89.5px,#00c2ff 91.5px,#00f1ff 94.5px,#00f5ff 95.5px,#00c5ff 97.5px,#00c2ff 98.5px,#00ceff 99.5px,#00cbff 100.5px,#00adff 102.5px,#00b0ff 103.5px,#00bdff 104.5px,#00eeff 106.5px,#00ffff 107.5px,#00fcff 108.5px,#00c4ff 110.5px,#00b6ff 111.5px,#00c8ff 114.5px,#00c6ff 115.5px,#00eeff 118.5px,#00f5ff 120.5px,#00d4ff 122.5px,#00bbff 123.5px,#0093ff 124.5px,#008eff 128.5px,#00a5ff 131.5px,#0081ff 133.5px,#0079ff 136.5px,#005dff 140.5px,#0060ff 144.5px,#007fff 148.5px,#00a2ff 150.5px,#00bcff 154.5px,#00b0ff 156.5px,#00b6ff 157.5px,#00b2ff 158.5px,#00f4ff 161.5px,#00f5ff 162.5px,#00ebff 163.5px,#00f0ff 165.5px,#00e8ff 168.5px,#00d7ff 170.5px,#00efff 172.5px,#05fffa 173.5px,#27ffd8 174.5px,#3bffc4 175.5px,#3bffc4 176.5px,#27ffd8 177.5px,#0afff5 178.5px,#00f2ff 179.5px,#00c1ff 182.5px,#00a4ff 183.5px,#0094ff 184.5px,#009fff 187.5px,#00afff 189.5px,#00caff 190.5px,#00f9ff 191.5px,#78ff87 193.5px,#b6ff49 195.5px,#cdff32 196.5px,#daff25 197.5px,#d3ff2c 198.5px,#b2ff4d 200.5px,#b0ff4f 202.5px,#8bff74 204.5px,#71ff8e 207.5px,#74ff8b 208.5px,#94ff6b 211.5px,#94ff6b 212.5px,#78ff87 214.5px,#7bff84 215.5px,#6cff93 217.5px,#6eff91 219.5px,#53ffac 221.5px,#5bffa4 222.5px,#87ff78 224.5px,#8eff71 225.5px,#6eff91 226.5px,#44ffbb 227.5px,#2fffd0 228.5px,#3affc5 230.5px,#29ffd6 231.5px,#08fff7 232.5px,#00f4ff 233.5px,#00e6ff 234.5px,#00beff 235.5px,#00f8ff 236.5px,#00c2ff 238.5px,#00b0ff 239.5px,#00b0ff 240.5px,#00cbff 243.5px,#00bcff 245.5px,#00c1ff 246.5px,#00fdff 253.5px,#0ffff0 255.5px,#33ffcc 256.5px,#d4ff2b 258.5px,#ffe200 259.5px,#ffa900 260.5px,#ff7d00 261.5px,#ff5d00 262.5px,#ff5e00 264.5px,#ff8100 271.5px,#ff9800 280.5px)"></div>
<div class="r" style="top:213px;background:linear-gradient(90deg,#ffca00 0.5px,#ffb300 12.5px,#ff7300 20.5px,#ff6e00 22.5px,#ff8700 23.5px,#ffbe00 24.5px,#fbff04 25.5px,#4effb1 27.5px,#15ffea 28.5px,#00ffff 30.5px,#00f5ff 31.5px,#00c8ff 35.5px,#00c9ff 36.5px,#00dbff 38.5px,#00e1ff 42.5px,#00eeff 43.5px,#00e6ff 44.5px,#13ffec 45.5px,#44ffbb 49.5px,#4dffb2 51.5px,#71ff8e 55.5px,#71ff8e 56.5px,#4cffb3 58.5px,#43ffbc 59.5px,#49ffb6 60.5px,#56ffa9 61.5px,#88ff77 63.5px,#82ff7d 64.5px,#5effa1 66.5px,#4fffb0 69.5px,#52ffad 71.5px,#2fffd0 74.5px,#31ffce 76.5px,#7aff85 78.5px,#9cff63 82.5px,#9dff62 84.5px,#afff50 86.5px,#abff54 87.5px,#8bff74 88.5px,#5fffa0 89.5px,#00e3ff 90.5px,#00ccff 91.5px,#00d7ff 92.5px,#00feff 94.5px,#02fffd 95.5px,#00d3ff 97.5px,#00d4ff 98.5px,#00e0ff 99.5px,#00dcff 100.5px,#00c2ff 102.5px,#00c1ff 103.5px,#00ccff 104.5px,#00e7ff 105.5px,#0afff5 106.5px,#1fffe0 107.5px,#18ffe7 108.5px,#00f9ff 109.5px,#00d5ff 110.5px,#00c4ff 111.5px,#00e5ff 114.5px,#00e0ff 115.5px,#00e5ff 116.5px,#00f9ff 117.5px,#00ffff 119.5px,#00f0ff 122.5px,#00e4ff 123.5px,#00c8ff 124.5px,#00b7ff 125.5px,#00a9ff 127.5px,#00a9ff 128.5px,#00dbff 131.5px,#00ceff 132.5px,#00b1ff 133.5px,#00a5ff 134.5px,#00a7ff 136.5px,#0080ff 139.5px,#007aff 140.5px,#008cff 142.5px,#0086ff 143.5px,#008aff 144.5px,#00a9ff 146.5px,#00b4ff 148.5px,#00eeff 153.5px,#00efff 154.5px,#00d8ff 156.5px,#00ddff 157.5px,#00d5ff 158.5px,#00daff 159.5px,#00f3ff 160.5px,#12ffed 161.5px,#21ffde 162.5px,#0afff5 164.5px,#0afff5 167.5px,#11ffee 168.5px,#05fffa 170.5px,#08fff7 171.5px,#23ffdc 173.5px,#3fffc0 174.5px,#4dffb2 175.5px,#4affb5 176.5px,#3affc5 177.5px,#07fff8 179.5px,#00d4ff 182.5px,#00b8ff 183.5px,#00a9ff 184.5px,#00a8ff 187.5px,#00b8ff 189.5px,#00d3ff 190.5px,#02fffd 191.5px,#60ff9f 192.5px,#b3ff4c 194.5px,#e1ff1e 196.5px,#edff12 197.5px,#e7ff18 198.5px,#c9ff36 200.5px,#d1ff2e 202.5px,#a8ff57 205.5px,#91ff6e 208.5px,#92ff6d 211.5px,#7cff83 213.5px,#7cff83 214.5px,#86ff79 215.5px,#81ff7e 216.5px,#66ff99 218.5px,#55ffaa 221.5px,#62ff9d 222.5px,#93ff6c 224.5px,#92ff6d 225.5px,#6eff91 226.5px,#3fffc0 227.5px,#2bffd4 228.5px,#48ffb7 230.5px,#3bffc4 231.5px,#22ffdd 232.5px,#00fcff 234.5px,#00edff 235.5px,#00e8ff 236.5px,#07fff8 237.5px,#00e4ff 238.5px,#00cfff 240.5px,#00d1ff 243.5px,#00c8ff 245.5px,#00f9ff 250.5px,#1affe5 253.5px,#cbff34 255.5px,#ffe600 256.5px,#ffa600 257.5px,#ff7600 258.5px,#ff5400 259.5px,#ff5900 261.5px,#ff8400 266.5px,#ff9600 269.5px,#ffab00 280.5px)"></div>
<div class="r" style="top:214px;background:linear-gradient(90deg,#ffd700 0.5px,#ffc600 13.5px,#ffab00 17.5px,#ff7200 23.5px,#ff6b00 25.5px,#ff8f00 26.5px,#ffce00 27.5px,#ddff22 28.5px,#1cffe3 30.5px,#04fffb 32.5px,#00f7ff 33.5px,#00d6ff 35.5px,#00d4ff 36.5px,#00edff 38.5px,#03fffc 41.5px,#14ffeb 42.5px,#0ffff0 43.5px,#56ffa9 47.5px,#5cffa3 48.5px,#4effb1 51.5px,#58ffa7 52.5px,#7cff83 54.5px,#81ff7e 55.5px,#7bff84 56.5px,#54ffab 59.5px,#4fffb0 60.5px,#51ffae 61.5px,#78ff87 63.5px,#6fff90 64.5px,#5affa5 65.5px,#56ffa9 66.5px,#59ffa6 68.5px,#50ffaf 70.5px,#58ffa7 71.5px,#52ffad 73.5px,#5bffa4 76.5px,#8fff70 78.5px,#95ff6a 80.5px,#c3ff3c 83.5px,#b7ff48 85.5px,#bbff44 87.5px,#75ff8a 89.5px,#02fffd 90.5px,#00d6ff 91.5px,#00d6ff 92.5px,#00f9ff 94.5px,#01fffe 95.5px,#00daff 97.5px,#00e7ff 99.5px,#00e2ff 100.5px,#00c0ff 103.5px,#00d0ff 104.5px,#00f3ff 105.5px,#1affe5 106.5px,#2cffd3 107.5px,#1cffe3 108.5px,#00fcff 109.5px,#00e1ff 110.5px,#00daff 111.5px,#01fffe 114.5px,#00f8ff 116.5px,#0efff1 118.5px,#00f5ff 121.5px,#04fffb 123.5px,#00f0ff 124.5px,#00d6ff 125.5px,#00c6ff 127.5px,#00d0ff 128.5px,#00f8ff 130.5px,#09fff6 132.5px,#00deff 134.5px,#00d2ff 136.5px,#009aff 140.5px,#00b4ff 142.5px,#00b7ff 143.5px,#00ebff 146.5px,#02fffd 150.5px,#31ffce 153.5px,#2dffd2 154.5px,#10ffef 155.5px,#00efff 156.5px,#00f3ff 159.5px,#00ffff 160.5px,#27ffd8 162.5px,#26ffd9 167.5px,#37ffc8 169.5px,#2effd1 170.5px,#31ffce 173.5px,#5bffa4 175.5px,#59ffa6 176.5px,#3cffc3 178.5px,#03fffc 180.5px,#00ddff 183.5px,#00bcff 185.5px,#00b5ff 187.5px,#00b8ff 188.5px,#00cbff 189.5px,#00ecff 190.5px,#41ffbe 191.5px,#a0ff5f 193.5px,#c3ff3c 194.5px,#f7ff08 196.5px,#fffc00 197.5px,#f5ff0a 198.5px,#ddff22 199.5px,#d0ff2f 200.5px,#e9ff16 202.5px,#e9ff16 203.5px,#b9ff46 207.5px,#94ff6b 209.5px,#8fff70 211.5px,#7dff82 213.5px,#83ff7c 215.5px,#77ff88 216.5px,#50ffaf 218.5px,#3fffc0 220.5px,#45ffba 221.5px,#8cff73 224.5px,#92ff6d 225.5px,#7aff85 226.5px,#4bffb4 227.5px,#2cffd3 228.5px,#4effb1 231.5px,#3affc5 233.5px,#10ffef 235.5px,#0efff1 237.5px,#00f4ff 238.5px,#04fffb 239.5px,#00e0ff 242.5px,#00d5ff 245.5px,#00ffff 248.5px,#14ffeb 250.5px,#42ffbd 251.5px,#fffd00 253.5px,#ffb200 254.5px,#ff7b00 255.5px,#ff5500 256.5px,#ff5100 257.5px,#ff9000 264.5px,#ffa900 268.5px,#ffb700 280.5px)"></div>
<div class="r" style="top:215px;background:linear-gradient(90deg,#ffde00 0.5px,#ffd600 13.5px,#ffb900 18.5px,#ff7e00 25.5px,#ff7300 28.5px,#ffab00 29.5px,#fffb00 30.5px,#3bffc4 32.5px,#11ffee 33.5px,#00ffff 34.5px,#00eeff 35.5px,#00edff 36.5px,#00f6ff 37.5px,#07fff8 38.5px,#1dffe2 40.5px,#0ffff0 41.5px,#28ffd7 42.5px,#45ffba 44.5px,#89ff76 47.5px,#8aff75 48.5px,#5fffa0 50.5px,#5dffa2 51.5px,#65ff9a 52.5px,#85ff7a 54.5px,#86ff79 55.5px,#6bff94 57.5px,#63ff9c 59.5px,#4fffb0 61.5px,#5effa1 63.5px,#53ffac 65.5px,#5bffa4 67.5px,#58ffa7 69.5px,#72ff8d 73.5px,#a1ff5e 78.5px,#9dff62 80.5px,#abff54 81.5px,#d5ff2a 83.5px,#c1ff3e 85.5px,#baff45 87.5px,#9fff60 88.5px,#5bffa4 90.5px,#00deff 91.5px,#00d2ff 92.5px,#00d1ff 93.5px,#00f8ff 95.5px,#00dfff 97.5px,#00dcff 99.5px,#00bdff 102.5px,#00bbff 103.5px,#00d3ff 104.5px,#00f8ff 105.5px,#16ffe9 106.5px,#1bffe4 107.5px,#06fff9 108.5px,#00f2ff 109.5px,#00efff 110.5px,#00fdff 112.5px,#07fff8 114.5px,#03fffc 116.5px,#16ffe9 118.5px,#00f8ff 120.5px,#00f5ff 121.5px,#13ffec 123.5px,#01fffe 124.5px,#00e1ff 125.5px,#00e0ff 126.5px,#00eeff 127.5px,#03fffc 128.5px,#3cffc3 132.5px,#32ffcd 133.5px,#02fffd 135.5px,#00f9ff 137.5px,#00fbff 143.5px,#02fffd 144.5px,#15ffea 145.5px,#1dffe2 148.5px,#5dffa2 152.5px,#67ff98 153.5px,#5fffa0 154.5px,#09fff6 156.5px,#02fffd 157.5px,#0ffff0 161.5px,#38ffc7 165.5px,#47ffb8 168.5px,#37ffc8 173.5px,#61ff9e 175.5px,#64ff9b 176.5px,#4cffb3 178.5px,#00feff 181.5px,#00f7ff 183.5px,#00d1ff 185.5px,#00c0ff 187.5px,#00c7ff 188.5px,#00e5ff 189.5px,#14ffeb 190.5px,#74ff8b 191.5px,#f1ff0e 195.5px,#ffe800 196.5px,#ffd900 197.5px,#ffed00 198.5px,#f2ff0d 199.5px,#e4ff1b 200.5px,#fffe00 202.5px,#f6ff09 204.5px,#c9ff36 207.5px,#9cff63 209.5px,#9fff60 211.5px,#99ff66 212.5px,#89ff76 213.5px,#7fff80 215.5px,#56ffa9 217.5px,#28ffd7 220.5px,#2effd1 221.5px,#86ff79 225.5px,#81ff7e 226.5px,#21ffde 228.5px,#22ffdd 229.5px,#66ff99 231.5px,#74ff8b 232.5px,#66ff99 233.5px,#47ffb8 234.5px,#35ffca 235.5px,#34ffcb 237.5px,#25ffda 239.5px,#2bffd4 240.5px,#09fff6 241.5px,#00feff 242.5px,#00f0ff 244.5px,#00efff 245.5px,#00f8ff 246.5px,#19ffe6 248.5px,#64ff9b 249.5px,#c9ff36 250.5px,#ffd900 251.5px,#ff9200 252.5px,#ff6000 253.5px,#ff5900 254.5px,#ff9d00 263.5px,#ffb500 267.5px,#ffbf00 280.5px)"></div>
<div class="r" style="top:216px;background:linear-gradient(90deg,#ffe200 0.5px,#ffdd00 13.5px,#ffcb00 17.5px,#ff9700 25.5px,#ff8d00 28.5px,#ff9300 31.5px,#ffdf00 32.5px,#abff54 33.5px,#2affd5 34.5px,#4affb5 36.5px,#30ffcf 38.5px,#40ffbf 39.5px,#2affd5 40.5px,#2affd5 41.5px,#35ffca 42.5px,#4bffb4 43.5px,#a2ff5d 46.5px,#b4ff4b 47.5px,#a9ff56 48.5px,#75ff8a 50.5px,#6dff92 52.5px,#7bff84 54.5px,#7aff85 55.5px,#58ffa7 57.5px,#52ffad 59.5px,#3dffc2 61.5px,#3bffc4 62.5px,#5effa1 65.5px,#64ff9b 66.5px,#5effa1 68.5px,#6bff94 70.5px,#82ff7d 72.5px,#83ff7c 73.5px,#b9ff46 77.5px,#b1ff4e 80.5px,#d1ff2e 83.5px,#b5ff4a 86.5px,#b3ff4c 87.5px,#a3ff5c 88.5px,#7eff81 89.5px,#67ff98 90.5px,#00ecff 91.5px,#00d0ff 93.5px,#00d6ff 94.5px,#00ebff 95.5px,#00e6ff 98.5px,#00c4ff 100.5px,#00c0ff 101.5px,#00c1ff 102.5px,#04fffb 106.5px,#00f3ff 109.5px,#01fffe 110.5px,#15ffea 111.5px,#1cffe3 112.5px,#03fffc 114.5px,#15ffea 118.5px,#10ffef 119.5px,#00fdff 120.5px,#0efff1 123.5px,#00f9ff 124.5px,#00e4ff 125.5px,#00fcff 126.5px,#24ffdb 127.5px,#3cffc3 128.5px,#46ffb9 129.5px,#93ff6c 133.5px,#b7ff48 136.5px,#caff35 140.5px,#c3ff3c 143.5px,#b4ff4b 145.5px,#6eff91 150.5px,#84ff7b 153.5px,#79ff86 154.5px,#29ffd6 156.5px,#22ffdd 157.5px,#26ffd9 159.5px,#14ffeb 161.5px,#15ffea 162.5px,#49ffb6 166.5px,#4dffb2 167.5px,#3affc5 169.5px,#37ffc8 172.5px,#3cffc3 173.5px,#58ffa7 175.5px,#5cffa3 176.5px,#56ffa9 177.5px,#03fffc 181.5px,#00f5ff 183.5px,#00cdff 187.5px,#00deff 188.5px,#03fffc 189.5px,#57ffa8 190.5px,#7dff82 191.5px,#d3ff2c 194.5px,#fbff04 195.5px,#ffd600 196.5px,#ffc600 197.5px,#ffff00 199.5px,#f8ff07 200.5px,#fffa00 201.5px,#ffed00 202.5px,#fff000 203.5px,#fdff02 204.5px,#a1ff5e 209.5px,#9fff60 210.5px,#aaff55 211.5px,#a5ff5a 212.5px,#7dff82 214.5px,#57ffa8 218.5px,#30ffcf 220.5px,#26ffd9 221.5px,#35ffca 223.5px,#47ffb8 224.5px,#6cff93 225.5px,#74ff8b 226.5px,#16ffe9 228.5px,#1bffe4 229.5px,#7aff85 231.5px,#8eff71 232.5px,#84ff7b 233.5px,#5dffa2 235.5px,#27ffd8 240.5px,#12ffed 241.5px,#2cffd3 242.5px,#32ffcd 243.5px,#4affb5 244.5px,#4affb5 245.5px,#33ffcc 246.5px,#4effb1 247.5px,#e0ff1f 248.5px,#ffbd00 249.5px,#ff7c00 250.5px,#ff7000 253.5px,#ff7b00 256.5px,#ffbd00 267.5px,#ffc300 280.5px)"></div>
<div class="r" style="top:217px;background:linear-gradient(90deg,#ffe300 0.5px,#ffdf00 13.5px,#ff9d00 25.5px,#ff9400 28.5px,#ff9c00 30.5px,#ffa900 31.5px,#ffc100 32.5px,#ffef00 33.5px,#a7ff58 34.5px,#92ff6d 35.5px,#bcff43 36.5px,#92ff6d 37.5px,#4affb5 38.5px,#1fffe0 40.5px,#1fffe0 41.5px,#31ffce 42.5px,#c3ff3c 46.5px,#d0ff2f 47.5px,#89ff76 50.5px,#66ff99 53.5px,#57ffa8 55.5px,#3bffc4 57.5px,#17ffe8 61.5px,#1cffe3 62.5px,#31ffce 63.5px,#71ff8e 65.5px,#78ff87 66.5px,#62ff9d 68.5px,#90ff6f 73.5px,#d6ff29 77.5px,#d8ff27 78.5px,#cfff30 79.5px,#d8ff27 81.5px,#a4ff5b 88.5px,#67ff98 90.5px,#14ffeb 91.5px,#00f5ff 92.5px,#00d7ff 94.5px,#00faff 98.5px,#00d5ff 100.5px,#00d2ff 101.5px,#00f3ff 103.5px,#00ebff 105.5px,#00feff 107.5px,#04fffb 109.5px,#22ffdd 111.5px,#28ffd7 112.5px,#0ffff0 114.5px,#1dffe2 116.5px,#0ffff0 120.5px,#17ffe8 122.5px,#00faff 124.5px,#00f6ff 125.5px,#25ffda 126.5px,#54ffab 127.5px,#b3ff4c 130.5px,#faff05 133.5px,#fff200 134.5px,#ffcc00 137.5px,#ffbe00 140.5px,#ffc700 143.5px,#ffdb00 145.5px,#fff900 147.5px,#dcff23 149.5px,#8aff75 152.5px,#7fff80 154.5px,#45ffba 156.5px,#46ffb9 158.5px,#16ffe9 161.5px,#1effe1 162.5px,#31ffce 163.5px,#3dffc2 165.5px,#53ffac 167.5px,#30ffcf 169.5px,#2effd1 170.5px,#30ffcf 173.5px,#41ffbe 175.5px,#3fffc0 177.5px,#19ffe6 179.5px,#00ffff 181.5px,#00e5ff 184.5px,#00ecff 187.5px,#00f9ff 188.5px,#11ffee 189.5px,#54ffab 190.5px,#80ff7f 192.5px,#9eff61 193.5px,#f2ff0d 195.5px,#ffe300 196.5px,#ffd800 197.5px,#fff400 198.5px,#f5ff0a 199.5px,#fffb00 201.5px,#fff000 202.5px,#fff400 203.5px,#f3ff0c 204.5px,#daff25 205.5px,#a0ff5f 209.5px,#99ff66 210.5px,#9eff61 212.5px,#75ff8a 214.5px,#6bff94 219.5px,#36ffc9 221.5px,#2effd1 222.5px,#2affd5 223.5px,#32ffcd 224.5px,#52ffad 225.5px,#5bffa4 226.5px,#17ffe8 228.5px,#1fffe0 229.5px,#4dffb2 230.5px,#70ff8f 231.5px,#87ff78 233.5px,#85ff7a 234.5px,#3dffc2 238.5px,#31ffce 239.5px,#2cffd3 241.5px,#34ffcb 242.5px,#b1ff4e 244.5px,#baff45 245.5px,#78ff87 246.5px,#efff10 247.5px,#ffbd00 248.5px,#ff9900 249.5px,#ff8500 250.5px,#ff7b00 251.5px,#ff7600 253.5px,#ff8000 256.5px,#ffbf00 267.5px,#ffc400 280.5px)"></div>
<div class="r" style="top:218px;background:linear-gradient(90deg,#ffe200 0.5px,#ffde00 13.5px,#ff9200 27.5px,#ff9900 31.5px,#ffba00 32.5px,#d9ff26 33.5px,#3affc5 34.5px,#66ff99 36.5px,#40ffbf 38.5px,#0afff5 39.5px,#0afff5 41.5px,#20ffdf 42.5px,#c4ff3b 46.5px,#d3ff2c 47.5px,#c0ff3f 48.5px,#9cff63 49.5px,#84ff7b 50.5px,#5cffa3 52.5px,#21ffde 54.5px,#1bffe4 57.5px,#03fffc 59.5px,#00f7ff 60.5px,#00f5ff 61.5px,#06fff9 62.5px,#2bffd4 63.5px,#5fffa0 64.5px,#88ff77 65.5px,#91ff6e 66.5px,#6aff95 68.5px,#6dff92 69.5px,#a7ff58 73.5px,#feff01 78.5px,#fffc00 81.5px,#bfff40 85.5px,#a5ff5a 88.5px,#6eff91 90.5px,#0efff1 91.5px,#00fdff 92.5px,#00ddff 94.5px,#02fffd 97.5px,#07fff8 98.5px,#00ffff 99.5px,#00eeff 101.5px,#07fff8 103.5px,#00ecff 105.5px,#00f2ff 106.5px,#03fffc 107.5px,#1bffe4 111.5px,#11ffee 113.5px,#32ffcd 116.5px,#20ffdf 118.5px,#35ffca 122.5px,#0cfff3 124.5px,#07fff8 125.5px,#62ff9d 127.5px,#5effa1 129.5px,#a1ff5e 132.5px,#cfff30 135.5px,#e9ff16 138.5px,#efff10 140.5px,#e6ff19 143.5px,#d6ff29 145.5px,#acff53 148.5px,#6dff92 151.5px,#68ff97 152.5px,#71ff8e 154.5px,#4fffb0 156.5px,#4affb5 157.5px,#1cffe3 160.5px,#19ffe6 161.5px,#3dffc2 163.5px,#3fffc0 164.5px,#37ffc8 165.5px,#50ffaf 167.5px,#49ffb6 168.5px,#34ffcb 169.5px,#23ffdc 171.5px,#13ffec 172.5px,#0efff1 173.5px,#23ffdc 175.5px,#1cffe3 177.5px,#00ffff 180.5px,#00f3ff 183.5px,#00f4ff 185.5px,#00e5ff 187.5px,#00f0ff 189.5px,#38ffc7 190.5px,#66ff99 191.5px,#8fff70 193.5px,#ebff14 195.5px,#fff000 196.5px,#ffe600 197.5px,#fffb00 198.5px,#f7ff08 199.5px,#fff800 202.5px,#fffd00 203.5px,#d2ff2d 205.5px,#d6ff29 207.5px,#caff35 208.5px,#99ff66 210.5px,#94ff6b 212.5px,#78ff87 214.5px,#88ff77 216.5px,#87ff78 217.5px,#76ff89 219.5px,#40ffbf 221.5px,#33ffcc 223.5px,#36ffc9 224.5px,#47ffb8 225.5px,#48ffb7 226.5px,#20ffdf 228.5px,#20ffdf 229.5px,#3affc5 230.5px,#59ffa6 232.5px,#70ff8f 233.5px,#79ff86 234.5px,#29ffd6 238.5px,#21ffde 239.5px,#26ffd9 241.5px,#42ffbd 242.5px,#42ffbd 243.5px,#63ff9c 244.5px,#66ff99 245.5px,#44ffbb 246.5px,#7dff82 247.5px,#fff300 248.5px,#ff9c00 249.5px,#ff8000 250.5px,#ff7300 253.5px,#ff7d00 256.5px,#ffbd00 267.5px,#ffc300 280.5px)"></div>
<div class="r" style="top:219px;background:linear-gradient(90deg,#ffdf00 0.5px,#ffd800 13.5px,#ffbc00 18.5px,#ff7e00 26.5px,#ff7700 28.5px,#ff8d00 29.5px,#ffd300 30.5px,#d1ff2e 31.5px,#69ff96 32.5px,#16ffe9 33.5px,#06fff9 34.5px,#00f4ff 35.5px,#04fffb 37.5px,#33ffcc 40.5px,#00f9ff 41.5px,#0dfff2 42.5px,#a0ff5f 46.5px,#b2ff4d 47.5px,#a4ff5b 48.5px,#5dffa2 50.5px,#29ffd6 52.5px,#05fffa 53.5px,#00e0ff 54.5px,#00ddff 55.5px,#00fcff 57.5px,#00e4ff 60.5px,#00e4ff 61.5px,#01fffe 62.5px,#9bff64 65.5px,#a9ff56 66.5px,#8aff75 68.5px,#84ff7b 69.5px,#8cff73 70.5px,#c4ff3b 73.5px,#f0ff0f 77.5px,#fff300 78.5px,#ffdf00 79.5px,#ffdb00 80.5px,#ffee00 81.5px,#f1ff0e 82.5px,#92ff6d 88.5px,#79ff86 89.5px,#53ffac 90.5px,#00f9ff 91.5px,#00edff 94.5px,#04fffb 97.5px,#09fff6 99.5px,#00f7ff 101.5px,#07fff8 103.5px,#00f6ff 105.5px,#00fbff 107.5px,#0efff1 110.5px,#00feff 113.5px,#2bffd4 115.5px,#32ffcd 116.5px,#27ffd8 119.5px,#2effd1 120.5px,#4effb1 122.5px,#3effc1 123.5px,#1cffe3 124.5px,#09fff6 125.5px,#4dffb2 127.5px,#50ffaf 128.5px,#21ffde 130.5px,#0dfff2 134.5px,#20ffdf 137.5px,#26ffd9 140.5px,#25ffda 143.5px,#12ffed 146.5px,#32ffcd 148.5px,#2fffd0 150.5px,#36ffc9 152.5px,#3cffc3 153.5px,#4fffb0 154.5px,#4effb1 155.5px,#13ffec 158.5px,#0cfff3 159.5px,#33ffcc 163.5px,#35ffca 164.5px,#2dffd2 165.5px,#40ffbf 168.5px,#29ffd6 170.5px,#00fbff 172.5px,#00f6ff 173.5px,#12ffed 175.5px,#00fdff 177.5px,#00efff 179.5px,#00fdff 184.5px,#00f2ff 185.5px,#00caff 187.5px,#00d1ff 189.5px,#00f6ff 190.5px,#6aff95 191.5px,#8dff72 193.5px,#e8ff17 195.5px,#fffa00 196.5px,#fff500 197.5px,#fdff02 198.5px,#f3ff0c 202.5px,#c6ff39 205.5px,#f0ff0f 207.5px,#ebff14 208.5px,#abff54 210.5px,#9dff62 211.5px,#9bff64 212.5px,#86ff79 214.5px,#87ff78 215.5px,#93ff6c 216.5px,#91ff6e 217.5px,#4fffb0 220.5px,#40ffbf 221.5px,#3affc5 224.5px,#41ffbe 225.5px,#1fffe0 229.5px,#23ffdc 230.5px,#4fffb0 233.5px,#53ffac 234.5px,#1bffe4 238.5px,#15ffea 239.5px,#00fcff 240.5px,#1bffe4 241.5px,#00fbff 244.5px,#00fdff 246.5px,#25ffda 248.5px,#94ff6b 249.5px,#f7ff08 250.5px,#ffb400 251.5px,#ff7700 252.5px,#ff5c00 253.5px,#ff6300 255.5px,#ffa100 263.5px,#ffb700 267.5px,#ffc000 280.5px)"></div>
<div class="r" style="top:220px;background:linear-gradient(90deg,#ffd800 0.5px,#ffca00 13.5px,#ffb000 17.5px,#ff7700 23.5px,#ff6b00 25.5px,#ff7500 26.5px,#ffab00 27.5px,#fff500 28.5px,#adff52 29.5px,#49ffb6 30.5px,#14ffeb 31.5px,#00fcff 33.5px,#00d8ff 35.5px,#00d8ff 36.5px,#00fbff 38.5px,#29ffd6 41.5px,#54ffab 42.5px,#1dffe2 43.5px,#54ffab 45.5px,#75ff8a 47.5px,#6dff92 48.5px,#0cfff3 51.5px,#00f6ff 52.5px,#00c5ff 54.5px,#00c6ff 55.5px,#00e4ff 57.5px,#00d4ff 60.5px,#00d9ff 61.5px,#00feff 62.5px,#a3ff5c 65.5px,#beff41 66.5px,#c8ff37 67.5px,#b7ff48 70.5px,#e9ff16 73.5px,#ecff13 74.5px,#dcff23 76.5px,#e3ff1c 77.5px,#faff05 78.5px,#ffed00 79.5px,#ffe800 80.5px,#fbff04 81.5px,#d6ff29 82.5px,#c4ff3b 83.5px,#baff45 85.5px,#aaff55 86.5px,#5fffa0 89.5px,#16ffe9 90.5px,#00d7ff 91.5px,#00ffff 98.5px,#00f1ff 101.5px,#01fffe 104.5px,#00f1ff 108.5px,#00f0ff 112.5px,#00fbff 113.5px,#1effe1 115.5px,#27ffd8 117.5px,#18ffe7 119.5px,#17ffe8 120.5px,#43ffbc 122.5px,#37ffc8 123.5px,#11ffee 124.5px,#00fbff 125.5px,#20ffdf 127.5px,#25ffda 128.5px,#00f8ff 131.5px,#00d4ff 134.5px,#00cdff 137.5px,#00a5ff 139.5px,#00aaff 140.5px,#00e1ff 142.5px,#00ecff 143.5px,#00d7ff 145.5px,#00d9ff 146.5px,#00f2ff 148.5px,#04fffb 151.5px,#0cfff3 153.5px,#24ffdb 154.5px,#26ffd9 155.5px,#0ffff0 156.5px,#00f6ff 158.5px,#00faff 159.5px,#12ffed 161.5px,#0afff5 162.5px,#1bffe4 164.5px,#17ffe8 170.5px,#09fff6 171.5px,#00f1ff 172.5px,#00eeff 173.5px,#01fffe 174.5px,#02fffd 175.5px,#00e7ff 177.5px,#00e4ff 178.5px,#00f8ff 180.5px,#02fffd 184.5px,#00e9ff 185.5px,#00c6ff 186.5px,#00b9ff 187.5px,#00c9ff 189.5px,#00eaff 190.5px,#66ff99 191.5px,#82ff7d 192.5px,#91ff6e 193.5px,#e6ff19 195.5px,#f9ff06 196.5px,#e0ff1f 201.5px,#bdff42 204.5px,#baff45 205.5px,#f3ff0c 207.5px,#f4ff0b 208.5px,#b6ff49 210.5px,#a2ff5d 211.5px,#86ff79 215.5px,#87ff78 217.5px,#43ffbc 220.5px,#4affb5 222.5px,#3bffc4 224.5px,#30ffcf 228.5px,#1bffe4 229.5px,#15ffea 230.5px,#27ffd8 232.5px,#26ffd9 237.5px,#1cffe3 238.5px,#23ffdc 239.5px,#09fff6 241.5px,#00fcff 242.5px,#00dcff 244.5px,#00d6ff 245.5px,#00f6ff 247.5px,#03fffc 248.5px,#19ffe6 250.5px,#71ff8e 251.5px,#d3ff2c 252.5px,#ffd500 253.5px,#ff9300 254.5px,#ff6400 255.5px,#ff5000 256.5px,#ffa800 267.5px,#ffb200 270.5px,#ffb900 280.5px)"></div>
<div class="r" style="top:221px;background:linear-gradient(90deg,#ffcd00 0.5px,#ffb800 12.5px,#ff6c00 22.5px,#ff6f00 23.5px,#ff9c00 24.5px,#ffda00 25.5px,#d7ff28 26.5px,#22ffdd 28.5px,#10ffef 29.5px,#00faff 31.5px,#00ccff 35.5px,#00ceff 36.5px,#00f9ff 39.5px,#1affe5 41.5px,#4bffb4 43.5px,#1bffe4 44.5px,#30ffcf 45.5px,#3effc1 47.5px,#3affc5 48.5px,#07fff8 50.5px,#00f1ff 51.5px,#00dfff 53.5px,#00ccff 54.5px,#00ccff 55.5px,#00ddff 56.5px,#00deff 57.5px,#00cdff 58.5px,#00c7ff 59.5px,#00c8ff 60.5px,#00d5ff 61.5px,#00feff 62.5px,#a3ff5c 65.5px,#e7ff18 67.5px,#f2ff0d 68.5px,#e4ff1b 70.5px,#e9ff16 71.5px,#ffff00 72.5px,#ffe900 73.5px,#ffe900 74.5px,#feff01 75.5px,#e4ff1b 76.5px,#dbff24 77.5px,#deff21 80.5px,#aeff51 82.5px,#a1ff5e 83.5px,#adff52 85.5px,#a5ff5a 86.5px,#6fff90 88.5px,#4bffb4 89.5px,#00eaff 90.5px,#00ccff 91.5px,#00d6ff 95.5px,#00f0ff 98.5px,#00e5ff 100.5px,#00f4ff 102.5px,#00f7ff 105.5px,#00d9ff 110.5px,#00dfff 111.5px,#07fff8 113.5px,#17ffe8 117.5px,#01fffe 119.5px,#00f9ff 120.5px,#18ffe7 122.5px,#0dfff2 123.5px,#00f0ff 124.5px,#00e0ff 125.5px,#00dfff 130.5px,#00d9ff 131.5px,#0095ff 135.5px,#0083ff 139.5px,#0088ff 140.5px,#00a4ff 142.5px,#00a7ff 143.5px,#0095ff 145.5px,#0096ff 146.5px,#00b1ff 149.5px,#00dbff 151.5px,#00e2ff 153.5px,#00f3ff 154.5px,#00f5ff 155.5px,#00ebff 156.5px,#06fff9 160.5px,#00f9ff 161.5px,#00e4ff 162.5px,#00e9ff 163.5px,#00fcff 164.5px,#00feff 165.5px,#00efff 167.5px,#00efff 170.5px,#00e1ff 172.5px,#00dfff 173.5px,#00e8ff 174.5px,#00d1ff 177.5px,#00f8ff 180.5px,#00eeff 182.5px,#00fbff 184.5px,#00c2ff 186.5px,#00baff 187.5px,#00cdff 189.5px,#00eeff 190.5px,#25ffda 191.5px,#94ff6b 192.5px,#9cff63 193.5px,#daff25 195.5px,#efff10 198.5px,#edff12 199.5px,#c2ff3d 201.5px,#b7ff48 202.5px,#b0ff4f 204.5px,#b7ff48 205.5px,#eaff15 207.5px,#ecff13 208.5px,#d1ff2e 209.5px,#a7ff58 210.5px,#88ff77 211.5px,#75ff8a 214.5px,#77ff88 217.5px,#44ffbb 220.5px,#4affb5 222.5px,#38ffc7 224.5px,#38ffc7 228.5px,#21ffde 229.5px,#15ffea 230.5px,#1dffe2 231.5px,#0dfff2 233.5px,#11ffee 234.5px,#2effd1 236.5px,#57ffa8 237.5px,#2cffd3 238.5px,#0cfff3 240.5px,#00f7ff 241.5px,#00e5ff 242.5px,#00caff 245.5px,#00feff 250.5px,#14ffeb 252.5px,#46ffb9 253.5px,#f8ff07 255.5px,#ff8800 257.5px,#ff6000 258.5px,#ff5100 259.5px,#ff8a00 266.5px,#ff9b00 269.5px,#ffae00 280.5px)"></div>
<div class="r" style="top:222px;background:linear-gradient(90deg,#ffbc00 0.5px,#ffa100 11.5px,#ff7500 19.5px,#ff7a00 20.5px,#ff9d00 21.5px,#ffd500 22.5px,#e3ff1c 23.5px,#40ffbf 25.5px,#11ffee 26.5px,#00feff 28.5px,#00bfff 35.5px,#00c2ff 36.5px,#00e4ff 38.5px,#03fffc 41.5px,#41ffbe 44.5px,#68ff97 45.5px,#12ffed 46.5px,#15ffea 48.5px,#00fbff 50.5px,#00f1ff 51.5px,#00ecff 53.5px,#00d9ff 54.5px,#00d7ff 55.5px,#00ebff 56.5px,#00ecff 57.5px,#00d2ff 58.5px,#00c4ff 59.5px,#00c6ff 60.5px,#00d6ff 61.5px,#00feff 62.5px,#a4ff5b 65.5px,#eeff11 67.5px,#fdff02 68.5px,#f5ff0a 70.5px,#fffe00 71.5px,#ffd600 73.5px,#ffdb00 74.5px,#fffc00 75.5px,#dfff20 76.5px,#adff52 79.5px,#85ff7a 83.5px,#8aff75 84.5px,#9dff62 85.5px,#9fff60 86.5px,#74ff8b 88.5px,#0afff5 89.5px,#00e6ff 90.5px,#00d6ff 91.5px,#00dbff 92.5px,#00c6ff 94.5px,#00deff 97.5px,#00deff 100.5px,#00f2ff 102.5px,#00d7ff 107.5px,#00b9ff 110.5px,#00c3ff 111.5px,#00ffff 113.5px,#00f1ff 115.5px,#00f9ff 117.5px,#00e2ff 120.5px,#00f5ff 122.5px,#00c6ff 125.5px,#00beff 126.5px,#0097ff 128.5px,#00b1ff 131.5px,#00a5ff 132.5px,#006aff 135.5px,#005fff 136.5px,#005eff 137.5px,#0075ff 142.5px,#0069ff 145.5px,#006cff 146.5px,#0082ff 149.5px,#00b4ff 151.5px,#00b8ff 153.5px,#00caff 155.5px,#00c7ff 156.5px,#00e6ff 157.5px,#00efff 159.5px,#00f1ff 160.5px,#00c4ff 162.5px,#00d0ff 163.5px,#00e9ff 164.5px,#00eeff 165.5px,#00e2ff 167.5px,#00e5ff 169.5px,#00cbff 172.5px,#00c6ff 176.5px,#00c9ff 177.5px,#00f0ff 180.5px,#00d6ff 182.5px,#00e3ff 184.5px,#00bfff 186.5px,#00b8ff 187.5px,#00caff 189.5px,#00e8ff 190.5px,#11ffee 191.5px,#82ff7d 192.5px,#a2ff5d 193.5px,#c0ff3f 195.5px,#cfff30 197.5px,#e7ff18 198.5px,#ebff14 199.5px,#a9ff56 201.5px,#98ff67 202.5px,#a2ff5d 204.5px,#d5ff2a 207.5px,#d4ff2b 208.5px,#baff45 209.5px,#8aff75 210.5px,#64ff9b 211.5px,#59ffa6 212.5px,#5bffa4 214.5px,#6eff91 216.5px,#6fff90 217.5px,#6aff95 218.5px,#30ffcf 223.5px,#3dffc2 227.5px,#48ffb7 228.5px,#24ffdb 230.5px,#23ffdc 231.5px,#12ffed 233.5px,#29ffd6 236.5px,#1dffe2 238.5px,#0dfff2 239.5px,#00f9ff 240.5px,#00cfff 243.5px,#00c1ff 245.5px,#00f9ff 252.5px,#15ffea 255.5px,#fffd00 258.5px,#ffbc00 259.5px,#ff8a00 260.5px,#ff6600 261.5px,#ff5900 262.5px,#ff8400 270.5px,#ff9d00 280.5px)"></div>
<div class="r" style="top:223px;background:linear-gradient(90deg,#ffa600 0.5px,#ff8100 15.5px,#ff9000 17.5px,#ffb200 18.5px,#ffe500 19.5px,#daff25 20.5px,#46ffb9 22.5px,#0ffff0 23.5px,#00fcff 25.5px,#00caff 31.5px,#00b4ff 35.5px,#00b6ff 36.5px,#00deff 39.5px,#00f1ff 42.5px,#06fff9 43.5px,#38ffc7 46.5px,#00d6ff 47.5px,#00f9ff 48.5px,#00feff 52.5px,#00faff 53.5px,#00e6ff 54.5px,#00e3ff 55.5px,#00f5ff 56.5px,#00f7ff 57.5px,#00caff 59.5px,#00ccff 60.5px,#00dfff 61.5px,#05fffa 62.5px,#d3ff2c 66.5px,#f5ff0a 67.5px,#fcff03 68.5px,#f1ff0e 69.5px,#f3ff0c 70.5px,#fff800 71.5px,#ffe900 72.5px,#ffe900 73.5px,#fffb00 74.5px,#c0ff3f 76.5px,#a3ff5c 78.5px,#79ff86 80.5px,#69ff96 83.5px,#73ff8c 84.5px,#87ff78 85.5px,#8cff73 86.5px,#84ff7b 87.5px,#33ffcc 88.5px,#00f3ff 89.5px,#00dfff 90.5px,#00deff 92.5px,#00caff 93.5px,#00c1ff 94.5px,#00ddff 97.5px,#00d6ff 99.5px,#00eaff 103.5px,#00bcff 106.5px,#00b4ff 108.5px,#00a1ff 110.5px,#00a5ff 111.5px,#00dbff 113.5px,#00eaff 118.5px,#00d9ff 120.5px,#00deff 122.5px,#00cbff 123.5px,#00a4ff 124.5px,#00aaff 125.5px,#00a3ff 126.5px,#0075ff 128.5px,#0075ff 129.5px,#0083ff 131.5px,#004dff 135.5px,#0044ff 137.5px,#004eff 142.5px,#004cff 145.5px,#0064ff 149.5px,#0088ff 151.5px,#008eff 153.5px,#00acff 156.5px,#00ccff 158.5px,#00d4ff 160.5px,#00b3ff 162.5px,#00c3ff 163.5px,#00ddff 164.5px,#00ecff 165.5px,#00f0ff 166.5px,#00f5ff 169.5px,#00caff 172.5px,#00bdff 174.5px,#00ebff 179.5px,#00ecff 180.5px,#00c9ff 182.5px,#00c8ff 184.5px,#00abff 187.5px,#00bdff 189.5px,#00cfff 190.5px,#00f5ff 191.5px,#1cffe3 192.5px,#8bff74 193.5px,#9cff63 194.5px,#a1ff5e 196.5px,#c9ff36 198.5px,#ccff33 199.5px,#93ff6c 201.5px,#81ff7e 202.5px,#85ff7a 203.5px,#b8ff47 206.5px,#c2ff3d 207.5px,#bdff42 208.5px,#a6ff59 209.5px,#5dffa2 211.5px,#4dffb2 212.5px,#48ffb7 214.5px,#5dffa2 216.5px,#60ff9f 219.5px,#23ffdc 222.5px,#25ffda 223.5px,#3fffc0 225.5px,#3effc1 227.5px,#4fffb0 228.5px,#4bffb4 229.5px,#37ffc8 230.5px,#33ffcc 232.5px,#22ffdd 234.5px,#0bfff4 235.5px,#00feff 236.5px,#00ebff 240.5px,#00c8ff 243.5px,#00b9ff 245.5px,#00c6ff 249.5px,#01fffe 256.5px,#19ffe6 258.5px,#f5ff0a 261.5px,#ffcf00 262.5px,#ffa100 263.5px,#ff7d00 264.5px,#ff6800 265.5px,#ff6500 268.5px,#ff8600 280.5px)"></div>
<div class="r" style="top:224px;background:linear-gradient(90deg,#ff8c00 0.5px,#ff7e00 6.5px,#ff8300 10.5px,#ffa300 13.5px,#ffb800 14.5px,#ffe300 15.5px,#e9ff16 16.5px,#33ffcc 19.5px,#0afff5 20.5px,#00f8ff 22.5px,#00b1ff 31.5px,#00a7ff 35.5px,#00a8ff 36.5px,#00bdff 38.5px,#00ccff 41.5px,#00faff 43.5px,#01fffe 44.5px,#18ffe7 46.5px,#25ffda 48.5px,#41ffbe 49.5px,#00e7ff 50.5px,#06fff9 52.5px,#09fff6 53.5px,#00f7ff 55.5px,#00fcff 57.5px,#00cfff 59.5px,#00d7ff 60.5px,#00f2ff 61.5px,#11ffee 62.5px,#32ffcd 63.5px,#5fffa0 64.5px,#d7ff28 66.5px,#f8ff07 67.5px,#f7ff08 68.5px,#e9ff16 69.5px,#ecff13 70.5px,#fffe00 71.5px,#fff600 72.5px,#f9ff06 73.5px,#a5ff5a 76.5px,#5cffa3 80.5px,#4fffb0 82.5px,#51ffae 83.5px,#6cff93 85.5px,#70ff8f 86.5px,#0bfff4 88.5px,#00e8ff 89.5px,#00d0ff 90.5px,#00c9ff 92.5px,#00b1ff 94.5px,#00daff 97.5px,#00c9ff 100.5px,#00e5ff 103.5px,#00d8ff 104.5px,#00a6ff 106.5px,#0091ff 111.5px,#009eff 112.5px,#00c8ff 114.5px,#00f2ff 118.5px,#00b6ff 122.5px,#008eff 123.5px,#007eff 124.5px,#0088ff 125.5px,#0087ff 126.5px,#0065ff 128.5px,#005cff 131.5px,#0036ff 136.5px,#0033ff 141.5px,#0037ff 145.5px,#004aff 149.5px,#006cff 153.5px,#0088ff 155.5px,#0090ff 156.5px,#0085ff 157.5px,#00a1ff 158.5px,#00b0ff 159.5px,#00b1ff 160.5px,#00a3ff 162.5px,#00b2ff 163.5px,#00dfff 165.5px,#00f5ff 167.5px,#00f3ff 170.5px,#00ccff 172.5px,#00b5ff 174.5px,#00baff 175.5px,#00edff 178.5px,#00f2ff 179.5px,#00caff 181.5px,#00c0ff 182.5px,#00bcff 185.5px,#00a4ff 187.5px,#00a3ff 188.5px,#00a8ff 189.5px,#00b9ff 190.5px,#00d9ff 191.5px,#04fffb 192.5px,#1fffe0 193.5px,#6eff91 194.5px,#a3ff5c 198.5px,#a8ff57 199.5px,#79ff86 202.5px,#b0ff4f 206.5px,#b1ff4e 207.5px,#9bff64 209.5px,#42ffbd 213.5px,#37ffc8 214.5px,#3affc5 215.5px,#43ffbc 217.5px,#57ffa8 219.5px,#43ffbc 220.5px,#1effe1 221.5px,#0efff1 222.5px,#41ffbe 225.5px,#39ffc6 227.5px,#43ffbc 229.5px,#39ffc6 230.5px,#24ffdb 231.5px,#38ffc7 232.5px,#00fcff 234.5px,#00deff 236.5px,#00d1ff 241.5px,#00a9ff 246.5px,#00b5ff 250.5px,#00fbff 259.5px,#0efff1 261.5px,#8bff74 263.5px,#feff01 265.5px,#ffa900 267.5px,#ff8800 268.5px,#ff7500 269.5px,#ff6500 271.5px,#ff6000 273.5px,#ff6c00 280.5px)"></div>
<div class="r" style="top:225px;background:linear-gradient(90deg,#ff7700 0.5px,#ff7b00 4.5px,#ff9400 7.5px,#ffb800 9.5px,#ffd600 10.5px,#ffff00 11.5px,#06fff9 16.5px,#00feff 17.5px,#00a6ff 29.5px,#0095ff 33.5px,#0099ff 36.5px,#00acff 38.5px,#00afff 40.5px,#00bbff 41.5px,#00f2ff 43.5px,#02fffd 44.5px,#00faff 48.5px,#02fffd 50.5px,#0efff1 51.5px,#33ffcc 52.5px,#01fffe 53.5px,#12ffed 54.5px,#14ffeb 55.5px,#0dfff2 57.5px,#00f9ff 58.5px,#00e4ff 59.5px,#00e8ff 60.5px,#06fff9 61.5px,#3bffc4 63.5px,#5fffa0 64.5px,#cdff32 66.5px,#e3ff1c 67.5px,#ccff33 69.5px,#d8ff27 70.5px,#f1ff0e 71.5px,#f9ff06 72.5px,#59ffa6 79.5px,#4effb1 80.5px,#59ffa6 84.5px,#4fffb0 85.5px,#1affe5 86.5px,#02fffd 87.5px,#00edff 88.5px,#00d2ff 89.5px,#00b9ff 91.5px,#0096ff 93.5px,#0094ff 94.5px,#00c6ff 97.5px,#00c5ff 101.5px,#00deff 103.5px,#00d1ff 104.5px,#00a5ff 106.5px,#008bff 109.5px,#0086ff 111.5px,#008fff 112.5px,#00ceff 115.5px,#00f0ff 118.5px,#00e0ff 119.5px,#00a5ff 121.5px,#0069ff 122.5px,#005fff 123.5px,#0068ff 126.5px,#0051ff 128.5px,#0031ff 134.5px,#002fff 146.5px,#0036ff 149.5px,#0048ff 152.5px,#0074ff 156.5px,#0062ff 158.5px,#008dff 159.5px,#0086ff 161.5px,#0091ff 162.5px,#00daff 166.5px,#00e0ff 167.5px,#00dfff 170.5px,#00b8ff 172.5px,#009eff 174.5px,#00a7ff 175.5px,#00e0ff 178.5px,#00e4ff 179.5px,#00aaff 181.5px,#00a9ff 182.5px,#00c0ff 184.5px,#00bfff 185.5px,#0092ff 188.5px,#0091ff 189.5px,#00abff 190.5px,#00f8ff 192.5px,#08fff7 194.5px,#46ffb9 195.5px,#6fff90 196.5px,#72ff8d 197.5px,#8eff71 199.5px,#7eff81 202.5px,#9eff61 205.5px,#9eff61 206.5px,#85ff7a 208.5px,#7eff81 210.5px,#71ff8e 211.5px,#39ffc6 213.5px,#2cffd3 214.5px,#32ffcd 217.5px,#4bffb4 219.5px,#34ffcb 220.5px,#0dfff2 221.5px,#02fffd 222.5px,#39ffc6 225.5px,#3cffc3 226.5px,#32ffcd 227.5px,#1cffe3 228.5px,#50ffaf 229.5px,#2cffd3 230.5px,#17ffe8 231.5px,#00fcff 233.5px,#00e8ff 234.5px,#00e1ff 237.5px,#00c0ff 239.5px,#00beff 241.5px,#0094ff 247.5px,#00a2ff 251.5px,#00faff 263.5px,#02fffd 264.5px,#15ffea 265.5px,#e4ff1b 269.5px,#ffee00 270.5px,#ffa400 272.5px,#ff7400 274.5px,#ff5d00 277.5px,#ff5900 280.5px)"></div>
<div class="r" style="top:226px;background:linear-gradient(90deg,#ff8400 0.5px,#ffab00 3.5px,#ffc000 4.5px,#faff05 6.5px,#16ffe9 11.5px,#00fbff 12.5px,#009dff 26.5px,#0077ff 33.5px,#007dff 35.5px,#00a0ff 38.5px,#00b0ff 41.5px,#00ffff 44.5px,#00ffff 45.5px,#00e6ff 47.5px,#00d1ff 48.5px,#00ccff 49.5px,#00e8ff 51.5px,#00f1ff 53.5px,#0bfff4 54.5px,#2effd1 55.5px,#08fff7 56.5px,#1bffe4 57.5px,#04fffb 59.5px,#03fffc 60.5px,#3fffc0 62.5px,#69ff96 64.5px,#b5ff4a 66.5px,#baff45 67.5px,#a7ff58 68.5px,#a3ff5c 69.5px,#ddff22 71.5px,#e5ff1a 72.5px,#56ffa9 79.5px,#54ffab 80.5px,#7bff84 82.5px,#70ff8f 83.5px,#2effd1 84.5px,#00fbff 85.5px,#00bfff 88.5px,#00b9ff 89.5px,#00beff 90.5px,#00aeff 91.5px,#0079ff 93.5px,#007bff 94.5px,#00a3ff 96.5px,#00c1ff 99.5px,#00d1ff 103.5px,#00c7ff 105.5px,#0085ff 109.5px,#007fff 111.5px,#0089ff 112.5px,#00c3ff 115.5px,#00d8ff 118.5px,#00caff 119.5px,#00abff 120.5px,#005eff 121.5px,#004fff 122.5px,#004bff 126.5px,#002eff 132.5px,#002eff 150.5px,#0033ff 152.5px,#005cff 156.5px,#0054ff 159.5px,#0065ff 160.5px,#0065ff 161.5px,#00a4ff 163.5px,#00cbff 166.5px,#00bfff 168.5px,#00c4ff 170.5px,#009dff 172.5px,#0089ff 174.5px,#00c3ff 177.5px,#00d1ff 178.5px,#00d2ff 179.5px,#0093ff 181.5px,#0093ff 182.5px,#00b8ff 184.5px,#00b2ff 185.5px,#0083ff 188.5px,#0084ff 189.5px,#00a1ff 190.5px,#00d0ff 191.5px,#00eeff 192.5px,#00f5ff 193.5px,#00f1ff 194.5px,#00feff 195.5px,#08fff7 196.5px,#2affd5 197.5px,#5affa5 198.5px,#79ff86 199.5px,#83ff7c 203.5px,#97ff68 205.5px,#92ff6d 206.5px,#68ff97 208.5px,#71ff8e 210.5px,#68ff97 211.5px,#32ffcd 213.5px,#2cffd3 217.5px,#36ffc9 219.5px,#01fffe 221.5px,#00feff 222.5px,#15ffea 224.5px,#10ffef 225.5px,#44ffbb 226.5px,#34ffcb 227.5px,#23ffdc 229.5px,#07fff8 230.5px,#00e6ff 231.5px,#00d4ff 232.5px,#00cdff 233.5px,#00d0ff 234.5px,#00e6ff 236.5px,#00dcff 237.5px,#00c4ff 238.5px,#00baff 239.5px,#00b9ff 241.5px,#00a8ff 243.5px,#007dff 246.5px,#0077ff 247.5px,#007bff 249.5px,#0099ff 254.5px,#00feff 269.5px,#e1ff1e 274.5px,#fff400 275.5px,#ff9400 278.5px,#ff6e00 280.5px)"></div>
<div class="r" style="top:227px;background:linear-gradient(90deg,#fffd00 0.5px,#b7ff48 2.5px,#10ffef 6.5px,#00f1ff 7.5px,#00a6ff 20.5px,#0085ff 25.5px,#0059ff 30.5px,#0051ff 32.5px,#0062ff 35.5px,#009dff 39.5px,#00a9ff 41.5px,#00bbff 42.5px,#00f9ff 44.5px,#00fbff 45.5px,#00efff 46.5px,#00b6ff 49.5px,#00bfff 52.5px,#00d2ff 53.5px,#00f0ff 54.5px,#00feff 55.5px,#07fff8 56.5px,#3dffc2 60.5px,#21ffde 61.5px,#4bffb4 62.5px,#59ffa6 64.5px,#95ff6a 66.5px,#85ff7a 68.5px,#8cff73 69.5px,#c5ff3a 71.5px,#c5ff3a 72.5px,#93ff6c 74.5px,#82ff7d 75.5px,#7aff85 77.5px,#54ffab 80.5px,#59ffa6 81.5px,#1bffe4 83.5px,#00f7ff 84.5px,#00a2ff 87.5px,#00a0ff 88.5px,#00b4ff 90.5px,#00aaff 91.5px,#0073ff 93.5px,#006dff 94.5px,#0090ff 96.5px,#00bdff 100.5px,#00ccff 105.5px,#0090ff 108.5px,#0084ff 109.5px,#0083ff 110.5px,#008fff 113.5px,#00c8ff 116.5px,#00b9ff 118.5px,#00a2ff 119.5px,#0055ff 120.5px,#0046ff 122.5px,#002cff 129.5px,#002cff 152.5px,#0047ff 156.5px,#0048ff 159.5px,#005cff 161.5px,#005eff 162.5px,#008aff 163.5px,#00b7ff 165.5px,#00c6ff 166.5px,#00adff 168.5px,#00adff 170.5px,#0083ff 173.5px,#0083ff 174.5px,#00b6ff 176.5px,#00d0ff 178.5px,#00ccff 179.5px,#008aff 181.5px,#008aff 182.5px,#009dff 183.5px,#00a5ff 184.5px,#0087ff 186.5px,#007eff 188.5px,#0082ff 189.5px,#0095ff 190.5px,#00d9ff 192.5px,#00daff 193.5px,#00cfff 194.5px,#00dbff 197.5px,#00fcff 198.5px,#36ffc9 199.5px,#70ff8f 201.5px,#7eff81 202.5px,#7eff81 203.5px,#84ff7b 204.5px,#95ff6a 205.5px,#98ff67 206.5px,#70ff8f 208.5px,#74ff8b 210.5px,#68ff97 211.5px,#3cffc3 213.5px,#2fffd0 216.5px,#08fff7 219.5px,#00eaff 220.5px,#25ffda 221.5px,#10ffef 222.5px,#0cfff3 223.5px,#1cffe3 227.5px,#15ffea 228.5px,#00fbff 229.5px,#00d8ff 230.5px,#00c1ff 231.5px,#00bdff 233.5px,#00d4ff 236.5px,#00caff 237.5px,#00b4ff 238.5px,#00bbff 240.5px,#00b5ff 241.5px,#009cff 243.5px,#006dff 245.5px,#005fff 246.5px,#0052ff 249.5px,#005cff 251.5px,#0081ff 255.5px,#00a2ff 260.5px,#00f7ff 274.5px,#20ffdf 275.5px,#ecff13 280.5px)"></div>
<div class="r" style="top:228px;background:linear-gradient(90deg,#16ffe9 0.5px,#00f3ff 1.5px,#00deff 2.5px,#0084ff 20.5px,#003fff 27.5px,#0028ff 31.5px,#0037ff 33.5px,#005bff 36.5px,#0092ff 39.5px,#009fff 41.5px,#00b0ff 42.5px,#00e2ff 44.5px,#00e7ff 46.5px,#00dcff 47.5px,#00b4ff 49.5px,#00b2ff 51.5px,#00b9ff 52.5px,#00e2ff 54.5px,#02fffd 59.5px,#00f8ff 62.5px,#00d5ff 63.5px,#00c9ff 64.5px,#00ecff 65.5px,#0ffff0 66.5px,#1dffe2 67.5px,#4fffb0 68.5px,#7dff82 70.5px,#8bff74 71.5px,#80ff7f 72.5px,#3fffc0 74.5px,#2effd1 75.5px,#50ffaf 76.5px,#56ffa9 77.5px,#38ffc7 79.5px,#21ffde 80.5px,#08fff7 82.5px,#00e7ff 83.5px,#00c8ff 84.5px,#008fff 87.5px,#00a7ff 90.5px,#00a1ff 91.5px,#0071ff 93.5px,#0065ff 94.5px,#007fff 96.5px,#008aff 98.5px,#00baff 102.5px,#00c7ff 105.5px,#0095ff 108.5px,#008eff 109.5px,#0096ff 111.5px,#008aff 113.5px,#00c0ff 116.5px,#00b3ff 117.5px,#005eff 118.5px,#004dff 119.5px,#002aff 127.5px,#002bff 154.5px,#0053ff 162.5px,#0051ff 163.5px,#006dff 164.5px,#00b7ff 166.5px,#00b8ff 167.5px,#00a3ff 168.5px,#0082ff 173.5px,#008bff 174.5px,#00bbff 176.5px,#00caff 178.5px,#00c0ff 179.5px,#0080ff 181.5px,#0089ff 184.5px,#0075ff 187.5px,#007dff 189.5px,#008aff 190.5px,#00b8ff 192.5px,#00bcff 193.5px,#00abff 195.5px,#00abff 196.5px,#00b6ff 197.5px,#00f7ff 199.5px,#02fffd 200.5px,#11ffee 201.5px,#5effa1 205.5px,#7fff80 206.5px,#81ff7e 207.5px,#71ff8e 208.5px,#6dff92 210.5px,#2effd1 213.5px,#54ffab 214.5px,#04fffb 218.5px,#00faff 220.5px,#00deff 224.5px,#00f1ff 227.5px,#00eeff 228.5px,#00b3ff 230.5px,#00a9ff 231.5px,#00caff 234.5px,#00c5ff 236.5px,#00a3ff 238.5px,#00a3ff 240.5px,#0094ff 242.5px,#0056ff 245.5px,#002bff 249.5px,#0029ff 250.5px,#0042ff 254.5px,#0081ff 260.5px,#00e0ff 279.5px,#02fffd 280.5px)"></div>
<div class="r" style="top:229px;background:linear-gradient(90deg,#00b0ff 0.5px,#007eff 13.5px,#0052ff 19.5px,#001aff 25.5px,#0018ff 27.5px,#0023ff 31.5px,#003eff 34.5px,#0063ff 37.5px,#008dff 39.5px,#0096ff 41.5px,#00bcff 43.5px,#00ccff 45.5px,#00e1ff 46.5px,#00e6ff 47.5px,#00c2ff 49.5px,#00b8ff 51.5px,#00beff 52.5px,#00e7ff 54.5px,#00e7ff 55.5px,#00d2ff 58.5px,#00cfff 61.5px,#00aeff 63.5px,#00a6ff 64.5px,#00d4ff 67.5px,#08fff7 69.5px,#15ffea 70.5px,#16ffe9 71.5px,#00fcff 73.5px,#00ebff 74.5px,#00efff 75.5px,#0afff5 76.5px,#2affd5 78.5px,#2affd5 79.5px,#10ffef 80.5px,#00f1ff 81.5px,#00aaff 84.5px,#007aff 87.5px,#0091ff 90.5px,#008dff 91.5px,#006dff 93.5px,#0077ff 96.5px,#0065ff 98.5px,#0069ff 99.5px,#00b0ff 102.5px,#00baff 105.5px,#00a2ff 109.5px,#009cff 112.5px,#00aaff 115.5px,#00a5ff 116.5px,#0053ff 117.5px,#0047ff 118.5px,#0028ff 126.5px,#0028ff 155.5px,#004bff 163.5px,#005bff 164.5px,#0060ff 165.5px,#008fff 166.5px,#00a1ff 167.5px,#0087ff 169.5px,#007bff 172.5px,#0081ff 173.5px,#00acff 175.5px,#00b7ff 176.5px,#00b5ff 178.5px,#00a7ff 179.5px,#0074ff 181.5px,#0079ff 185.5px,#006fff 188.5px,#0076ff 189.5px,#00aeff 193.5px,#00b3ff 194.5px,#00a1ff 196.5px,#00a4ff 197.5px,#00c0ff 199.5px,#00c3ff 200.5px,#00f8ff 203.5px,#02fffd 204.5px,#27ffd8 207.5px,#2bffd4 208.5px,#52ffad 210.5px,#01fffe 216.5px,#00d2ff 218.5px,#00ceff 222.5px,#00bcff 225.5px,#00bbff 228.5px,#0092ff 230.5px,#0094ff 231.5px,#00bdff 234.5px,#00c0ff 235.5px,#00b9ff 236.5px,#0091ff 238.5px,#0085ff 239.5px,#007aff 242.5px,#0031ff 248.5px,#001cff 251.5px,#0018ff 253.5px,#001eff 256.5px,#0056ff 262.5px,#007fff 268.5px,#00adff 280.5px)"></div>
<div class="r" style="top:230px;background:linear-gradient(90deg,#0073ff 0.5px,#005dff 6.5px,#0016ff 19.5px,#0016ff 28.5px,#0026ff 32.5px,#0051ff 36.5px,#005eff 37.5px,#008bff 39.5px,#00c2ff 45.5px,#00e7ff 46.5px,#00f8ff 47.5px,#00cdff 49.5px,#00b8ff 51.5px,#00b8ff 52.5px,#00d7ff 54.5px,#00e2ff 56.5px,#00dbff 57.5px,#00c2ff 58.5px,#00b3ff 59.5px,#00aeff 61.5px,#0096ff 64.5px,#00acff 67.5px,#00e7ff 69.5px,#00ebff 70.5px,#00c9ff 74.5px,#00fcff 79.5px,#00ccff 81.5px,#00bfff 83.5px,#0057ff 87.5px,#0055ff 88.5px,#0070ff 90.5px,#0065ff 92.5px,#006cff 93.5px,#0082ff 94.5px,#008aff 95.5px,#0056ff 98.5px,#005cff 99.5px,#008fff 101.5px,#009dff 102.5px,#009aff 104.5px,#00a6ff 105.5px,#00b0ff 108.5px,#0099ff 111.5px,#00acff 113.5px,#00a7ff 114.5px,#005aff 115.5px,#004aff 116.5px,#0025ff 124.5px,#0025ff 156.5px,#0050ff 166.5px,#006eff 167.5px,#0077ff 168.5px,#006aff 170.5px,#006fff 171.5px,#008bff 174.5px,#00a6ff 176.5px,#00a9ff 177.5px,#00a2ff 178.5px,#006cff 181.5px,#006cff 182.5px,#0082ff 185.5px,#0069ff 188.5px,#009cff 192.5px,#00bfff 194.5px,#00abff 196.5px,#00aeff 198.5px,#00a2ff 200.5px,#00d8ff 207.5px,#00e8ff 208.5px,#0efff1 209.5px,#2cffd3 210.5px,#20ffdf 211.5px,#06fff9 212.5px,#01fffe 213.5px,#00faff 214.5px,#00c4ff 217.5px,#00bbff 218.5px,#00b7ff 221.5px,#00c1ff 223.5px,#0098ff 226.5px,#0080ff 229.5px,#007eff 230.5px,#0094ff 232.5px,#00a8ff 236.5px,#0075ff 239.5px,#006eff 241.5px,#0025ff 249.5px,#0017ff 252.5px,#0016ff 262.5px,#005aff 274.5px,#0071ff 280.5px)"></div>
<div class="r" style="top:231px;background:linear-gradient(90deg,#001fff 0.5px,#0016ff 4.5px,#0013ff 14.5px,#0013ff 28.5px,#001cff 31.5px,#004bff 36.5px,#0082ff 39.5px,#00b0ff 43.5px,#00beff 45.5px,#00deff 46.5px,#00f2ff 47.5px,#00e6ff 48.5px,#00a8ff 51.5px,#00a2ff 52.5px,#00ccff 57.5px,#009bff 59.5px,#009cff 61.5px,#008cff 64.5px,#009aff 67.5px,#00c0ff 69.5px,#00c2ff 70.5px,#00b5ff 72.5px,#00d9ff 79.5px,#00b3ff 81.5px,#00b3ff 83.5px,#009cff 84.5px,#0055ff 86.5px,#003bff 87.5px,#0033ff 88.5px,#0055ff 90.5px,#0052ff 92.5px,#0068ff 93.5px,#008aff 94.5px,#0092ff 95.5px,#0063ff 97.5px,#005eff 98.5px,#008eff 101.5px,#0093ff 102.5px,#0086ff 103.5px,#0088ff 104.5px,#009aff 105.5px,#00acff 108.5px,#008dff 111.5px,#008aff 113.5px,#004dff 114.5px,#0042ff 115.5px,#0024ff 122.5px,#0023ff 158.5px,#0040ff 165.5px,#0054ff 167.5px,#004cff 168.5px,#0075ff 170.5px,#0090ff 172.5px,#007eff 174.5px,#0098ff 177.5px,#0090ff 178.5px,#0071ff 180.5px,#006cff 181.5px,#008eff 185.5px,#008bff 186.5px,#006dff 188.5px,#0094ff 190.5px,#00c1ff 194.5px,#00adff 196.5px,#00b5ff 198.5px,#00a6ff 200.5px,#009fff 203.5px,#00a8ff 205.5px,#00a0ff 207.5px,#00b3ff 208.5px,#03fffc 210.5px,#00f9ff 211.5px,#00dbff 212.5px,#00d1ff 213.5px,#00b7ff 219.5px,#009dff 221.5px,#00a0ff 224.5px,#0068ff 229.5px,#0085ff 231.5px,#008cff 232.5px,#0082ff 234.5px,#0097ff 236.5px,#0090ff 237.5px,#0068ff 239.5px,#005fff 240.5px,#004bff 245.5px,#002aff 248.5px,#0017ff 251.5px,#0014ff 272.5px,#001eff 280.5px)"></div>
<div class="r" style="top:232px;background:linear-gradient(90deg,#0012ff 0.5px,#0015ff 30.5px,#0042ff 36.5px,#0075ff 39.5px,#00a9ff 43.5px,#00b4ff 45.5px,#00d2ff 47.5px,#00d3ff 48.5px,#00c4ff 49.5px,#0094ff 51.5px,#0093ff 55.5px,#00b2ff 57.5px,#00a1ff 58.5px,#0084ff 59.5px,#007dff 60.5px,#007fff 64.5px,#00b8ff 74.5px,#00b1ff 77.5px,#00c1ff 79.5px,#00a7ff 81.5px,#0099ff 83.5px,#0087ff 84.5px,#0044ff 86.5px,#0030ff 87.5px,#002bff 88.5px,#0046ff 90.5px,#004cff 92.5px,#0083ff 94.5px,#0087ff 95.5px,#0061ff 97.5px,#0065ff 98.5px,#0082ff 101.5px,#0085ff 102.5px,#007aff 103.5px,#007fff 104.5px,#00a9ff 106.5px,#00b1ff 107.5px,#00aeff 108.5px,#00a0ff 109.5px,#0051ff 112.5px,#0042ff 113.5px,#0020ff 121.5px,#0020ff 159.5px,#0047ff 168.5px,#005bff 169.5px,#00a9ff 171.5px,#00adff 172.5px,#007eff 174.5px,#007bff 175.5px,#0082ff 176.5px,#0079ff 180.5px,#0093ff 183.5px,#0099ff 186.5px,#008aff 188.5px,#00b3ff 190.5px,#00b9ff 194.5px,#00a6ff 196.5px,#00bbff 198.5px,#00baff 199.5px,#009aff 202.5px,#0098ff 205.5px,#008aff 207.5px,#009aff 208.5px,#00d7ff 210.5px,#00cfff 211.5px,#00afff 212.5px,#009cff 213.5px,#0099ff 214.5px,#00a9ff 216.5px,#00a2ff 217.5px,#00a4ff 219.5px,#0097ff 220.5px,#007fff 221.5px,#0075ff 222.5px,#0086ff 224.5px,#008aff 227.5px,#0067ff 229.5px,#006bff 230.5px,#0086ff 232.5px,#0075ff 234.5px,#008cff 236.5px,#0080ff 237.5px,#0059ff 239.5px,#0044ff 241.5px,#0046ff 245.5px,#001eff 249.5px,#0014ff 251.5px,#0012ff 280.5px)"></div>
<div class="r" style="top:233px;background:linear-gradient(90deg,#000dff 0.5px,#0012ff 30.5px,#0031ff 35.5px,#005bff 38.5px,#006bff 40.5px,#009eff 43.5px,#00a1ff 45.5px,#00b5ff 47.5px,#00b5ff 48.5px,#0083ff 51.5px,#0082ff 52.5px,#0097ff 54.5px,#00a0ff 57.5px,#0062ff 60.5px,#005fff 61.5px,#007eff 64.5px,#0086ff 70.5px,#00adff 73.5px,#00a9ff 74.5px,#008eff 76.5px,#0091ff 77.5px,#00adff 79.5px,#00a8ff 80.5px,#007eff 82.5px,#0063ff 84.5px,#003dff 86.5px,#002eff 88.5px,#004cff 91.5px,#0059ff 92.5px,#0072ff 93.5px,#007dff 94.5px,#005cff 97.5px,#0071ff 99.5px,#007aff 101.5px,#0071ff 103.5px,#007bff 104.5px,#00aeff 106.5px,#00b6ff 107.5px,#00acff 108.5px,#0044ff 111.5px,#001dff 119.5px,#001dff 161.5px,#003dff 169.5px,#004aff 170.5px,#009fff 171.5px,#00acff 172.5px,#009fff 173.5px,#0080ff 174.5px,#006eff 177.5px,#006fff 178.5px,#00abff 182.5px,#0096ff 184.5px,#0096ff 185.5px,#00baff 189.5px,#00b4ff 192.5px,#00bfff 194.5px,#00a4ff 196.5px,#00a3ff 197.5px,#00b1ff 198.5px,#00b4ff 199.5px,#0087ff 202.5px,#007fff 205.5px,#0072ff 206.5px,#006fff 207.5px,#00a8ff 210.5px,#009dff 211.5px,#007dff 212.5px,#0068ff 213.5px,#0065ff 214.5px,#007eff 216.5px,#008aff 219.5px,#0084ff 220.5px,#0062ff 222.5px,#0068ff 223.5px,#0096ff 226.5px,#009dff 227.5px,#0069ff 230.5px,#007cff 232.5px,#006bff 234.5px,#0083ff 236.5px,#0056ff 238.5px,#0032ff 241.5px,#0032ff 242.5px,#0043ff 244.5px,#001aff 249.5px,#000eff 252.5px,#000dff 280.5px)"></div>
<div class="r" style="top:234px;background:linear-gradient(90deg,#000aff 0.5px,#000eff 30.5px,#002bff 35.5px,#0051ff 38.5px,#0057ff 40.5px,#008bff 43.5px,#008eff 45.5px,#00acff 47.5px,#0075ff 50.5px,#007dff 52.5px,#009fff 54.5px,#009dff 56.5px,#0088ff 58.5px,#0053ff 60.5px,#004aff 61.5px,#0079ff 63.5px,#0088ff 64.5px,#0089ff 65.5px,#0078ff 67.5px,#0080ff 69.5px,#0079ff 70.5px,#0084ff 71.5px,#009fff 72.5px,#00a8ff 73.5px,#007aff 76.5px,#007dff 77.5px,#0095ff 79.5px,#008dff 80.5px,#004dff 82.5px,#0036ff 83.5px,#003eff 86.5px,#002eff 88.5px,#004dff 90.5px,#005dff 92.5px,#0070ff 93.5px,#0073ff 94.5px,#0053ff 96.5px,#0058ff 97.5px,#006bff 98.5px,#0074ff 99.5px,#007bff 101.5px,#0071ff 103.5px,#0078ff 104.5px,#00a5ff 106.5px,#009aff 107.5px,#0079ff 108.5px,#0046ff 109.5px,#003aff 110.5px,#001bff 117.5px,#0019ff 163.5px,#003dff 171.5px,#004dff 172.5px,#006bff 173.5px,#0065ff 174.5px,#006eff 176.5px,#0065ff 178.5px,#00acff 181.5px,#00b8ff 182.5px,#00a8ff 183.5px,#008dff 184.5px,#0089ff 185.5px,#00aeff 187.5px,#00b4ff 189.5px,#00a7ff 191.5px,#00aeff 192.5px,#00d3ff 194.5px,#00caff 195.5px,#00aeff 196.5px,#009fff 197.5px,#00a1ff 199.5px,#0068ff 203.5px,#0061ff 205.5px,#0050ff 207.5px,#007eff 209.5px,#0087ff 210.5px,#007aff 211.5px,#004aff 213.5px,#0046ff 214.5px,#007fff 219.5px,#007fff 220.5px,#0063ff 222.5px,#0061ff 223.5px,#006eff 224.5px,#009dff 226.5px,#009fff 227.5px,#006cff 230.5px,#0068ff 231.5px,#006eff 232.5px,#005bff 234.5px,#0072ff 236.5px,#0049ff 238.5px,#0029ff 241.5px,#0028ff 242.5px,#0039ff 244.5px,#0015ff 249.5px,#000aff 253.5px,#000aff 280.5px)"></div>
<div class="r" style="top:235px;background:linear-gradient(90deg,#0006ff 0.5px,#000aff 30.5px,#001eff 34.5px,#0041ff 37.5px,#004fff 40.5px,#007cff 43.5px,#007eff 45.5px,#00a0ff 47.5px,#0093ff 48.5px,#0079ff 49.5px,#006fff 50.5px,#009eff 55.5px,#0084ff 58.5px,#0045ff 60.5px,#0036ff 61.5px,#004eff 62.5px,#0076ff 63.5px,#008fff 64.5px,#0094ff 65.5px,#0077ff 67.5px,#0075ff 68.5px,#0076ff 70.5px,#007eff 71.5px,#0091ff 72.5px,#0094ff 73.5px,#0076ff 75.5px,#0072ff 76.5px,#0086ff 79.5px,#0073ff 80.5px,#0023ff 82.5px,#000eff 83.5px,#0042ff 86.5px,#003eff 88.5px,#0051ff 90.5px,#004dff 92.5px,#0058ff 93.5px,#0046ff 96.5px,#0070ff 98.5px,#0078ff 101.5px,#006cff 103.5px,#0073ff 106.5px,#0047ff 107.5px,#0039ff 108.5px,#0016ff 116.5px,#0016ff 165.5px,#003dff 173.5px,#002aff 174.5px,#0063ff 176.5px,#0051ff 178.5px,#0062ff 179.5px,#00a1ff 181.5px,#00afff 182.5px,#00a2ff 183.5px,#0082ff 184.5px,#007cff 185.5px,#00a0ff 187.5px,#0098ff 190.5px,#009eff 191.5px,#00dbff 194.5px,#00d4ff 195.5px,#00a7ff 197.5px,#0079ff 201.5px,#0053ff 203.5px,#0046ff 206.5px,#0046ff 207.5px,#0071ff 209.5px,#0077ff 210.5px,#0047ff 213.5px,#0046ff 215.5px,#006fff 219.5px,#006dff 224.5px,#0092ff 226.5px,#0073ff 228.5px,#005cff 231.5px,#0053ff 234.5px,#0060ff 236.5px,#003eff 238.5px,#001dff 242.5px,#002aff 244.5px,#000dff 250.5px,#0006ff 253.5px,#0006ff 280.5px)"></div>
<div class="r" style="top:236px;background:linear-gradient(90deg,#0002ff 0.5px,#0006ff 30.5px,#001fff 35.5px,#0076ff 43.5px,#006aff 45.5px,#0075ff 46.5px,#008cff 47.5px,#0091ff 48.5px,#0086ff 49.5px,#0089ff 51.5px,#007aff 53.5px,#0081ff 54.5px,#0093ff 55.5px,#0098ff 56.5px,#008eff 58.5px,#006eff 59.5px,#003fff 60.5px,#0028ff 61.5px,#003dff 62.5px,#0067ff 63.5px,#0082ff 64.5px,#0087ff 65.5px,#0063ff 68.5px,#0073ff 72.5px,#005aff 75.5px,#005eff 76.5px,#0080ff 78.5px,#0079ff 79.5px,#0031ff 81.5px,#0015ff 82.5px,#000bff 83.5px,#0046ff 86.5px,#0057ff 88.5px,#0056ff 89.5px,#003eff 91.5px,#0049ff 93.5px,#0035ff 95.5px,#0043ff 96.5px,#005fff 97.5px,#0069ff 98.5px,#0064ff 99.5px,#006cff 101.5px,#0069ff 102.5px,#0043ff 104.5px,#0044ff 105.5px,#0030ff 107.5px,#0012ff 114.5px,#0012ff 167.5px,#003bff 175.5px,#0031ff 176.5px,#0033ff 178.5px,#003fff 179.5px,#0088ff 181.5px,#009aff 182.5px,#0090ff 183.5px,#0071ff 184.5px,#0067ff 185.5px,#0085ff 187.5px,#0088ff 190.5px,#00b3ff 192.5px,#00caff 194.5px,#00b9ff 196.5px,#007dff 199.5px,#0076ff 201.5px,#0040ff 203.5px,#0032ff 204.5px,#0042ff 207.5px,#0061ff 209.5px,#005fff 210.5px,#0042ff 212.5px,#003dff 213.5px,#0050ff 218.5px,#007aff 222.5px,#0072ff 224.5px,#007dff 226.5px,#0059ff 228.5px,#004fff 230.5px,#0057ff 236.5px,#0024ff 239.5px,#000fff 242.5px,#001fff 244.5px,#0002ff 253.5px,#0002ff 280.5px)"></div>
<div class="r" style="top:237px;background:linear-gradient(90deg,#0000fd 0.5px,#0002ff 30.5px,#0010ff 34.5px,#0037ff 38.5px,#005aff 40.5px,#006fff 43.5px,#006aff 44.5px,#005aff 45.5px,#005eff 46.5px,#008eff 48.5px,#008dff 51.5px,#005dff 53.5px,#005fff 54.5px,#009aff 56.5px,#00a2ff 57.5px,#009bff 58.5px,#0076ff 59.5px,#0042ff 60.5px,#0025ff 61.5px,#0030ff 62.5px,#006cff 64.5px,#0073ff 65.5px,#006bff 67.5px,#0056ff 68.5px,#0050ff 69.5px,#005eff 71.5px,#0047ff 74.5px,#0057ff 76.5px,#0076ff 78.5px,#0062ff 79.5px,#003cff 80.5px,#0025ff 81.5px,#001aff 83.5px,#003bff 85.5px,#005cff 88.5px,#0058ff 89.5px,#0040ff 90.5px,#0032ff 91.5px,#004eff 93.5px,#0038ff 95.5px,#0044ff 96.5px,#005bff 97.5px,#0056ff 98.5px,#0041ff 99.5px,#0049ff 101.5px,#003dff 102.5px,#003eff 103.5px,#002dff 105.5px,#000fff 112.5px,#000fff 169.5px,#0036ff 177.5px,#0002ff 178.5px,#0010ff 179.5px,#0068ff 181.5px,#007dff 182.5px,#0074ff 183.5px,#005aff 184.5px,#004cff 185.5px,#0053ff 186.5px,#0078ff 188.5px,#007eff 190.5px,#00b3ff 192.5px,#00b8ff 193.5px,#00a3ff 196.5px,#0092ff 197.5px,#0076ff 198.5px,#0070ff 199.5px,#007eff 200.5px,#007fff 201.5px,#003cff 203.5px,#0028ff 204.5px,#002bff 205.5px,#0053ff 209.5px,#004eff 210.5px,#002dff 212.5px,#0028ff 213.5px,#0031ff 214.5px,#0058ff 216.5px,#0044ff 218.5px,#0070ff 221.5px,#006aff 224.5px,#0071ff 227.5px,#0066ff 228.5px,#0042ff 230.5px,#0054ff 235.5px,#0050ff 236.5px,#001fff 238.5px,#0002ff 240.5px,#0002ff 241.5px,#0019ff 244.5px,#0000fe 252.5px,#0000fd 280.5px)"></div>
<div class="r" style="top:238px;background:linear-gradient(90deg,#0000f9 0.5px,#0000ff 31.5px,#000fff 35.5px,#002eff 38.5px,#0053ff 40.5px,#0065ff 43.5px,#005cff 44.5px,#0046ff 45.5px,#0046ff 46.5px,#007aff 48.5px,#0081ff 49.5px,#007fff 51.5px,#0053ff 53.5px,#004fff 54.5px,#008eff 56.5px,#0099ff 57.5px,#008fff 58.5px,#0045ff 60.5px,#002fff 61.5px,#0037ff 62.5px,#0059ff 64.5px,#006bff 67.5px,#0047ff 69.5px,#004eff 72.5px,#0046ff 74.5px,#0058ff 76.5px,#005fff 78.5px,#0032ff 80.5px,#0023ff 83.5px,#0041ff 85.5px,#004bff 87.5px,#005dff 88.5px,#0064ff 89.5px,#003bff 91.5px,#0041ff 92.5px,#0054ff 93.5px,#0054ff 94.5px,#0042ff 95.5px,#0042ff 96.5px,#0055ff 97.5px,#004eff 98.5px,#0025ff 99.5px,#0015ff 100.5px,#0036ff 101.5px,#000bff 110.5px,#000bff 171.5px,#0030ff 179.5px,#0040ff 181.5px,#005cff 182.5px,#005eff 183.5px,#0043ff 186.5px,#0061ff 188.5px,#0071ff 190.5px,#00a6ff 192.5px,#00a7ff 193.5px,#0079ff 195.5px,#006cff 197.5px,#0058ff 198.5px,#005eff 199.5px,#007aff 200.5px,#0083ff 201.5px,#006bff 202.5px,#0049ff 203.5px,#0035ff 204.5px,#0035ff 205.5px,#0054ff 209.5px,#004fff 210.5px,#0023ff 213.5px,#002dff 214.5px,#004cff 215.5px,#005dff 216.5px,#0036ff 218.5px,#0038ff 219.5px,#0057ff 221.5px,#005eff 222.5px,#0053ff 224.5px,#0056ff 225.5px,#0083ff 227.5px,#0081ff 228.5px,#0046ff 230.5px,#004bff 232.5px,#003aff 233.5px,#003bff 234.5px,#004aff 235.5px,#0045ff 236.5px,#000bff 238.5px,#0000f9 239.5px,#0001ff 241.5px,#001bff 243.5px,#0000fe 250.5px,#0000f9 280.5px)"></div>
<div class="r" style="top:239px;background:linear-gradient(90deg,#0000f5 0.5px,#0000f5 28.5px,#0000ff 34.5px,#001cff 39.5px,#003fff 40.5px,#0054ff 42.5px,#0056ff 43.5px,#0032ff 45.5px,#0034ff 46.5px,#005eff 48.5px,#006fff 51.5px,#0057ff 54.5px,#0079ff 56.5px,#007eff 57.5px,#0075ff 58.5px,#003eff 60.5px,#0032ff 61.5px,#0044ff 64.5px,#0062ff 67.5px,#0062ff 68.5px,#003eff 73.5px,#0048ff 76.5px,#0046ff 78.5px,#003bff 79.5px,#0035ff 81.5px,#0020ff 83.5px,#0041ff 85.5px,#0070ff 89.5px,#0063ff 90.5px,#0048ff 91.5px,#0045ff 92.5px,#005cff 94.5px,#003eff 96.5px,#0040ff 97.5px,#0027ff 100.5px,#0006ff 108.5px,#0006ff 172.5px,#0029ff 181.5px,#0031ff 182.5px,#004dff 183.5px,#0057ff 184.5px,#0055ff 185.5px,#0046ff 186.5px,#004fff 189.5px,#0086ff 192.5px,#007eff 193.5px,#0044ff 195.5px,#003dff 198.5px,#004bff 199.5px,#006cff 200.5px,#007bff 201.5px,#006bff 202.5px,#004fff 203.5px,#0042ff 204.5px,#005cff 208.5px,#004eff 211.5px,#0032ff 213.5px,#0037ff 214.5px,#0050ff 215.5px,#0056ff 216.5px,#002cff 218.5px,#0024ff 219.5px,#0029ff 220.5px,#0052ff 222.5px,#0054ff 223.5px,#0045ff 224.5px,#0040ff 225.5px,#0054ff 226.5px,#0074ff 227.5px,#0077ff 228.5px,#0059ff 229.5px,#0047ff 230.5px,#004eff 231.5px,#0044ff 232.5px,#0028ff 233.5px,#002aff 234.5px,#003dff 235.5px,#0037ff 236.5px,#0000fe 238.5px,#0000f5 239.5px,#0000f9 240.5px,#0007ff 241.5px,#0019ff 242.5px,#0000fe 247.5px,#0000f5 253.5px,#0000f5 280.5px)"></div>
<div class="r" style="top:240px;background:linear-gradient(90deg,#0000f0 0.5px,#0000f1 29.5px,#0001ff 38.5px,#0023ff 42.5px,#003dff 43.5px,#0034ff 45.5px,#004bff 47.5px,#0047ff 49.5px,#0051ff 51.5px,#004fff 53.5px,#0064ff 56.5px,#005eff 58.5px,#0025ff 61.5px,#0025ff 62.5px,#0067ff 68.5px,#0067ff 69.5px,#0043ff 71.5px,#0022ff 75.5px,#0031ff 77.5px,#0039ff 81.5px,#0014ff 83.5px,#001eff 84.5px,#0068ff 87.5px,#0072ff 89.5px,#0063ff 90.5px,#0046ff 91.5px,#003cff 92.5px,#004bff 94.5px,#002cff 96.5px,#0025ff 97.5px,#0002ff 106.5px,#0002ff 175.5px,#0022ff 183.5px,#002fff 185.5px,#003fff 186.5px,#0048ff 189.5px,#006bff 191.5px,#005fff 192.5px,#001fff 195.5px,#0021ff 196.5px,#0036ff 198.5px,#0060ff 200.5px,#0066ff 201.5px,#0041ff 203.5px,#0040ff 204.5px,#005dff 207.5px,#0044ff 210.5px,#0037ff 213.5px,#003dff 214.5px,#0055ff 215.5px,#0056ff 216.5px,#002aff 218.5px,#0029ff 219.5px,#0030ff 221.5px,#0046ff 222.5px,#004fff 223.5px,#0037ff 225.5px,#003eff 226.5px,#0050ff 227.5px,#0050ff 228.5px,#0038ff 230.5px,#003dff 231.5px,#001bff 233.5px,#0030ff 235.5px,#0022ff 236.5px,#0008ff 237.5px,#0000f4 238.5px,#001fff 239.5px,#0000fe 243.5px,#0000f1 252.5px,#0000f0 280.5px)"></div>
<div class="r" style="top:241px;background:linear-gradient(90deg,#0000ec 0.5px,#0000ec 29.5px,#0000fb 40.5px,#0023ff 45.5px,#004bff 46.5px,#004fff 47.5px,#002fff 49.5px,#002aff 50.5px,#0035ff 53.5px,#0056ff 55.5px,#004aff 58.5px,#0012ff 62.5px,#001fff 63.5px,#003bff 64.5px,#004cff 65.5px,#004cff 67.5px,#005bff 68.5px,#005fff 69.5px,#0047ff 71.5px,#003dff 73.5px,#0007ff 75.5px,#0008ff 76.5px,#001fff 78.5px,#002eff 81.5px,#0004ff 83.5px,#0005ff 84.5px,#004fff 86.5px,#006cff 87.5px,#0078ff 88.5px,#0075ff 89.5px,#003cff 91.5px,#002dff 92.5px,#0000fd 103.5px,#0000fe 178.5px,#0024ff 187.5px,#0043ff 188.5px,#005dff 190.5px,#0062ff 191.5px,#001dff 193.5px,#0014ff 194.5px,#0019ff 195.5px,#005bff 199.5px,#005fff 200.5px,#002dff 203.5px,#003dff 207.5px,#0026ff 211.5px,#002bff 213.5px,#003cff 214.5px,#005dff 215.5px,#0063ff 216.5px,#0042ff 217.5px,#0032ff 218.5px,#0040ff 220.5px,#0037ff 221.5px,#003aff 223.5px,#0027ff 225.5px,#0031ff 227.5px,#0023ff 229.5px,#0027ff 231.5px,#001eff 234.5px,#0011ff 235.5px,#0020ff 236.5px,#0000ff 240.5px,#0000f8 241.5px,#0000ec 251.5px,#0000ec 280.5px)"></div>
<div class="r" style="top:242px;background:linear-gradient(90deg,#0000e7 0.5px,#0000e7 29.5px,#0000fa 43.5px,#0028ff 49.5px,#0026ff 50.5px,#0032ff 51.5px,#002fff 53.5px,#0044ff 55.5px,#0035ff 58.5px,#000dff 62.5px,#001cff 63.5px,#0038ff 64.5px,#0048ff 65.5px,#003aff 67.5px,#0056ff 69.5px,#0044ff 73.5px,#0006ff 75.5px,#0000f8 76.5px,#0001ff 79.5px,#001aff 81.5px,#0012ff 82.5px,#0000fd 83.5px,#0000f4 84.5px,#0011ff 85.5px,#0040ff 86.5px,#0065ff 87.5px,#0075ff 88.5px,#006aff 89.5px,#0022ff 90.5px,#0000fd 99.5px,#0000f8 101.5px,#0000f8 180.5px,#0000fe 182.5px,#001fff 190.5px,#004cff 191.5px,#000cff 193.5px,#000bff 194.5px,#0024ff 195.5px,#0047ff 196.5px,#005bff 197.5px,#0063ff 199.5px,#0057ff 200.5px,#0021ff 202.5px,#0003ff 206.5px,#0013ff 207.5px,#0019ff 208.5px,#0009ff 210.5px,#0019ff 213.5px,#0030ff 214.5px,#0057ff 215.5px,#0067ff 216.5px,#004dff 217.5px,#0040ff 218.5px,#005fff 220.5px,#0052ff 221.5px,#0011ff 224.5px,#000dff 225.5px,#001cff 227.5px,#0012ff 229.5px,#0024ff 232.5px,#0000fe 237.5px,#0000f7 238.5px,#0000e8 251.5px,#0000e7 280.5px)"></div>
<div class="r" style="top:243px;background:linear-gradient(90deg,#0000e2 0.5px,#0000e3 30.5px,#0000f2 45.5px,#0000ff 47.5px,#0017ff 50.5px,#003dff 51.5px,#003eff 52.5px,#002eff 54.5px,#0020ff 58.5px,#0004ff 60.5px,#000eff 62.5px,#0035ff 64.5px,#003dff 65.5px,#0025ff 67.5px,#0054ff 69.5px,#0037ff 73.5px,#002aff 74.5px,#0000fa 76.5px,#0000e2 77.5px,#0000e2 79.5px,#0007ff 81.5px,#000aff 82.5px,#0000f9 83.5px,#0000e5 84.5px,#0000ee 85.5px,#0019ff 86.5px,#001cff 87.5px,#0000ff 94.5px,#0000f3 98.5px,#0000f3 183.5px,#0000fd 186.5px,#001aff 193.5px,#0007ff 194.5px,#002aff 195.5px,#005dff 196.5px,#0072ff 197.5px,#0056ff 199.5px,#0004ff 202.5px,#0000ff 204.5px,#0000e3 206.5px,#0000f6 207.5px,#0005ff 208.5px,#0000f4 210.5px,#0000ff 211.5px,#0005ff 213.5px,#0015ff 214.5px,#003eff 215.5px,#0054ff 216.5px,#0043ff 218.5px,#0076ff 220.5px,#0071ff 221.5px,#001dff 223.5px,#0000f9 224.5px,#0000f6 225.5px,#000bff 227.5px,#0008ff 229.5px,#001cff 230.5px,#0000fb 234.5px,#0000f4 235.5px,#0000e2 251.5px,#0000e2 280.5px)"></div>
<div class="cb" style="top:3.5px"></div>
<div class="cb" style="top:97.5px"></div>
<div class="cb" style="top:192.5px"></div>
<svg width="340" height="267" viewBox="0 0 340 267" font-family="Liberation Sans, sans-serif">
<svg x="22" y="3" width="281" height="52" viewBox="22 3 281 52"><path class="fl fl" d="M78.0 24.6 93.5 24.6 100.8 24.4 106.0 23.6 117.2 21.4 123.5 20.8 128.0 20.8 134.5 21.5 136.5 22.0 138.5 22.7 140.5 23.7 142.0 24.6 144.0 26.2 146.2 28.5M78.0 32.6 93.5 32.6 100.8 32.8 106.0 33.6 117.2 35.8 123.5 36.4 128.0 36.4 134.5 35.7 136.5 35.2 138.5 34.5 140.5 33.5 142.0 32.6 144.0 31.0 146.2 28.7M178.8 28.5 181.0 26.2 183.0 24.6 184.5 23.7 186.5 22.7 188.5 22.0 190.5 21.5 197.0 20.8 201.5 20.8 207.8 21.4 219.0 23.6 224.2 24.4 231.5 24.6 247.0 24.6M178.8 28.7 181.0 31.0 183.0 32.6 184.5 33.5 186.5 34.5 188.5 35.2 190.5 35.7 197.0 36.4 201.5 36.4 207.8 35.8 219.0 33.6 224.2 32.8 231.5 32.6 247.0 32.6M22.0 19.8 89.8 19.8 95.5 19.5 118.0 17.8 125.0 17.6 131.2 18.0 140.2 19.1 150.0 21.1 157.0 21.8 162.5 22.1 168.0 21.8 175.0 21.1 184.8 19.1 193.8 18.0 200.0 17.6 207.0 17.8 229.5 19.5 235.2 19.8 303.0 19.8M22.0 37.4 89.8 37.4 95.5 37.7 118.0 39.4 125.0 39.6 131.2 39.2 140.2 38.1 150.0 36.1 157.0 35.4 162.5 35.1 168.0 35.4 175.0 36.1 184.8 38.1 193.8 39.2 200.0 39.6 207.0 39.4 229.5 37.7 235.2 37.4 303.0 37.4M22.0 16.3 89.8 16.3 117.5 14.7 124.0 14.5 128.8 14.7 134.5 15.1 141.0 15.8 149.8 17.0 161.5 17.6 167.2 17.5 175.2 17.0 184.0 15.8 189.8 15.2 195.8 14.7 200.5 14.5 207.2 14.7 235.2 16.3 303.0 16.3M22.0 40.9 89.8 40.9 117.5 42.5 124.0 42.7 128.8 42.5 134.5 42.1 141.0 41.4 149.8 40.2 161.5 39.6 167.2 39.7 175.2 40.2 184.0 41.4 189.8 42.0 195.8 42.5 200.5 42.7 207.2 42.5 235.2 40.9 303.0 40.9M22.0 12.8 89.8 12.8 117.5 11.5 124.0 11.4 132.2 11.7 149.2 13.1 161.0 13.5 175.5 13.2 192.2 11.8 200.5 11.4 207.2 11.5 235.2 12.8 303.0 12.8M22.0 44.4 89.8 44.4 117.5 45.7 124.0 45.8 132.2 45.5 149.2 44.1 161.0 43.7 175.5 44.0 192.2 45.4 200.5 45.8 207.2 45.7 235.2 44.4 303.0 44.4M22.0 9.3 89.8 9.3 124.0 8.3 132.2 8.5 149.2 9.5 161.0 9.8 175.5 9.6 192.2 8.6 200.5 8.3 235.2 9.3 303.0 9.3M22.0 47.9 89.8 47.9 124.0 48.9 132.2 48.7 149.2 47.7 161.0 47.4 175.5 47.6 192.2 48.6 200.5 48.9 235.2 47.9 303.0 47.9M22.0 5.8 89.8 5.8 124.0 5.2 136.0 5.5 149.8 6.1 162.0 6.3 175.2 6.1 184.8 5.6 200.2 5.2 235.2 5.8 303.0 5.8M22.0 51.4 89.8 51.4 124.0 52.0 136.0 51.7 149.8 51.1 162.0 50.9 175.2 51.1 184.8 51.6 200.2 52.0 235.2 51.4 303.0 51.4M22.0 2.3 89.8 2.3 124.0 1.9 162.5 2.7 200.0 1.9 235.2 2.3 303.0 2.3M22.0 54.9 89.8 54.9 125.0 55.3 162.5 54.5 200.0 55.3 235.2 54.9 303.0 54.9M22.0 -1.2 89.8 -1.2 125.5 -1.4 162.5 -0.9 199.5 -1.4 235.2 -1.2 303.0 -1.2M22.0 58.4 89.8 58.4 125.5 58.6 162.5 58.1 199.5 58.6 235.2 58.4 303.0 58.4M22.0 -4.7 126.2 -4.8 162.5 -4.5 198.8 -4.8 303.0 -4.7M22.0 61.9 126.2 62.0 162.5 61.7 198.8 62.0 303.0 61.9"/><path class="fl fl3" d="M58.0 24.6 68.0 24.6M58.0 32.6 68.0 32.6M257.0 24.6 267.0 24.6M257.0 32.6 267.0 32.6"/><path class="fl fl2" d="M68.0 24.6 78.0 24.6M68.0 32.6 78.0 32.6M247.0 24.6 257.0 24.6M247.0 32.6 257.0 32.6"/></svg>
<svg x="22" y="97" width="281" height="52" viewBox="22 97 281 52"><path class="fl fl" d="M127.5 123.5 126.8 125.2 125.2 126.8 123.2 128.2 120.5 129.5 117.0 130.5 113.2 131.3 109.8 131.6 106.0 131.7 101.8 131.4 98.2 130.9 94.8 130.0 92.0 129.0 89.5 127.7 87.5 126.0 86.5 124.6 86.2 124.0 86.0 122.6 86.2 121.2 86.5 120.6 87.5 119.2 89.5 117.5 92.0 116.2 94.8 115.2 98.2 114.3 101.8 113.8 106.0 113.5 109.8 113.6 113.2 113.9 117.0 114.7 120.5 115.7 123.2 117.0 125.2 118.4 126.8 120.0 127.5 121.7M195.8 122.0 196.0 121.1 196.5 120.2 197.8 118.7 199.8 117.3 202.5 116.0 205.8 114.9 209.0 114.2 212.5 113.7 217.2 113.5 222.0 113.7 224.8 114.0 228.5 114.7 232.0 115.8 234.8 117.0 237.0 118.4 238.5 120.0 239.2 121.5M195.8 123.2 196.0 124.1 196.5 125.0 197.8 126.5 199.8 127.9 202.5 129.2 205.8 130.3 209.0 131.0 212.5 131.5 217.2 131.7 222.0 131.5 224.8 131.2 228.5 130.5 232.0 129.4 234.8 128.2 237.0 126.8 238.5 125.2 239.2 123.7M85.0 121.2 86.0 119.3 87.5 117.6 90.5 115.1 93.0 113.6 96.5 112.1 99.2 111.3 104.2 110.6 108.2 110.4 112.2 110.7 119.5 112.1 124.0 113.2 127.8 114.6 130.0 115.8 132.2 117.7 134.2 120.1 135.0 121.3 135.2 122.1M85.0 124.0 86.0 125.9 87.5 127.6 90.5 130.1 93.0 131.6 96.5 133.1 99.2 133.9 104.2 134.6 108.2 134.8 112.2 134.5 119.5 133.1 124.0 132.0 127.8 130.6 130.0 129.4 132.2 127.5 134.2 125.1 135.0 123.9 135.2 123.1M188.8 121.8 190.0 118.6 191.0 117.3 193.0 115.7 195.8 114.3 200.0 112.9 204.2 111.9 211.8 110.8 216.8 110.4 220.8 110.6 225.8 111.3 228.5 112.1 231.8 113.5 234.2 114.9 237.8 117.7 239.5 119.6 240.5 121.4M188.8 123.4 190.0 126.6 191.0 127.9 193.0 129.5 195.8 130.9 200.0 132.3 204.2 133.3 211.8 134.4 216.8 134.8 220.8 134.6 225.8 133.9 228.5 133.1 231.8 131.7 234.2 130.3 237.8 127.5 239.5 125.6 240.5 123.8M22.0 118.4 41.0 117.3 48.8 117.0 60.5 117.2 69.2 117.8 79.2 117.7 81.5 117.3 82.8 116.9 85.5 115.3 91.5 111.3 93.0 110.6 96.2 109.3 99.0 108.6 102.5 108.0 106.0 107.7 109.0 107.6 112.8 107.9 124.0 109.4 128.8 110.2 132.0 111.2 137.0 113.6 140.0 115.5 143.2 118.1 147.5 122.4M22.0 126.8 41.0 127.9 48.8 128.2 60.5 128.0 69.2 127.4 79.2 127.5 81.5 127.9 82.8 128.3 85.5 129.9 91.5 133.9 93.0 134.6 96.2 135.9 99.0 136.6 102.5 137.2 106.0 137.5 109.0 137.6 112.8 137.3 124.0 135.8 128.8 135.0 132.0 134.0 137.0 131.6 140.0 129.7 143.2 127.1 147.5 122.8M175.5 122.4 179.8 118.1 183.0 115.5 186.0 113.6 191.0 111.2 194.2 110.2 199.0 109.4 210.2 107.9 214.0 107.6 217.0 107.7 220.5 108.0 224.0 108.6 226.8 109.3 230.0 110.6 231.5 111.3 237.5 115.3 240.2 116.9 241.5 117.3 243.8 117.7 253.8 117.8 262.5 117.2 274.2 117.0 280.8 117.2 301.0 118.4 303.0 118.4M175.5 122.8 179.8 127.1 183.0 129.7 186.0 131.6 191.0 134.0 194.2 135.0 199.0 135.8 210.2 137.3 214.0 137.6 217.0 137.5 220.5 137.2 224.0 136.6 226.8 135.9 230.0 134.6 231.5 133.9 237.5 129.9 240.2 128.3 241.5 127.9 243.8 127.5 253.8 127.4 262.5 128.0 274.2 128.2 280.8 128.0 301.0 126.8 303.0 126.8M22.0 113.8 56.0 112.4 61.0 112.5 76.8 113.3 80.8 113.4 82.5 113.0 84.5 112.2 88.8 110.3 93.0 107.9 94.8 107.2 102.5 105.2 105.2 104.8 108.0 104.6 112.2 104.9 122.5 106.4 142.0 109.6 151.2 112.0 156.2 112.6 160.2 112.9 164.5 112.8 171.2 112.1 173.8 111.5 179.5 109.9 184.0 109.0 209.2 105.1 212.5 104.7 215.2 104.6 218.0 104.8 220.8 105.2 228.2 107.2 230.0 107.9 234.2 110.3 238.5 112.2 240.5 113.0 242.2 113.4 246.2 113.3 262.0 112.5 267.0 112.4 303.0 113.8M22.0 131.4 56.0 132.8 61.0 132.7 76.8 131.9 80.8 131.8 82.5 132.2 84.5 133.0 88.8 134.9 93.0 137.3 94.8 138.0 102.5 140.0 105.2 140.4 108.0 140.6 112.2 140.3 122.5 138.8 142.0 135.6 151.2 133.2 156.2 132.6 160.2 132.3 164.5 132.4 171.2 133.1 173.8 133.7 179.5 135.3 184.0 136.2 209.2 140.1 212.5 140.5 215.2 140.6 218.0 140.4 220.8 140.0 228.2 138.0 230.0 137.3 234.2 134.9 238.5 133.0 240.5 132.2 242.2 131.8 246.2 131.9 262.0 132.7 267.0 132.8 303.0 131.4M22.0 110.3 36.2 109.1 50.8 108.6 59.8 108.5 75.5 109.2 81.2 109.2 84.2 108.7 91.5 106.7 102.8 102.9 105.5 102.3 108.0 102.1 110.8 102.3 118.2 103.2 142.8 104.7 151.5 105.8 161.5 106.2 171.5 105.8 180.5 104.7 204.2 103.3 212.5 102.2 215.8 102.1 218.0 102.4 220.5 102.9 231.5 106.7 238.8 108.7 241.8 109.2 247.5 109.2 263.2 108.5 272.0 108.6 285.2 109.0 301.0 110.3 303.0 110.3M22.0 134.9 36.2 136.1 50.8 136.6 59.8 136.7 75.5 136.0 81.2 136.0 84.2 136.5 91.5 138.5 102.8 142.3 105.5 142.9 108.0 143.1 110.8 142.9 118.2 142.0 142.8 140.5 151.5 139.4 161.5 139.0 171.5 139.4 180.5 140.5 204.2 141.9 212.5 143.0 215.8 143.1 218.0 142.8 220.5 142.3 231.5 138.5 238.8 136.5 241.8 136.0 247.5 136.0 263.2 136.7 272.0 136.6 285.2 136.2 301.0 134.9 303.0 134.9M22.0 106.8 36.5 105.8 49.8 105.3 58.8 105.2 76.5 105.6 82.0 105.5 85.8 105.0 92.8 103.6 103.2 100.5 105.8 100.0 108.0 99.8 110.2 100.0 115.5 100.8 117.8 101.0 129.8 100.6 143.0 100.4 152.0 100.6 161.5 101.0 171.0 100.6 180.0 100.4 193.2 100.6 205.2 101.0 207.5 100.8 213.0 99.9 215.5 99.8 217.8 100.0 220.0 100.5 230.2 103.6 237.2 105.0 241.0 105.5 246.5 105.6 264.2 105.2 273.0 105.3 285.0 105.7 301.0 106.8 303.0 106.8M22.0 138.4 36.5 139.4 49.8 139.9 58.8 140.0 76.5 139.6 82.0 139.7 85.8 140.2 92.8 141.6 103.2 144.7 105.8 145.2 108.0 145.4 110.2 145.2 115.5 144.4 117.8 144.2 129.8 144.6 143.0 144.8 152.0 144.6 161.5 144.2 171.0 144.6 180.0 144.8 193.2 144.6 205.2 144.2 207.5 144.4 213.0 145.3 215.5 145.4 217.8 145.2 220.0 144.7 230.2 141.6 237.2 140.2 241.0 139.7 246.5 139.6 264.2 140.0 273.0 139.9 285.0 139.5 301.0 138.4 303.0 138.4M22.0 103.3 36.5 102.4 50.0 102.0 59.5 101.9 81.2 102.3 85.0 101.9 92.8 100.5 102.0 98.3 106.0 97.7 109.2 97.6 116.0 98.5 119.2 98.6 138.0 96.8 142.8 96.6 181.8 96.6 186.0 96.9 200.8 98.4 204.5 98.6 207.2 98.5 213.2 97.7 215.8 97.6 219.8 98.1 229.8 100.4 237.8 101.8 241.2 102.2 246.8 102.3 264.0 101.9 273.0 102.0 285.0 102.3 301.0 103.3 303.0 103.3M22.0 141.9 36.5 142.8 50.0 143.2 59.5 143.3 81.2 142.9 85.0 143.3 92.8 144.7 102.0 146.9 106.0 147.5 109.2 147.6 116.0 146.7 119.2 146.6 138.0 148.4 142.8 148.6 181.8 148.6 186.0 148.3 200.8 146.8 204.5 146.6 207.2 146.7 213.2 147.5 215.8 147.6 219.8 147.1 229.8 144.8 237.8 143.4 241.2 143.0 246.8 142.9 264.0 143.3 273.0 143.2 285.0 142.9 301.0 141.9 303.0 141.9M22.0 99.8 36.5 99.0 50.2 98.6 59.5 98.6 81.5 99.0 85.2 98.6 93.0 97.5 102.0 95.7 106.0 95.2 109.2 95.1 116.0 96.0 119.0 96.1 122.0 95.8 129.0 94.7 137.5 94.0 150.5 93.0 161.5 92.6 172.5 93.0 185.5 94.0 194.0 94.7 201.0 95.8 204.0 96.1 207.0 96.0 213.8 95.1 217.0 95.2 221.0 95.7 230.0 97.5 237.8 98.6 241.5 99.0 263.5 98.6 272.5 98.6 285.0 99.0 303.0 99.8M22.0 145.4 36.5 146.2 50.2 146.6 59.5 146.6 81.5 146.2 85.2 146.6 93.0 147.7 102.0 149.5 106.0 150.0 109.2 150.1 116.0 149.2 119.0 149.1 122.0 149.4 129.0 150.5 137.5 151.2 150.5 152.2 161.5 152.6 172.5 152.2 185.5 151.2 194.0 150.5 201.0 149.4 204.0 149.1 207.0 149.2 213.8 150.1 217.0 150.0 221.0 149.5 230.0 147.7 237.8 146.6 241.5 146.2 263.5 146.6 272.5 146.6 285.0 146.2 303.0 145.4M22.0 96.3 36.0 95.7 49.5 95.4 59.8 95.3 78.8 95.6 83.8 95.5 89.8 95.0 103.8 93.1 110.8 92.4 138.2 90.1 161.5 88.7 184.8 90.1 212.2 92.4 219.2 93.1 233.2 95.0 239.2 95.5 244.2 95.6 263.0 95.3 273.2 95.3 285.2 95.6 303.0 96.3M22.0 148.9 36.0 149.5 49.5 149.8 59.8 149.9 78.8 149.6 83.8 149.7 89.8 150.2 103.8 152.1 110.8 152.8 138.2 155.1 161.5 156.5 184.8 155.1 212.2 152.8 219.2 152.1 233.2 150.2 239.2 149.7 244.2 149.6 263.0 149.9 273.2 149.9 285.2 149.6 303.0 148.9M22.0 92.8 36.0 92.2 49.2 91.9 59.8 91.8 79.2 92.1 85.2 91.9 92.0 91.4 107.2 89.7 161.5 84.7 215.8 89.7 231.0 91.4 237.8 91.9 243.8 92.1 263.2 91.8 273.5 91.9 285.2 92.1 303.0 92.8M22.0 152.4 36.0 153.0 49.2 153.3 59.8 153.4 79.2 153.1 85.2 153.3 92.0 153.8 107.2 155.5 161.5 160.5 215.8 155.5 231.0 153.8 237.8 153.3 243.8 153.1 263.2 153.4 273.5 153.3 285.2 153.1 303.0 152.4"/></svg>
<svg x="22" y="192" width="281" height="52" viewBox="22 192 281 52"><path class="fl fl" d="M22.0 208.0 33.0 210.0 41.5 212.0 49.5 214.6 53.8 216.4 56.0 217.6 53.8 218.8 49.5 220.6 41.5 223.2 33.0 225.2 22.0 227.2M269.8 217.4 276.2 214.6 284.0 212.0 292.2 210.1 303.0 208.1M269.8 217.8 276.2 220.6 284.0 223.2 292.2 225.1 303.0 227.1M60.5 217.4 68.8 212.0 70.5 211.2 73.8 210.0 77.8 208.7 81.2 207.9 87.5 206.9 91.8 206.6 99.8 206.9 104.0 207.8 106.2 208.6 108.8 210.1 111.0 212.3 112.5 214.8 113.2 216.9M60.5 217.8 68.8 223.2 70.5 224.0 73.8 225.2 77.8 226.5 81.2 227.3 87.5 228.3 91.8 228.6 99.8 228.3 104.0 227.4 106.2 226.6 108.8 225.1 111.0 222.9 112.5 220.4 113.2 218.3M212.5 216.3 213.8 213.6 215.2 211.6 217.2 209.8 219.8 208.5 222.5 207.6 226.0 206.8 234.0 206.6 238.0 206.9 244.5 208.0 248.0 208.8 252.0 210.0 255.0 211.1 256.8 212.0 265.0 217.3M212.5 218.9 213.8 221.6 215.2 223.6 217.2 225.4 219.8 226.7 222.5 227.6 226.0 228.4 234.0 228.6 238.0 228.3 244.5 227.2 248.0 226.4 252.0 225.2 255.0 224.1 256.8 223.2 265.0 217.9M22.0 204.8 30.5 205.2 40.5 206.3 44.5 206.9 54.8 209.2 57.5 209.4 60.2 209.0 64.5 208.0 71.8 204.7 77.5 202.8 81.8 201.8 87.5 200.9 91.5 200.6 96.5 200.8 103.0 201.5 106.8 202.2 110.8 203.4 113.8 204.7 116.0 206.3 118.5 208.8 120.2 211.5 121.5 214.4 121.8 215.3 122.0 217.6 121.8 219.9 121.5 220.8 120.2 223.7 118.5 226.4 116.0 228.9 113.8 230.5 110.8 231.8 106.8 233.0 103.0 233.7 96.5 234.4 91.5 234.6 87.5 234.3 81.8 233.4 77.5 232.4 71.8 230.5 64.5 227.2 60.2 226.2 57.5 225.8 54.8 226.0 44.5 228.3 40.5 228.9 30.5 230.0 22.0 230.4M203.8 215.9 204.5 213.3 206.2 210.0 208.2 207.5 210.8 205.4 213.2 204.0 217.2 202.6 221.0 201.7 225.0 201.2 230.5 200.7 234.8 200.6 238.5 201.0 244.2 201.9 248.2 202.9 253.8 204.7 261.2 208.0 265.5 209.1 268.0 209.4 270.8 209.2 281.0 207.0 285.0 206.3 294.8 205.3 303.0 204.8M203.8 219.3 204.5 221.9 206.2 225.2 208.2 227.7 210.8 229.8 213.2 231.2 217.2 232.6 221.0 233.5 225.0 234.0 230.5 234.5 234.8 234.6 238.5 234.2 244.2 233.3 248.2 232.3 253.8 230.5 261.2 227.2 265.5 226.1 268.0 225.8 270.8 226.0 281.0 228.2 285.0 228.9 294.8 229.9 303.0 230.4M22.0 202.3 30.0 202.5 40.2 203.0 54.2 204.5 57.5 204.6 60.2 204.2 65.2 202.7 71.0 200.4 75.5 198.9 78.8 198.0 81.2 197.5 87.5 196.9 92.5 196.8 98.2 197.0 105.2 197.7 110.5 198.7 115.0 200.0 118.5 201.8 122.5 204.5 124.0 205.9 125.5 207.5 127.0 209.5 128.0 211.1 129.5 214.5 129.8 215.4 130.0 217.6 129.8 219.8 129.5 220.7 128.0 224.1 127.0 225.7 125.5 227.7 124.0 229.3 122.5 230.7 118.5 233.4 115.0 235.2 110.5 236.5 105.2 237.5 98.2 238.2 92.5 238.4 87.5 238.3 81.2 237.7 78.8 237.2 75.5 236.3 71.0 234.8 65.2 232.5 60.2 231.0 57.5 230.6 54.2 230.7 40.2 232.2 30.0 232.7 22.0 232.9M195.8 215.9 196.8 212.8 198.5 209.6 201.2 206.2 204.0 203.8 207.8 201.4 211.2 199.8 216.0 198.5 221.0 197.6 228.0 197.0 233.2 196.8 238.2 197.0 244.5 197.5 247.0 198.0 250.2 199.0 254.5 200.4 260.5 202.8 265.2 204.1 268.0 204.6 271.2 204.5 285.2 203.0 295.2 202.5 303.0 202.3M195.8 219.3 196.8 222.4 198.5 225.6 201.2 229.0 204.0 231.4 207.8 233.8 211.2 235.4 216.0 236.7 221.0 237.6 228.0 238.2 233.2 238.4 238.2 238.2 244.5 237.7 247.0 237.2 250.2 236.2 254.5 234.8 260.5 232.4 265.2 231.1 268.0 230.6 271.2 230.7 285.2 232.2 295.2 232.7 303.0 232.9M22.0 199.3 40.2 199.6 52.8 200.5 57.8 200.6 59.8 200.3 62.0 199.7 66.0 198.5 71.8 196.2 77.0 194.7 80.5 194.0 86.8 193.5 92.8 193.4 97.2 193.7 103.2 194.3 110.0 195.7 115.0 197.2 120.5 199.5 125.2 202.3 128.5 204.9 131.5 208.5 133.8 212.1 135.0 214.9 135.5 216.6M22.0 235.9 40.2 235.6 52.8 234.7 57.8 234.6 59.8 234.9 62.0 235.5 66.0 236.7 71.8 239.0 77.0 240.5 80.5 241.2 86.8 241.7 92.8 241.8 97.2 241.5 103.2 240.9 110.0 239.5 115.0 238.0 120.5 235.7 125.2 232.9 128.5 230.3 131.5 226.7 133.8 223.1 135.0 220.3 135.5 218.6M190.2 215.9 191.0 213.9 192.2 211.3 194.8 207.6 197.5 204.5 200.8 202.0 205.5 199.3 211.0 197.1 215.8 195.7 222.8 194.3 228.8 193.6 233.0 193.4 239.2 193.5 245.2 194.0 248.8 194.7 253.8 196.1 259.8 198.5 263.8 199.7 266.0 200.3 268.0 200.6 273.0 200.4 285.2 199.6 303.0 199.3M190.2 219.3 191.0 221.3 192.2 223.9 194.8 227.6 197.5 230.7 200.8 233.2 205.5 235.9 211.0 238.1 215.8 239.5 222.8 240.9 228.8 241.6 233.0 241.8 239.2 241.7 245.2 241.2 248.8 240.5 253.8 239.1 259.8 236.7 263.8 235.5 266.0 234.9 268.0 234.6 273.0 234.8 285.2 235.6 303.0 235.9M22.0 196.8 41.2 196.8 57.8 197.1 59.5 196.8 61.5 196.2 66.5 194.6 74.2 191.8 80.5 190.1 83.8 189.4 86.5 189.1 90.5 189.2 95.5 189.5 101.5 190.2 105.8 191.2 114.8 194.1 122.0 197.1 128.5 200.2 136.2 205.0 140.8 208.1 145.2 211.6 151.2 217.3M22.0 238.4 41.2 238.4 57.8 238.1 59.5 238.4 61.5 239.0 66.5 240.6 74.2 243.4 80.5 245.1 83.8 245.8 86.5 246.1 90.5 246.0 95.5 245.7 101.5 245.0 105.8 244.0 114.8 241.1 122.0 238.1 128.5 235.0 136.2 230.2 140.8 227.1 145.2 223.6 151.2 217.9M174.2 217.4 176.2 215.4 180.2 211.7 184.5 208.4 189.2 205.0 197.0 200.3 203.5 197.1 210.8 194.2 219.8 191.2 224.0 190.2 229.8 189.6 234.8 189.2 239.0 189.1 241.8 189.4 245.0 190.0 251.5 191.9 259.8 194.8 265.2 196.6 267.8 197.1 284.2 196.8 303.0 196.8M174.2 217.8 176.2 219.8 180.2 223.5 184.5 226.8 189.2 230.2 197.0 234.9 203.5 238.1 210.8 241.0 219.8 244.0 224.0 245.0 229.8 245.6 234.8 246.0 239.0 246.1 241.8 245.8 245.0 245.2 251.5 243.3 259.8 240.4 265.2 238.6 267.8 238.1 284.2 238.4 303.0 238.4M22.0 194.3 49.8 193.8 57.5 193.6 60.0 193.0 64.2 191.3 74.0 188.0 78.5 186.8 85.2 186.0 92.0 185.4 98.0 185.1 102.2 185.2 107.2 185.9 117.5 188.1 122.8 189.5 128.0 191.1 131.0 192.3 144.5 198.4 146.8 199.6 151.5 202.5 153.8 203.6 158.5 205.1 162.8 205.9 166.8 205.2 171.8 203.7 174.0 202.5 179.0 199.5 181.2 198.3 194.5 192.3 197.5 191.1 202.8 189.5 208.0 188.2 218.2 185.9 223.2 185.2 227.5 185.1 233.5 185.4 240.2 186.0 247.0 186.8 251.8 188.1 261.5 191.4 265.5 192.9 268.0 193.5 275.5 193.8 303.0 194.3M22.0 240.9 49.8 241.4 57.5 241.6 60.0 242.2 64.2 243.9 74.0 247.2 78.5 248.4 85.2 249.2 92.0 249.8 98.0 250.1 102.2 250.0 107.2 249.3 117.5 247.1 122.8 245.7 128.0 244.1 131.0 242.9 144.5 236.8 146.8 235.6 151.5 232.7 153.8 231.6 158.5 230.1 162.8 229.3 166.8 230.0 171.8 231.5 174.0 232.7 179.0 235.7 181.2 236.9 194.5 242.9 197.5 244.1 202.8 245.7 208.0 247.0 218.2 249.3 223.2 250.0 227.5 250.1 233.5 249.8 240.2 249.2 247.0 248.4 251.8 247.1 261.5 243.8 265.5 242.3 268.0 241.7 275.5 241.4 303.0 240.9M22.0 191.6 30.8 191.5 40.0 191.2 50.2 190.6 58.2 189.9 60.5 189.4 63.0 188.6 74.0 183.8 76.5 183.0 78.8 182.7 111.5 182.7 114.8 183.1 118.2 183.9 128.2 187.1 139.0 190.2 141.5 191.2 144.2 192.6 154.5 198.4 159.0 200.0 162.8 200.9 166.5 200.0 171.2 198.3 177.0 194.9 181.2 192.6 184.0 191.3 186.5 190.3 197.2 187.1 207.5 183.9 211.0 183.0 214.2 182.6 247.0 182.7 249.2 183.1 251.8 183.8 262.5 188.5 265.2 189.5 267.5 190.0 275.5 190.6 285.5 191.2 303.0 191.6M22.0 243.6 30.8 243.7 40.0 244.0 50.2 244.6 58.2 245.3 60.5 245.8 63.0 246.6 74.0 251.4 76.5 252.2 78.8 252.5 111.5 252.5 114.8 252.1 118.2 251.3 128.2 248.1 139.0 245.0 141.5 244.0 144.2 242.6 154.5 236.8 159.0 235.2 162.8 234.3 166.5 235.2 171.2 236.9 177.0 240.3 181.2 242.6 184.0 243.9 186.5 244.9 197.2 248.1 207.5 251.3 211.0 252.2 214.2 252.6 247.0 252.5 249.2 252.1 251.8 251.4 262.5 246.7 265.2 245.7 267.5 245.2 275.5 244.6 285.5 244.0 303.0 243.6M22.0 188.6 30.5 188.5 39.2 188.1 49.0 187.4 58.0 186.5 60.2 185.9 62.8 185.0 71.2 181.0 74.2 179.7 77.2 178.9 80.0 178.6 92.0 178.8 104.8 179.4 120.2 180.6 125.2 181.4 132.0 183.3 141.0 186.5 146.8 189.3 155.5 194.4 159.5 195.9 162.8 196.7 166.0 195.9 170.2 194.3 178.2 189.6 184.2 186.6 191.0 184.2 196.2 182.5 200.5 181.4 204.5 180.7 223.2 179.3 237.2 178.7 245.5 178.6 247.2 178.7 249.5 179.2 252.0 180.0 262.8 185.0 265.2 185.9 267.5 186.4 276.0 187.3 285.8 188.0 294.5 188.4 303.0 188.6M22.0 246.6 30.5 246.7 39.2 247.1 49.0 247.8 58.0 248.7 60.2 249.3 62.8 250.2 71.2 254.2 74.2 255.5 77.2 256.3 80.0 256.6 92.0 256.4 104.8 255.8 120.2 254.6 125.2 253.8 132.0 251.9 141.0 248.7 146.8 245.9 155.5 240.8 159.5 239.3 162.8 238.5 166.0 239.3 170.2 240.9 178.2 245.6 184.2 248.6 191.0 251.0 196.2 252.7 200.5 253.8 204.5 254.5 223.2 255.9 237.2 256.5 245.5 256.6 247.2 256.5 249.5 256.0 252.0 255.2 262.8 250.2 265.2 249.3 267.5 248.8 276.0 247.9 285.8 247.2 294.5 246.8 303.0 246.6M22.0 185.6 29.8 185.4 38.2 184.8 47.5 183.9 57.8 182.5 60.0 181.9 62.5 181.0 71.0 177.0 74.0 175.8 77.2 174.9 80.0 174.6 92.2 174.8 105.2 175.4 120.2 176.6 125.5 177.5 129.2 178.5 133.5 179.9 145.2 184.7 147.8 186.0 154.8 190.0 162.8 193.5 166.5 192.0 171.0 189.9 177.8 186.0 180.2 184.8 190.0 180.7 196.5 178.5 200.8 177.4 204.8 176.7 223.8 175.2 238.0 174.7 245.8 174.6 247.5 174.7 249.8 175.2 252.2 176.0 263.0 180.9 265.5 181.9 267.8 182.5 277.8 183.8 287.0 184.8 295.2 185.4 303.0 185.6M22.0 249.6 29.8 249.8 38.2 250.4 47.5 251.3 57.8 252.7 60.0 253.3 62.5 254.2 71.0 258.2 74.0 259.4 77.2 260.3 80.0 260.6 92.2 260.4 105.2 259.8 120.2 258.6 125.5 257.7 129.2 256.7 133.5 255.3 145.2 250.5 147.8 249.2 154.8 245.2 162.8 241.7 166.5 243.2 171.0 245.3 177.8 249.2 180.2 250.4 190.0 254.5 196.5 256.7 200.8 257.8 204.8 258.5 223.8 260.0 238.0 260.5 245.8 260.6 247.5 260.5 249.8 260.0 252.2 259.2 263.0 254.3 265.5 253.3 267.8 252.7 277.8 251.4 287.0 250.4 295.2 249.8 303.0 249.6M22.0 182.6 29.2 182.4 37.2 181.7 46.2 180.4 57.5 178.5 59.8 177.9 62.2 177.0 70.5 173.2 73.8 171.8 77.0 170.9 80.0 170.6 92.8 170.8 106.5 171.5 120.8 172.7 127.0 173.7 131.2 174.8 135.8 176.2 147.5 180.6 151.0 182.3 154.5 184.2 162.8 189.4 171.0 184.3 177.2 181.0 186.2 177.5 194.5 174.8 199.8 173.5 204.5 172.7 216.0 171.8 227.2 171.1 240.5 170.6 245.8 170.6 247.8 170.8 250.0 171.2 252.5 172.1 263.2 176.9 265.8 177.9 268.0 178.5 279.0 180.4 287.8 181.6 295.8 182.3 303.0 182.6M22.0 252.6 29.2 252.8 37.2 253.5 46.2 254.8 57.5 256.7 59.8 257.3 62.2 258.2 70.5 262.0 73.8 263.4 77.0 264.3 80.0 264.6 92.8 264.4 106.5 263.7 120.8 262.5 127.0 261.5 131.2 260.4 135.8 259.0 147.5 254.6 151.0 252.9 154.5 251.0 162.8 245.8 171.0 250.9 177.2 254.2 186.2 257.7 194.5 260.4 199.8 261.7 204.5 262.5 216.0 263.4 227.2 264.1 240.5 264.6 245.8 264.6 247.8 264.4 250.0 264.0 252.5 263.1 263.2 258.3 265.8 257.3 268.0 256.7 279.0 254.8 287.8 253.6 295.8 252.9 303.0 252.6"/></svg>
<rect class="fr" x="22.3" y="3.2" width="280.4" height="51.4"/>
<rect class="fr" x="315.3" y="3.7" width="14.4" height="51.6"/>
<text class="tk" text-anchor="end" x="20" y="5.2">5</text>
<text class="tk" text-anchor="end" x="20" y="30.9">0</text>
<text class="tk" text-anchor="end" x="20" y="56.6">-5</text>
<text class="tk" text-anchor="middle" x="21.0" y="62.7">-30</text>
<text class="tk" text-anchor="middle" x="67.8" y="62.7">-20</text>
<text class="tk" text-anchor="middle" x="114.7" y="62.7">-10</text>
<text class="tk" text-anchor="middle" x="162.2" y="62.7">0</text>
<text class="tk" text-anchor="middle" x="209.0" y="62.7">10</text>
<text class="tk" text-anchor="middle" x="255.9" y="62.7">20</text>
<text class="tk" text-anchor="middle" x="302.7" y="62.7">30</text>
<text class="tk" x="331.3" y="10.1">1</text>
<text class="tk" x="331.3" y="31.8">0.5</text>
<text class="tk" x="331.3" y="53.5">0</text>
<text class="ax" text-anchor="middle" x="161.7" y="77.5">X</text>
<text class="ax" text-anchor="middle" transform="translate(7.9 29.9) rotate(-90)">Z</text>
<text class="tl" x="269.6" y="13.7">t=50</text>
<path class="ar" style="stroke-opacity:0.95" d="M145 36.7 H181.6"/>
<path class="ah" d="M143 36.7 l5 -2 v4z M183.6 36.7 l-5 -2 v4z"/>
<svg x="22" y="3" width="281" height="52.2" viewBox="22 3 281 52.2"><text class="an" x="143.3" y="50.0">~ 10 d<tspan class="sub" dx="0.5" dy="4.5">e</tspan></text></svg>
<rect class="fr" x="22.3" y="97.2" width="280.4" height="51.4"/>
<rect class="fr" x="315.3" y="97.7" width="14.4" height="51.6"/>
<text class="tk" text-anchor="end" x="20" y="99.1">5</text>
<text class="tk" text-anchor="end" x="20" y="124.9">0</text>
<text class="tk" text-anchor="end" x="20" y="150.7">-5</text>
<text class="tk" text-anchor="middle" x="21.0" y="156.7">-30</text>
<text class="tk" text-anchor="middle" x="67.8" y="156.7">-20</text>
<text class="tk" text-anchor="middle" x="114.7" y="156.7">-10</text>
<text class="tk" text-anchor="middle" x="162.2" y="156.7">0</text>
<text class="tk" text-anchor="middle" x="209.0" y="156.7">10</text>
<text class="tk" text-anchor="middle" x="255.9" y="156.7">20</text>
<text class="tk" text-anchor="middle" x="302.7" y="156.7">30</text>
<text class="tk" x="331.3" y="104.1">1</text>
<text class="tk" x="331.3" y="125.8">0.5</text>
<text class="tk" x="331.3" y="147.5">0</text>
<text class="ax" text-anchor="middle" x="161.7" y="171.5">X</text>
<text class="ax" text-anchor="middle" transform="translate(7.9 123.9) rotate(-90)">Z</text>
<text class="tl" x="269.6" y="107.7">t=75</text>
<path class="ar" style="stroke-opacity:0.3" d="M151.6 130.2 H175.2"/>
<path class="ah" d="M149.6 130.2 l5 -2 v4z M177.2 130.2 l-5 -2 v4z"/>
<svg x="22" y="97" width="281" height="52.2" viewBox="22 97 281 52.2"><text class="an" x="146.6" y="143.2">~ 6 d<tspan class="sub" dx="0.5" dy="4.5">e</tspan></text></svg>
<rect class="fr" x="22.3" y="192.2" width="280.4" height="51.4"/>
<rect class="fr" x="315.3" y="192.7" width="14.4" height="51.6"/>
<text class="tk" text-anchor="end" x="20" y="194.2">5</text>
<text class="tk" text-anchor="end" x="20" y="219.9">0</text>
<text class="tk" text-anchor="end" x="20" y="245.7">-5</text>
<text class="tk" text-anchor="middle" x="21.0" y="251.7">-30</text>
<text class="tk" text-anchor="middle" x="67.8" y="251.7">-20</text>
<text class="tk" text-anchor="middle" x="114.7" y="251.7">-10</text>
<text class="tk" text-anchor="middle" x="162.2" y="251.7">0</text>
<text class="tk" text-anchor="middle" x="209.0" y="251.7">10</text>
<text class="tk" text-anchor="middle" x="255.9" y="251.7">20</text>
<text class="tk" text-anchor="middle" x="302.7" y="251.7">30</text>
<text class="tk" x="331.3" y="199.1">1</text>
<text class="tk" x="331.3" y="220.8">0.5</text>
<text class="tk" x="331.3" y="242.5">0</text>
<text class="ax" text-anchor="middle" x="161.7" y="266.5">X</text>
<text class="ax" text-anchor="middle" transform="translate(7.9 218.9) rotate(-90)">Z</text>
<text class="tl" x="269.6" y="202.7">t=100</text>
<path class="ar" style="stroke-opacity:0.9" d="M149.8 223.9 H174.2"/>
<path class="ah" d="M147.8 223.9 l5 -2 v4z M176.2 223.9 l-5 -2 v4z"/>
<svg x="22" y="192" width="281" height="52.2" viewBox="22 192 281 52.2"><text class="an" x="145" y="238.5">~ 6 d<tspan class="sub" dx="0.5" dy="4.5">e</tspan></text></svg>
</svg>
</body></html>
